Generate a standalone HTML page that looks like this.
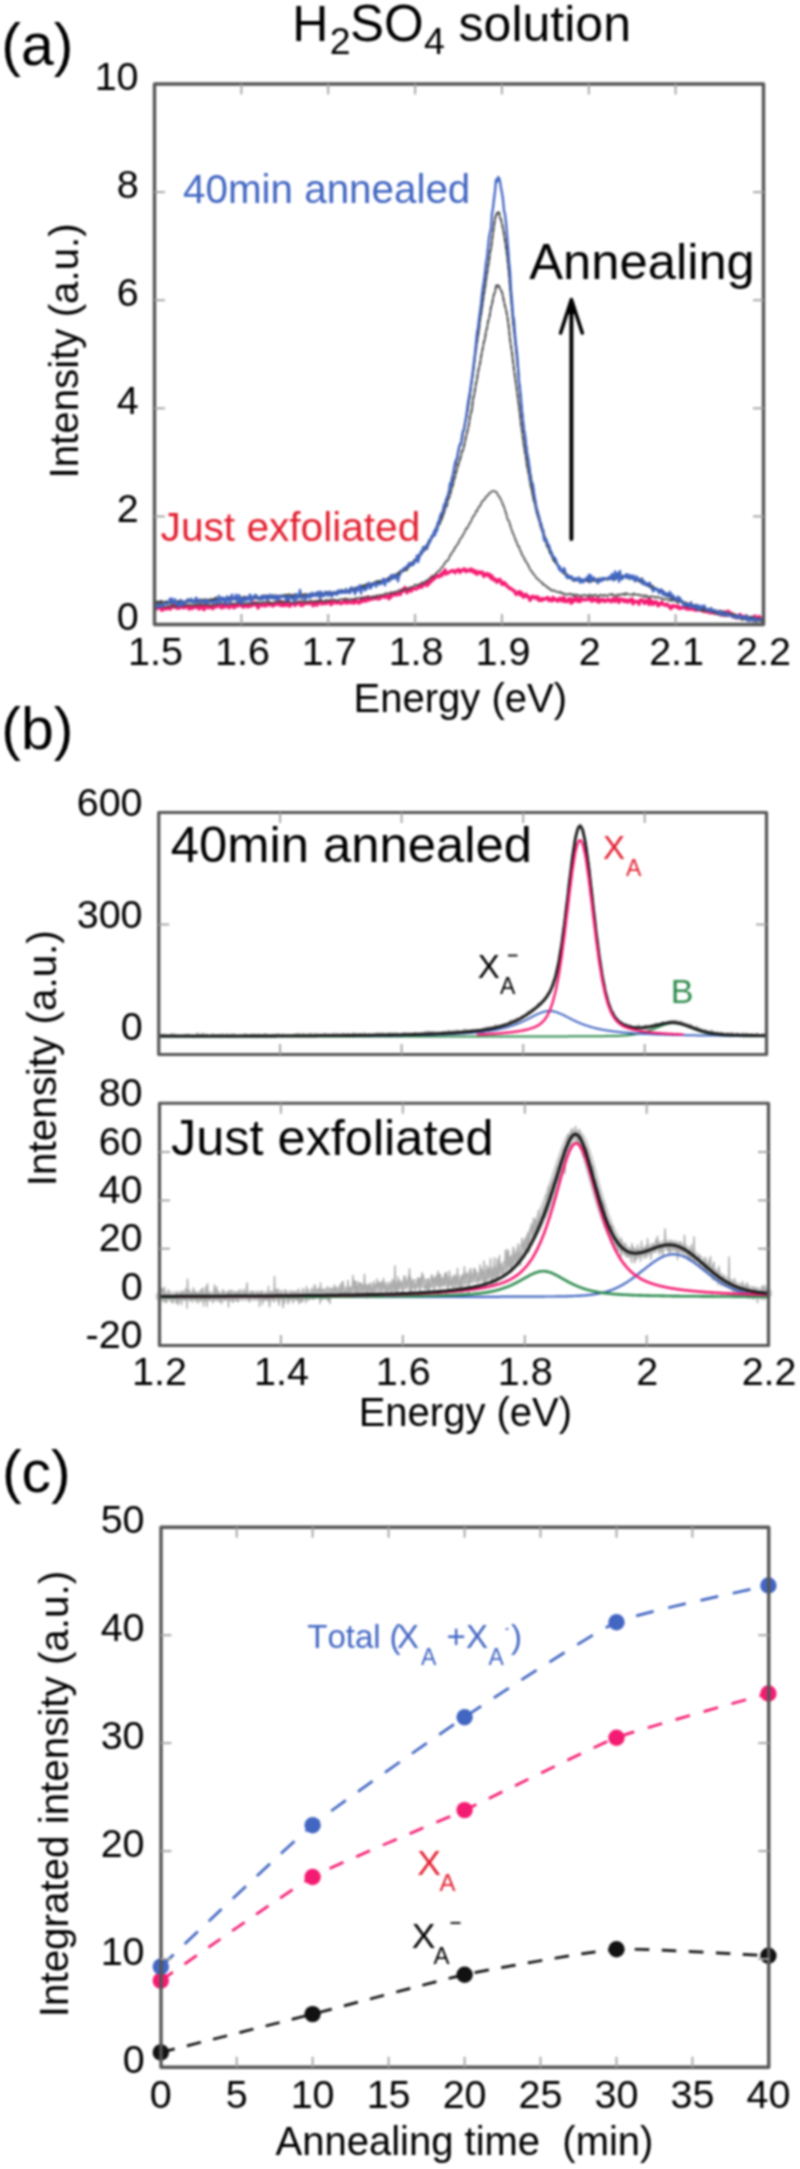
<!DOCTYPE html>
<html><head><meta charset="utf-8"><style>
html,body{margin:0;padding:0;background:#fff;overflow:hidden;}
svg{display:block;}
#w{filter:blur(0.8px);}
text{font-family:"Liberation Sans", sans-serif;font-kerning:none;}
</style></head><body>
<div id="w"><svg width="800" height="2169" viewBox="0 0 800 2169">
<rect width="800" height="2169" fill="#fff"/>
<text x="1.3" y="64.5" font-size="59" fill="#000" text-anchor="start" >(a)</text>
<text y="40.5" font-size="50"><tspan x="292.3">H</tspan><tspan x="329.7" y="54" font-size="37.5">2</tspan><tspan x="350.0" y="41.3" font-size="51">SO</tspan><tspan x="424.1" y="54" font-size="37.5">4</tspan><tspan x="458.6" y="41">solution</tspan></text>
<polyline points="155.0,608.8 156.0,609.1 157.0,608.4 158.0,607.5 159.0,608.0 160.0,607.3 161.0,608.6 162.0,610.3 163.0,607.8 164.0,607.6 165.0,609.0 166.0,608.8 167.0,608.5 168.0,607.1 169.0,608.2 170.0,609.1 171.0,606.4 172.0,607.5 173.0,605.6 174.0,606.4 175.0,605.6 176.0,607.7 177.0,606.3 178.0,608.3 179.0,608.1 180.0,607.6 181.0,604.5 182.0,607.0 183.0,607.6 184.0,607.8 185.0,605.6 186.0,607.0 187.0,606.3 188.0,606.5 189.0,608.9 190.0,606.4 191.0,607.4 192.0,608.5 193.0,606.6 194.0,607.1 195.0,607.4 196.0,607.3 197.0,605.6 198.0,607.2 199.0,608.9 200.0,605.1 201.0,608.1 202.0,607.2 203.0,606.1 204.0,609.5 205.0,607.9 206.0,605.3 207.0,606.9 208.0,607.5 209.0,606.5 210.0,607.6 211.0,606.6 212.0,607.5 213.0,608.5 214.0,605.7 215.0,606.8 216.0,605.9 217.0,606.6 218.0,604.9 219.0,605.6 220.0,606.1 221.0,607.5 222.0,607.8 223.0,604.5 224.0,605.2 225.0,607.0 226.0,603.5 227.0,605.5 228.0,605.9 229.0,607.7 230.0,606.9 231.0,605.5 232.0,605.4 233.0,605.6 234.0,607.8 235.0,605.3 236.0,605.4 237.0,606.2 238.0,605.6 239.0,605.4 240.0,604.2 241.0,605.6 242.0,605.0 243.0,607.1 244.0,606.4 245.0,605.4 246.0,606.3 247.0,605.0 248.0,606.7 249.0,605.3 250.0,606.1 251.0,603.6 252.0,605.7 253.0,603.0 254.0,602.5 255.0,604.7 256.0,603.9 257.0,605.3 258.0,608.0 259.0,603.9 260.0,604.2 261.0,605.2 262.0,605.6 263.0,604.7 264.0,604.6 265.0,605.8 266.0,605.5 267.0,603.4 268.0,604.7 269.0,604.8 270.0,603.3 271.0,605.0 272.0,603.5 273.0,605.9 274.0,604.9 275.0,604.7 276.0,603.8 277.0,604.4 278.0,601.9 279.0,603.0 280.0,604.9 281.0,601.7 282.0,605.5 283.0,602.1 284.0,605.3 285.0,603.2 286.0,605.3 287.0,604.4 288.0,602.3 289.0,605.8 290.0,606.1 291.0,604.1 292.0,603.8 293.0,603.9 294.0,602.8 295.0,605.5 296.0,603.3 297.0,603.9 298.0,602.9 299.0,603.1 300.0,602.3 301.0,605.5 302.0,603.7 303.0,605.1 304.0,603.8 305.0,602.9 306.0,603.3 307.0,603.0 308.0,603.7 309.0,603.2 310.0,603.2 311.0,601.8 312.0,602.5 313.0,605.7 314.0,602.6 315.0,602.1 316.0,603.8 317.0,605.2 318.0,601.4 319.0,603.0 320.0,602.4 321.0,600.9 322.0,604.1 323.0,603.1 324.0,603.2 325.0,602.1 326.0,603.6 327.0,602.2 328.0,602.7 329.0,601.4 330.0,601.2 331.0,604.5 332.0,602.0 333.0,603.0 334.0,602.5 335.0,602.0 336.0,601.8 337.0,603.2 338.0,602.0 339.0,602.1 340.0,602.3 341.0,603.7 342.0,603.0 343.0,602.5 344.0,601.2 345.0,600.1 346.0,603.0 347.0,603.0 348.0,601.5 349.0,602.3 350.0,602.5 351.0,602.5 352.0,602.5 353.0,600.6 354.0,603.1 355.0,599.4 356.0,602.1 357.0,601.5 358.0,601.9 359.0,603.1 360.0,602.5 361.0,599.0 362.0,598.2 363.0,601.3 364.0,598.8 365.0,600.0 366.0,601.0 367.0,597.7 368.0,596.9 369.0,599.9 370.0,599.5 371.0,599.0 372.0,599.2 373.0,597.9 374.0,597.0 375.0,598.6 376.0,597.4 377.0,596.4 378.0,599.0 379.0,598.1 380.0,598.5 381.0,596.5 382.0,596.8 383.0,596.1 384.0,596.1 385.0,597.3 386.0,595.8 387.0,597.0 388.0,596.8 389.0,598.7 390.0,594.1 391.0,596.8 392.0,595.2 393.0,595.1 394.0,592.9 395.0,594.0 396.0,595.2 397.0,593.9 398.0,593.8 399.0,593.0 400.0,594.6 401.0,592.8 402.0,589.7 403.0,591.3 404.0,589.4 405.0,587.4 406.0,590.6 407.0,592.7 408.0,590.7 409.0,588.8 410.0,588.8 411.0,591.2 412.0,589.6 413.0,589.1 414.0,588.7 415.0,588.4 416.0,589.1 417.0,588.4 418.0,587.5 419.0,585.5 420.0,587.1 421.0,585.2 422.0,587.1 423.0,583.5 424.0,584.6 425.0,584.3 426.0,582.1 427.0,585.5 428.0,584.7 429.0,581.6 430.0,582.6 431.0,581.4 432.0,576.8 433.0,579.8 434.0,578.7 435.0,578.1 436.0,575.9 437.0,576.3 438.0,575.8 439.0,577.0 440.0,575.2 441.0,574.1 442.0,575.5 443.0,572.3 444.0,572.1 445.0,569.9 446.0,574.1 447.0,573.2 448.0,572.9 449.0,572.4 450.0,571.5 451.0,571.5 452.0,570.7 453.0,570.7 454.0,570.9 455.0,572.7 456.0,571.3 457.0,570.4 458.0,569.7 459.0,569.6 460.0,572.4 461.0,571.0 462.0,570.4 463.0,569.9 464.0,568.9 465.0,570.3 466.0,571.6 467.0,570.0 468.0,570.3 469.0,570.5 470.0,571.0 471.0,569.0 472.0,570.9 473.0,570.3 474.0,572.7 475.0,570.8 476.0,572.7 477.0,574.2 478.0,572.0 479.0,571.8 480.0,573.0 481.0,573.0 482.0,572.0 483.0,574.2 484.0,576.5 485.0,573.9 486.0,574.3 487.0,573.6 488.0,575.8 489.0,574.2 490.0,574.8 491.0,578.4 492.0,576.0 493.0,579.1 494.0,580.1 495.0,579.0 496.0,579.9 497.0,582.2 498.0,580.0 499.0,580.0 500.0,579.5 501.0,581.9 502.0,584.4 503.0,584.4 504.0,582.6 505.0,583.4 506.0,584.6 507.0,586.4 508.0,586.5 509.0,587.8 510.0,588.6 511.0,588.5 512.0,589.4 513.0,590.4 514.0,590.6 515.0,592.0 516.0,594.4 517.0,593.3 518.0,593.3 519.0,591.6 520.0,594.8 521.0,592.3 522.0,593.5 523.0,596.8 524.0,597.0 525.0,596.1 526.0,594.3 527.0,596.2 528.0,596.1 529.0,598.0 530.0,600.3 531.0,597.8 532.0,596.7 533.0,596.3 534.0,597.9 535.0,597.9 536.0,596.8 537.0,598.6 538.0,597.1 539.0,600.2 540.0,600.2 541.0,600.4 542.0,598.4 543.0,599.8 544.0,599.0 545.0,598.8 546.0,598.9 547.0,597.7 548.0,597.6 549.0,600.5 550.0,599.3 551.0,599.9 552.0,600.9 553.0,597.4 554.0,598.6 555.0,599.9 556.0,600.2 557.0,599.2 558.0,601.1 559.0,600.0 560.0,598.2 561.0,598.6 562.0,600.9 563.0,600.4 564.0,597.4 565.0,601.6 566.0,600.7 567.0,601.6 568.0,599.4 569.0,599.5 570.0,598.5 571.0,603.2 572.0,599.7 573.0,602.0 574.0,599.1 575.0,600.2 576.0,597.8 577.0,599.5 578.0,601.3 579.0,598.4 580.0,601.4 581.0,600.5 582.0,598.7 583.0,599.4 584.0,599.5 585.0,600.0 586.0,599.4 587.0,599.0 588.0,599.7 589.0,598.8 590.0,598.5 591.0,600.1 592.0,601.3 593.0,598.2 594.0,600.2 595.0,599.4 596.0,599.0 597.0,601.3 598.0,599.6 599.0,602.2 600.0,599.3 601.0,600.8 602.0,600.0 603.0,599.4 604.0,601.2 605.0,600.2 606.0,601.2 607.0,600.4 608.0,599.1 609.0,600.4 610.0,600.6 611.0,601.8 612.0,599.4 613.0,600.6 614.0,598.4 615.0,601.5 616.0,599.3 617.0,598.4 618.0,600.7 619.0,602.3 620.0,598.9 621.0,599.5 622.0,600.0 623.0,599.5 624.0,601.5 625.0,600.0 626.0,600.2 627.0,601.9 628.0,600.2 629.0,601.8 630.0,600.0 631.0,599.7 632.0,599.0 633.0,603.8 634.0,601.1 635.0,601.8 636.0,601.5 637.0,601.8 638.0,601.7 639.0,604.2 640.0,600.4 641.0,599.8 642.0,600.6 643.0,600.3 644.0,603.1 645.0,603.3 646.0,601.0 647.0,600.6 648.0,602.1 649.0,604.4 650.0,599.1 651.0,603.6 652.0,601.6 653.0,604.5 654.0,601.9 655.0,603.1 656.0,601.7 657.0,602.5 658.0,605.7 659.0,605.2 660.0,603.7 661.0,603.3 662.0,602.1 663.0,604.3 664.0,604.9 665.0,605.0 666.0,605.2 667.0,604.0 668.0,605.6 669.0,605.8 670.0,607.7 671.0,608.6 672.0,606.2 673.0,605.6 674.0,606.6 675.0,606.1 676.0,606.1 677.0,607.2 678.0,606.0 679.0,608.4 680.0,607.6 681.0,608.2 682.0,607.8 683.0,607.2 684.0,607.1 685.0,608.2 686.0,607.9 687.0,609.1 688.0,608.9 689.0,607.3 690.0,609.3 691.0,607.6 692.0,608.7 693.0,609.2 694.0,607.0 695.0,610.0 696.0,610.2 697.0,610.0 698.0,609.7 699.0,609.9 700.0,609.3 701.0,610.4 702.0,610.1 703.0,611.1 704.0,609.6 705.0,611.6 706.0,611.6 707.0,611.4 708.0,611.1 709.0,612.5 710.0,609.8 711.0,612.7 712.0,612.5 713.0,612.7 714.0,613.0 715.0,611.8 716.0,612.4 717.0,613.8 718.0,613.6 719.0,613.5 720.0,611.4 721.0,614.2 722.0,615.1 723.0,615.1 724.0,614.2 725.0,612.0 726.0,615.4 727.0,614.1 728.0,611.2 729.0,615.1 730.0,612.8 731.0,613.2 732.0,614.2 733.0,616.8 734.0,614.8 735.0,615.8 736.0,617.8 737.0,617.8 738.0,615.7 739.0,615.7 740.0,614.5 741.0,615.4 742.0,617.0 743.0,617.1 744.0,616.8 745.0,618.1 746.0,616.0 747.0,617.0 748.0,618.2 749.0,618.1 750.0,618.9 751.0,618.2 752.0,617.4 753.0,618.4 754.0,616.8 755.0,616.1 756.0,619.1 757.0,618.4 758.0,619.1 759.0,616.6 760.0,618.5 761.0,618.3 762.0,618.1" fill="none" stroke="#f41c72" stroke-width="3.4" stroke-linejoin="round" stroke-linecap="round" />
<polyline points="155.0,605.1 156.0,606.3 157.0,607.0 158.0,606.6 159.0,606.0 160.0,606.3 161.0,606.7 162.0,604.6 163.0,606.1 164.0,606.5 165.0,606.5 166.0,607.1 167.0,606.7 168.0,606.2 169.0,606.1 170.0,606.4 171.0,605.5 172.0,605.8 173.0,606.3 174.0,606.9 175.0,605.6 176.0,605.6 177.0,605.8 178.0,606.4 179.0,605.5 180.0,606.4 181.0,604.9 182.0,605.3 183.0,605.3 184.0,605.8 185.0,606.0 186.0,604.4 187.0,604.7 188.0,605.4 189.0,604.8 190.0,604.2 191.0,605.7 192.0,605.4 193.0,605.3 194.0,604.7 195.0,605.6 196.0,604.8 197.0,605.5 198.0,604.3 199.0,604.3 200.0,604.9 201.0,604.3 202.0,605.1 203.0,604.8 204.0,604.1 205.0,604.6 206.0,604.3 207.0,605.1 208.0,604.1 209.0,604.2 210.0,605.1 211.0,605.7 212.0,605.5 213.0,604.3 214.0,604.4 215.0,605.1 216.0,604.1 217.0,603.6 218.0,604.2 219.0,604.3 220.0,603.5 221.0,603.0 222.0,603.1 223.0,604.3 224.0,603.4 225.0,603.8 226.0,604.0 227.0,604.2 228.0,603.6 229.0,604.0 230.0,603.2 231.0,603.4 232.0,603.0 233.0,604.3 234.0,603.5 235.0,603.1 236.0,603.3 237.0,603.3 238.0,603.8 239.0,602.4 240.0,602.7 241.0,603.1 242.0,604.8 243.0,603.8 244.0,603.1 245.0,603.6 246.0,604.4 247.0,603.0 248.0,602.8 249.0,603.8 250.0,603.3 251.0,603.4 252.0,602.6 253.0,604.1 254.0,603.9 255.0,603.2 256.0,603.2 257.0,601.6 258.0,603.1 259.0,602.6 260.0,602.9 261.0,603.1 262.0,602.4 263.0,601.6 264.0,602.8 265.0,602.1 266.0,602.3 267.0,602.1 268.0,602.3 269.0,601.1 270.0,603.1 271.0,602.5 272.0,603.0 273.0,603.5 274.0,602.3 275.0,601.2 276.0,601.7 277.0,601.5 278.0,601.9 279.0,602.2 280.0,601.0 281.0,602.3 282.0,601.2 283.0,602.3 284.0,602.0 285.0,601.8 286.0,602.0 287.0,601.7 288.0,601.6 289.0,600.9 290.0,601.9 291.0,603.0 292.0,603.0 293.0,602.6 294.0,602.2 295.0,601.4 296.0,602.6 297.0,601.7 298.0,601.6 299.0,601.5 300.0,601.7 301.0,601.3 302.0,601.5 303.0,600.9 304.0,601.3 305.0,602.8 306.0,601.4 307.0,601.3 308.0,601.7 309.0,601.8 310.0,600.6 311.0,601.2 312.0,601.8 313.0,601.4 314.0,601.2 315.0,602.1 316.0,600.7 317.0,601.1 318.0,600.7 319.0,601.9 320.0,599.8 321.0,600.5 322.0,600.5 323.0,601.2 324.0,601.1 325.0,601.6 326.0,599.7 327.0,601.1 328.0,600.4 329.0,600.1 330.0,600.8 331.0,599.9 332.0,599.2 333.0,600.1 334.0,599.4 335.0,599.8 336.0,600.4 337.0,600.3 338.0,601.0 339.0,599.9 340.0,599.0 341.0,599.4 342.0,599.3 343.0,599.0 344.0,599.9 345.0,599.2 346.0,598.3 347.0,599.9 348.0,599.3 349.0,599.5 350.0,599.3 351.0,599.5 352.0,599.1 353.0,599.7 354.0,599.1 355.0,599.0 356.0,598.9 357.0,597.7 358.0,598.4 359.0,598.2 360.0,598.4 361.0,597.4 362.0,599.0 363.0,598.0 364.0,597.1 365.0,596.7 366.0,597.5 367.0,597.5 368.0,597.0 369.0,597.3 370.0,596.8 371.0,597.4 372.0,596.5 373.0,596.7 374.0,597.2 375.0,598.0 376.0,595.8 377.0,595.9 378.0,595.5 379.0,596.4 380.0,595.0 381.0,595.2 382.0,595.3 383.0,594.5 384.0,594.3 385.0,594.4 386.0,593.2 387.0,593.4 388.0,593.8 389.0,593.9 390.0,593.4 391.0,592.2 392.0,592.7 393.0,593.2 394.0,592.8 395.0,592.1 396.0,591.3 397.0,592.0 398.0,590.9 399.0,590.3 400.0,590.2 401.0,591.3 402.0,590.2 403.0,590.5 404.0,589.2 405.0,589.7 406.0,588.4 407.0,588.4 408.0,589.6 409.0,588.3 410.0,587.2 411.0,587.1 412.0,587.0 413.0,587.2 414.0,585.8 415.0,584.7 416.0,585.2 417.0,585.0 418.0,584.7 419.0,585.0 420.0,583.9 421.0,583.8 422.0,582.2 423.0,582.9 424.0,583.1 425.0,581.8 426.0,581.0 427.0,580.4 428.0,580.8 429.0,578.5 430.0,578.4 431.0,578.0 432.0,577.4 433.0,576.0 434.0,575.6 435.0,574.4 436.0,573.7 437.0,572.7 438.0,571.1 439.0,570.8 440.0,570.3 441.0,568.0 442.0,567.3 443.0,566.5 444.0,564.1 445.0,563.4 446.0,561.2 447.0,561.0 448.0,560.1 449.0,558.4 450.0,555.5 451.0,554.5 452.0,552.6 453.0,551.0 454.0,550.4 455.0,547.1 456.0,546.9 457.0,544.6 458.0,543.9 459.0,541.5 460.0,539.4 461.0,538.3 462.0,536.9 463.0,534.8 464.0,533.4 465.0,531.1 466.0,528.5 467.0,528.6 468.0,526.7 469.0,524.6 470.0,522.8 471.0,521.5 472.0,518.8 473.0,516.9 474.0,515.4 475.0,514.5 476.0,511.2 477.0,511.1 478.0,508.4 479.0,506.5 480.0,506.3 481.0,503.8 482.0,501.5 483.0,500.6 484.0,499.9 485.0,498.8 486.0,496.7 487.0,496.2 488.0,495.3 489.0,493.5 490.0,493.1 491.0,492.1 492.0,491.1 493.0,490.8 494.0,491.1 495.0,491.4 496.0,491.8 497.0,493.0 498.0,495.2 499.0,496.2 500.0,498.0 501.0,499.9 502.0,501.7 503.0,505.3 504.0,506.3 505.0,510.3 506.0,512.8 507.0,517.2 508.0,520.3 509.0,521.1 510.0,524.4 511.0,528.0 512.0,530.7 513.0,533.3 514.0,535.5 515.0,538.4 516.0,541.0 517.0,543.1 518.0,546.1 519.0,546.4 520.0,550.4 521.0,551.5 522.0,554.8 523.0,556.1 524.0,557.7 525.0,560.4 526.0,561.5 527.0,563.3 528.0,564.6 529.0,567.2 530.0,569.0 531.0,570.8 532.0,571.6 533.0,573.7 534.0,574.5 535.0,575.7 536.0,577.3 537.0,578.8 538.0,579.1 539.0,580.2 540.0,581.2 541.0,582.2 542.0,582.5 543.0,584.5 544.0,584.4 545.0,585.7 546.0,585.7 547.0,587.1 548.0,587.8 549.0,588.0 550.0,590.0 551.0,589.5 552.0,590.9 553.0,590.8 554.0,590.2 555.0,590.8 556.0,591.7 557.0,591.9 558.0,592.2 559.0,592.4 560.0,591.8 561.0,593.1 562.0,592.2 563.0,594.1 564.0,593.7 565.0,593.9 566.0,594.4 567.0,594.9 568.0,594.0 569.0,593.9 570.0,594.4 571.0,593.8 572.0,594.5 573.0,596.1 574.0,594.5 575.0,595.5 576.0,594.4 577.0,595.4 578.0,595.0 579.0,595.2 580.0,595.6 581.0,596.4 582.0,595.4 583.0,595.4 584.0,594.8 585.0,595.7 586.0,595.2 587.0,595.9 588.0,595.4 589.0,596.5 590.0,594.3 591.0,595.3 592.0,596.0 593.0,595.3 594.0,595.0 595.0,595.3 596.0,594.7 597.0,595.6 598.0,597.0 599.0,596.2 600.0,594.8 601.0,595.0 602.0,595.2 603.0,596.1 604.0,595.0 605.0,595.0 606.0,595.9 607.0,595.9 608.0,595.1 609.0,594.6 610.0,594.3 611.0,594.8 612.0,593.8 613.0,595.5 614.0,594.7 615.0,595.3 616.0,596.1 617.0,595.6 618.0,594.2 619.0,595.3 620.0,595.5 621.0,594.3 622.0,594.1 623.0,594.6 624.0,593.6 625.0,595.5 626.0,593.1 627.0,593.9 628.0,594.4 629.0,594.4 630.0,594.6 631.0,594.7 632.0,594.4 633.0,595.3 634.0,593.3 635.0,594.7 636.0,594.3 637.0,594.9 638.0,595.1 639.0,594.5 640.0,594.8 641.0,595.8 642.0,595.6 643.0,595.1 644.0,596.9 645.0,597.2 646.0,595.1 647.0,596.3 648.0,597.7 649.0,596.8 650.0,596.6 651.0,596.5 652.0,596.4 653.0,596.8 654.0,596.7 655.0,597.7 656.0,597.1 657.0,597.3 658.0,597.0 659.0,597.8 660.0,597.5 661.0,598.1 662.0,599.0 663.0,598.8 664.0,599.1 665.0,599.2 666.0,599.2 667.0,599.3 668.0,599.4 669.0,600.3 670.0,599.4 671.0,601.0 672.0,600.5 673.0,600.2 674.0,600.6 675.0,600.7 676.0,601.4 677.0,601.1 678.0,602.4 679.0,601.5 680.0,600.8 681.0,602.0 682.0,601.4 683.0,602.8 684.0,603.7 685.0,603.7 686.0,602.7 687.0,603.3 688.0,605.0 689.0,604.4 690.0,604.4 691.0,605.3 692.0,606.4 693.0,605.9 694.0,605.5 695.0,605.9 696.0,606.3 697.0,605.8 698.0,605.8 699.0,606.7 700.0,606.4 701.0,607.2 702.0,607.5 703.0,609.1 704.0,607.4 705.0,608.1 706.0,608.4 707.0,609.0 708.0,609.6 709.0,608.9 710.0,608.9 711.0,608.7 712.0,609.3 713.0,610.4 714.0,610.4 715.0,610.0 716.0,610.6 717.0,611.0 718.0,611.5 719.0,611.1 720.0,611.5 721.0,610.8 722.0,611.4 723.0,613.3 724.0,611.3 725.0,612.6 726.0,613.1 727.0,613.0 728.0,613.0 729.0,613.6 730.0,613.9 731.0,614.0 732.0,613.1 733.0,614.4 734.0,614.2 735.0,614.5 736.0,615.2 737.0,615.6 738.0,616.0 739.0,615.3 740.0,616.3 741.0,616.7 742.0,616.8 743.0,617.1 744.0,616.4 745.0,616.5 746.0,617.3 747.0,616.1 748.0,617.2 749.0,616.9 750.0,617.1 751.0,616.5 752.0,617.1 753.0,617.8 754.0,618.5 755.0,618.7 756.0,618.2 757.0,618.2 758.0,618.0 759.0,618.8 760.0,618.6 761.0,619.2 762.0,620.0" fill="none" stroke="#484848" stroke-width="1.9" stroke-linejoin="round" stroke-linecap="round" stroke-dasharray="6 1.5" stroke-opacity="0.9"/>
<polyline points="155.0,603.0 156.0,601.6 157.0,602.1 158.0,601.5 159.0,601.7 160.0,603.9 161.0,602.9 162.0,601.3 163.0,603.2 164.0,603.6 165.0,602.1 166.0,601.8 167.0,602.0 168.0,602.6 169.0,602.8 170.0,603.3 171.0,603.2 172.0,603.1 173.0,603.2 174.0,602.6 175.0,600.5 176.0,601.7 177.0,602.1 178.0,601.4 179.0,602.5 180.0,601.3 181.0,600.7 182.0,602.8 183.0,602.1 184.0,601.6 185.0,602.2 186.0,602.3 187.0,601.5 188.0,599.0 189.0,600.5 190.0,600.7 191.0,600.1 192.0,601.1 193.0,602.0 194.0,600.4 195.0,599.8 196.0,602.6 197.0,600.3 198.0,599.5 199.0,600.8 200.0,600.9 201.0,599.8 202.0,601.1 203.0,599.9 204.0,599.4 205.0,600.4 206.0,600.8 207.0,599.5 208.0,600.3 209.0,599.9 210.0,602.4 211.0,599.2 212.0,601.0 213.0,599.7 214.0,599.5 215.0,600.2 216.0,600.3 217.0,600.6 218.0,599.7 219.0,598.8 220.0,598.8 221.0,599.7 222.0,599.7 223.0,600.3 224.0,599.4 225.0,599.9 226.0,600.2 227.0,599.0 228.0,597.4 229.0,597.6 230.0,597.3 231.0,600.0 232.0,597.7 233.0,599.6 234.0,598.9 235.0,599.9 236.0,599.2 237.0,598.1 238.0,598.0 239.0,598.2 240.0,598.2 241.0,597.5 242.0,597.9 243.0,599.3 244.0,596.3 245.0,598.0 246.0,596.9 247.0,597.8 248.0,598.4 249.0,597.5 250.0,598.2 251.0,596.0 252.0,598.4 253.0,596.8 254.0,597.9 255.0,597.4 256.0,594.9 257.0,596.5 258.0,597.4 259.0,598.5 260.0,597.3 261.0,597.3 262.0,595.7 263.0,598.3 264.0,598.6 265.0,596.9 266.0,596.7 267.0,595.4 268.0,597.6 269.0,599.2 270.0,597.4 271.0,597.8 272.0,597.1 273.0,595.7 274.0,597.8 275.0,595.4 276.0,596.3 277.0,596.7 278.0,597.2 279.0,596.8 280.0,596.7 281.0,595.7 282.0,595.2 283.0,596.3 284.0,595.6 285.0,595.0 286.0,595.0 287.0,595.7 288.0,594.4 289.0,594.8 290.0,594.5 291.0,596.1 292.0,596.3 293.0,597.7 294.0,594.5 295.0,595.2 296.0,596.5 297.0,595.5 298.0,595.3 299.0,597.1 300.0,595.2 301.0,594.4 302.0,594.2 303.0,595.6 304.0,595.6 305.0,594.0 306.0,594.3 307.0,595.6 308.0,595.6 309.0,594.4 310.0,595.5 311.0,595.4 312.0,593.2 313.0,594.4 314.0,595.0 315.0,594.0 316.0,592.5 317.0,594.1 318.0,595.0 319.0,595.7 320.0,592.2 321.0,596.4 322.0,593.0 323.0,594.8 324.0,594.9 325.0,594.6 326.0,593.7 327.0,592.5 328.0,594.0 329.0,592.7 330.0,590.9 331.0,595.7 332.0,593.6 333.0,594.5 334.0,592.0 335.0,594.0 336.0,594.0 337.0,593.8 338.0,592.3 339.0,591.1 340.0,591.9 341.0,589.9 342.0,590.2 343.0,591.7 344.0,590.5 345.0,591.1 346.0,591.0 347.0,592.6 348.0,591.8 349.0,590.4 350.0,591.3 351.0,589.3 352.0,589.4 353.0,590.3 354.0,588.1 355.0,588.7 356.0,587.5 357.0,588.6 358.0,589.6 359.0,587.2 360.0,587.8 361.0,586.5 362.0,586.0 363.0,585.6 364.0,587.8 365.0,588.3 366.0,586.3 367.0,584.9 368.0,585.9 369.0,584.7 370.0,585.4 371.0,584.6 372.0,584.3 373.0,584.3 374.0,582.9 375.0,582.8 376.0,581.3 377.0,582.2 378.0,581.0 379.0,581.9 380.0,580.9 381.0,581.5 382.0,581.5 383.0,579.5 384.0,579.8 385.0,579.3 386.0,580.5 387.0,581.0 388.0,579.9 389.0,578.5 390.0,579.7 391.0,576.6 392.0,578.9 393.0,576.5 394.0,574.1 395.0,578.5 396.0,577.0 397.0,574.1 398.0,574.5 399.0,573.6 400.0,573.2 401.0,571.1 402.0,571.1 403.0,571.4 404.0,570.5 405.0,570.6 406.0,568.8 407.0,570.1 408.0,566.5 409.0,566.6 410.0,563.8 411.0,563.5 412.0,565.0 413.0,562.0 414.0,562.4 415.0,560.8 416.0,558.9 417.0,558.5 418.0,557.3 419.0,556.2 420.0,556.1 421.0,554.9 422.0,552.5 423.0,551.0 424.0,550.8 425.0,549.2 426.0,548.9 427.0,549.0 428.0,545.9 429.0,543.6 430.0,541.9 431.0,539.7 432.0,538.0 433.0,536.2 434.0,534.9 435.0,533.0 436.0,532.1 437.0,528.9 438.0,526.9 439.0,523.6 440.0,523.8 441.0,520.3 442.0,518.8 443.0,515.3 444.0,513.2 445.0,508.9 446.0,507.0 447.0,505.8 448.0,499.2 449.0,498.2 450.0,495.5 451.0,491.0 452.0,488.0 453.0,485.0 454.0,479.8 455.0,477.3 456.0,472.6 457.0,469.2 458.0,465.7 459.0,462.6 460.0,459.4 461.0,456.2 462.0,450.9 463.0,450.5 464.0,446.0 465.0,441.8 466.0,436.8 467.0,432.8 468.0,428.9 469.0,423.9 470.0,416.6 471.0,413.1 472.0,409.3 473.0,399.0 474.0,395.8 475.0,389.6 476.0,383.7 477.0,379.7 478.0,371.9 479.0,367.8 480.0,363.7 481.0,357.0 482.0,351.7 483.0,347.1 484.0,341.6 485.0,338.5 486.0,331.3 487.0,328.2 488.0,321.5 489.0,318.8 490.0,313.7 491.0,307.0 492.0,304.5 493.0,298.4 494.0,294.3 495.0,292.0 496.0,286.3 497.0,284.4 498.0,286.4 499.0,285.9 500.0,288.9 501.0,290.2 502.0,292.1 503.0,296.5 504.0,301.8 505.0,305.9 506.0,309.7 507.0,314.6 508.0,320.9 509.0,328.5 510.0,339.6 511.0,346.3 512.0,352.9 513.0,361.0 514.0,369.6 515.0,377.0 516.0,383.9 517.0,391.2 518.0,399.9 519.0,406.5 520.0,414.9 521.0,424.7 522.0,430.9 523.0,438.8 524.0,446.4 525.0,452.5 526.0,458.2 527.0,466.2 528.0,470.7 529.0,475.4 530.0,482.0 531.0,487.2 532.0,491.2 533.0,497.0 534.0,501.5 535.0,504.2 536.0,510.0 537.0,513.8 538.0,517.3 539.0,519.7 540.0,524.2 541.0,527.7 542.0,530.9 543.0,532.9 544.0,537.5 545.0,538.7 546.0,542.4 547.0,546.4 548.0,547.1 549.0,549.6 550.0,553.3 551.0,554.0 552.0,556.1 553.0,558.5 554.0,561.2 555.0,560.0 556.0,563.0 557.0,564.4 558.0,565.9 559.0,567.5 560.0,568.8 561.0,570.9 562.0,570.7 563.0,572.6 564.0,573.8 565.0,573.6 566.0,575.3 567.0,577.5 568.0,577.0 569.0,576.8 570.0,578.0 571.0,577.8 572.0,579.3 573.0,580.2 574.0,578.9 575.0,579.6 576.0,580.9 577.0,579.5 578.0,580.2 579.0,579.1 580.0,579.3 581.0,579.7 582.0,582.1 583.0,579.9 584.0,579.8 585.0,579.8 586.0,580.2 587.0,581.0 588.0,580.6 589.0,582.3 590.0,580.6 591.0,581.8 592.0,580.7 593.0,581.0 594.0,579.2 595.0,580.4 596.0,580.5 597.0,580.3 598.0,578.6 599.0,581.3 600.0,580.1 601.0,580.0 602.0,580.0 603.0,579.9 604.0,580.4 605.0,578.7 606.0,578.8 607.0,579.8 608.0,579.4 609.0,578.8 610.0,578.4 611.0,578.0 612.0,578.5 613.0,579.4 614.0,577.2 615.0,579.4 616.0,578.6 617.0,577.3 618.0,578.3 619.0,576.1 620.0,575.8 621.0,576.1 622.0,576.8 623.0,576.9 624.0,576.7 625.0,577.3 626.0,575.4 627.0,577.9 628.0,576.4 629.0,577.3 630.0,577.8 631.0,577.4 632.0,577.6 633.0,578.2 634.0,579.5 635.0,580.4 636.0,580.7 637.0,579.7 638.0,580.3 639.0,580.5 640.0,582.1 641.0,580.2 642.0,583.6 643.0,582.4 644.0,582.6 645.0,584.0 646.0,585.1 647.0,585.0 648.0,586.1 649.0,585.8 650.0,587.3 651.0,587.8 652.0,587.1 653.0,589.0 654.0,588.4 655.0,588.9 656.0,588.5 657.0,589.6 658.0,591.1 659.0,589.7 660.0,592.0 661.0,592.2 662.0,592.7 663.0,590.9 664.0,593.3 665.0,594.5 666.0,593.8 667.0,595.1 668.0,593.4 669.0,596.7 670.0,596.0 671.0,597.9 672.0,596.0 673.0,598.8 674.0,598.5 675.0,600.0 676.0,598.9 677.0,599.7 678.0,602.8 679.0,600.5 680.0,601.0 681.0,601.9 682.0,601.6 683.0,604.0 684.0,604.9 685.0,603.1 686.0,602.5 687.0,605.5 688.0,605.8 689.0,605.9 690.0,606.5 691.0,605.0 692.0,606.0 693.0,605.2 694.0,605.5 695.0,608.0 696.0,606.8 697.0,609.7 698.0,608.0 699.0,607.7 700.0,609.3 701.0,610.5 702.0,609.6 703.0,608.3 704.0,610.0 705.0,611.2 706.0,609.8 707.0,609.8 708.0,611.7 709.0,611.1 710.0,610.3 711.0,611.2 712.0,611.1 713.0,612.3 714.0,612.4 715.0,613.6 716.0,613.4 717.0,611.6 718.0,613.7 719.0,614.4 720.0,614.2 721.0,615.0 722.0,613.8 723.0,613.7 724.0,615.6 725.0,614.0 726.0,613.3 727.0,616.4 728.0,615.0 729.0,615.6 730.0,614.9 731.0,615.2 732.0,615.5 733.0,616.4 734.0,617.3 735.0,615.1 736.0,618.0 737.0,616.5 738.0,616.7 739.0,618.5 740.0,617.9 741.0,616.8 742.0,620.0 743.0,617.7 744.0,618.8 745.0,618.9 746.0,620.1 747.0,618.6 748.0,620.0 749.0,618.6 750.0,620.4 751.0,618.8 752.0,619.2 753.0,621.4 754.0,620.1 755.0,620.0 756.0,622.0 757.0,620.4 758.0,619.4 759.0,620.9 760.0,619.3 761.0,621.4 762.0,621.6" fill="none" stroke="#4a4a4a" stroke-width="2.0" stroke-linejoin="round" stroke-linecap="round" stroke-dasharray="5 2"/>
<polyline points="155.0,602.5 156.0,602.4 157.0,603.1 158.0,602.9 159.0,601.9 160.0,603.2 161.0,600.8 162.0,602.2 163.0,602.2 164.0,602.3 165.0,602.7 166.0,601.3 167.0,602.9 168.0,602.1 169.0,601.7 170.0,601.0 171.0,601.1 172.0,602.4 173.0,601.2 174.0,602.0 175.0,602.9 176.0,602.8 177.0,603.2 178.0,601.5 179.0,600.7 180.0,602.6 181.0,601.9 182.0,602.5 183.0,601.5 184.0,602.5 185.0,602.1 186.0,601.9 187.0,601.7 188.0,601.5 189.0,601.3 190.0,601.3 191.0,601.9 192.0,600.5 193.0,602.5 194.0,600.7 195.0,601.7 196.0,600.6 197.0,600.5 198.0,602.4 199.0,600.3 200.0,599.4 201.0,599.8 202.0,600.1 203.0,602.3 204.0,600.5 205.0,601.0 206.0,599.2 207.0,600.4 208.0,600.6 209.0,601.6 210.0,599.3 211.0,600.4 212.0,600.0 213.0,598.8 214.0,599.6 215.0,599.3 216.0,597.4 217.0,600.0 218.0,599.9 219.0,598.9 220.0,598.1 221.0,600.5 222.0,599.4 223.0,600.0 224.0,600.3 225.0,598.5 226.0,599.6 227.0,598.6 228.0,598.7 229.0,598.6 230.0,598.6 231.0,599.6 232.0,598.6 233.0,598.3 234.0,598.1 235.0,598.6 236.0,597.5 237.0,597.7 238.0,598.1 239.0,597.6 240.0,597.9 241.0,597.4 242.0,599.7 243.0,599.1 244.0,598.2 245.0,597.7 246.0,599.7 247.0,597.9 248.0,597.5 249.0,597.8 250.0,597.8 251.0,598.7 252.0,597.4 253.0,599.3 254.0,596.5 255.0,597.9 256.0,596.3 257.0,598.8 258.0,596.9 259.0,597.1 260.0,597.9 261.0,598.2 262.0,596.0 263.0,596.7 264.0,595.7 265.0,597.0 266.0,596.8 267.0,596.5 268.0,596.2 269.0,596.4 270.0,596.0 271.0,597.2 272.0,598.0 273.0,594.9 274.0,596.5 275.0,596.2 276.0,597.0 277.0,595.6 278.0,596.3 279.0,595.5 280.0,597.0 281.0,596.4 282.0,596.2 283.0,596.6 284.0,596.0 285.0,594.8 286.0,596.7 287.0,596.4 288.0,595.9 289.0,596.9 290.0,597.1 291.0,595.0 292.0,595.2 293.0,597.2 294.0,597.1 295.0,595.1 296.0,594.6 297.0,595.1 298.0,595.2 299.0,594.1 300.0,595.5 301.0,594.3 302.0,594.3 303.0,596.2 304.0,594.7 305.0,595.1 306.0,595.7 307.0,595.8 308.0,594.7 309.0,595.0 310.0,594.1 311.0,596.4 312.0,595.3 313.0,593.7 314.0,594.6 315.0,595.2 316.0,594.9 317.0,596.0 318.0,595.5 319.0,593.7 320.0,594.1 321.0,592.9 322.0,594.2 323.0,594.0 324.0,596.2 325.0,593.8 326.0,591.7 327.0,592.9 328.0,593.5 329.0,592.2 330.0,592.4 331.0,592.7 332.0,593.3 333.0,592.7 334.0,591.9 335.0,593.3 336.0,592.0 337.0,591.9 338.0,591.0 339.0,591.4 340.0,592.6 341.0,590.4 342.0,591.6 343.0,592.2 344.0,591.0 345.0,591.4 346.0,590.0 347.0,592.0 348.0,591.6 349.0,590.6 350.0,588.6 351.0,589.0 352.0,590.6 353.0,591.0 354.0,589.4 355.0,590.0 356.0,588.1 357.0,588.2 358.0,588.1 359.0,588.2 360.0,586.1 361.0,588.1 362.0,588.1 363.0,585.6 364.0,585.1 365.0,586.4 366.0,585.1 367.0,583.3 368.0,585.9 369.0,585.0 370.0,584.1 371.0,586.1 372.0,584.0 373.0,582.9 374.0,583.4 375.0,582.1 376.0,582.0 377.0,582.8 378.0,581.6 379.0,581.4 380.0,583.0 381.0,582.0 382.0,581.6 383.0,581.1 384.0,580.7 385.0,581.3 386.0,579.6 387.0,580.9 388.0,578.0 389.0,578.3 390.0,576.8 391.0,577.4 392.0,577.7 393.0,578.1 394.0,575.7 395.0,575.7 396.0,574.9 397.0,573.9 398.0,572.9 399.0,573.4 400.0,571.1 401.0,572.1 402.0,571.2 403.0,569.9 404.0,568.8 405.0,567.7 406.0,569.8 407.0,566.1 408.0,567.9 409.0,566.2 410.0,564.4 411.0,562.8 412.0,563.9 413.0,563.5 414.0,560.1 415.0,559.7 416.0,559.8 417.0,558.0 418.0,558.4 419.0,554.9 420.0,554.7 421.0,551.8 422.0,553.6 423.0,549.7 424.0,547.0 425.0,547.5 426.0,546.1 427.0,546.5 428.0,542.9 429.0,541.6 430.0,540.5 431.0,539.6 432.0,536.4 433.0,535.5 434.0,533.0 435.0,530.3 436.0,528.4 437.0,526.0 438.0,522.8 439.0,522.1 440.0,517.1 441.0,516.7 442.0,513.6 443.0,509.7 444.0,506.1 445.0,503.5 446.0,500.9 447.0,497.9 448.0,494.0 449.0,491.0 450.0,485.9 451.0,482.8 452.0,477.3 453.0,475.5 454.0,470.9 455.0,466.3 456.0,463.6 457.0,459.0 458.0,451.6 459.0,449.9 460.0,444.4 461.0,442.5 462.0,439.5 463.0,432.4 464.0,428.4 465.0,423.4 466.0,419.0 467.0,414.0 468.0,409.0 469.0,400.8 470.0,396.3 471.0,386.8 472.0,380.4 473.0,373.6 474.0,365.6 475.0,356.7 476.0,349.7 477.0,342.7 478.0,335.9 479.0,329.8 480.0,320.4 481.0,314.9 482.0,308.0 483.0,301.0 484.0,293.9 485.0,288.0 486.0,280.2 487.0,273.8 488.0,266.9 489.0,261.6 490.0,252.1 491.0,248.7 492.0,240.2 493.0,233.0 494.0,225.5 495.0,218.8 496.0,215.5 497.0,212.5 498.0,213.0 499.0,212.3 500.0,217.3 501.0,219.7 502.0,223.7 503.0,228.5 504.0,234.2 505.0,240.3 506.0,247.4 507.0,254.8 508.0,263.9 509.0,274.2 510.0,287.4 511.0,298.7 512.0,310.2 513.0,322.0 514.0,331.0 515.0,340.3 516.0,349.2 517.0,359.6 518.0,369.9 519.0,382.7 520.0,391.7 521.0,402.4 522.0,411.0 523.0,420.4 524.0,430.0 525.0,436.2 526.0,444.2 527.0,450.9 528.0,459.4 529.0,464.4 530.0,470.9 531.0,476.9 532.0,482.9 533.0,490.3 534.0,497.6 535.0,499.3 536.0,505.7 537.0,509.4 538.0,512.3 539.0,516.9 540.0,520.6 541.0,523.7 542.0,529.4 543.0,529.3 544.0,534.5 545.0,537.6 546.0,539.8 547.0,543.2 548.0,546.5 549.0,548.4 550.0,550.9 551.0,553.3 552.0,552.9 553.0,558.1 554.0,560.8 555.0,561.5 556.0,563.4 557.0,562.9 558.0,565.6 559.0,566.4 560.0,567.9 561.0,570.4 562.0,569.8 563.0,571.3 564.0,570.7 565.0,573.2 566.0,574.3 567.0,574.4 568.0,575.2 569.0,578.3 570.0,576.1 571.0,576.8 572.0,577.5 573.0,579.7 574.0,580.8 575.0,579.3 576.0,578.4 577.0,578.7 578.0,580.2 579.0,578.4 580.0,580.6 581.0,580.6 582.0,579.5 583.0,580.0 584.0,580.2 585.0,580.9 586.0,578.6 587.0,580.7 588.0,579.3 589.0,579.0 590.0,579.8 591.0,579.5 592.0,578.8 593.0,578.3 594.0,578.9 595.0,581.0 596.0,581.5 597.0,580.3 598.0,580.8 599.0,579.3 600.0,579.6 601.0,579.8 602.0,578.5 603.0,578.5 604.0,579.3 605.0,578.8 606.0,577.9 607.0,579.0 608.0,578.3 609.0,579.2 610.0,578.1 611.0,577.6 612.0,577.8 613.0,577.4 614.0,576.7 615.0,576.8 616.0,577.7 617.0,577.4 618.0,577.8 619.0,575.0 620.0,576.1 621.0,576.0 622.0,576.5 623.0,575.9 624.0,575.9 625.0,577.1 626.0,576.6 627.0,575.6 628.0,578.0 629.0,578.0 630.0,576.8 631.0,578.4 632.0,577.3 633.0,579.3 634.0,578.5 635.0,578.3 636.0,579.1 637.0,579.1 638.0,580.4 639.0,580.8 640.0,581.0 641.0,580.8 642.0,578.4 643.0,582.2 644.0,580.9 645.0,583.2 646.0,584.5 647.0,584.2 648.0,584.1 649.0,584.8 650.0,585.4 651.0,585.5 652.0,586.0 653.0,586.3 654.0,588.7 655.0,588.2 656.0,589.6 657.0,589.1 658.0,589.9 659.0,590.2 660.0,591.3 661.0,592.1 662.0,592.1 663.0,591.8 664.0,592.2 665.0,594.9 666.0,593.7 667.0,594.2 668.0,596.4 669.0,596.6 670.0,596.6 671.0,596.3 672.0,599.3 673.0,598.1 674.0,598.7 675.0,598.6 676.0,598.0 677.0,598.6 678.0,600.6 679.0,601.1 680.0,601.0 681.0,600.6 682.0,600.7 683.0,602.1 684.0,601.5 685.0,604.0 686.0,604.6 687.0,606.5 688.0,605.1 689.0,604.1 690.0,604.2 691.0,602.2 692.0,605.1 693.0,605.8 694.0,607.1 695.0,607.1 696.0,607.4 697.0,607.4 698.0,608.1 699.0,609.1 700.0,607.1 701.0,607.9 702.0,607.4 703.0,610.4 704.0,610.3 705.0,610.1 706.0,608.6 707.0,610.1 708.0,610.0 709.0,610.6 710.0,610.6 711.0,611.5 712.0,610.9 713.0,612.3 714.0,612.0 715.0,611.8 716.0,612.2 717.0,612.1 718.0,613.5 719.0,612.8 720.0,613.6 721.0,613.2 722.0,612.4 723.0,614.8 724.0,613.3 725.0,615.1 726.0,615.1 727.0,613.5 728.0,614.3 729.0,615.0 730.0,614.9 731.0,614.8 732.0,616.7 733.0,616.0 734.0,616.8 735.0,616.3 736.0,617.1 737.0,616.3 738.0,617.2 739.0,617.9 740.0,617.5 741.0,617.2 742.0,616.8 743.0,618.1 744.0,618.4 745.0,618.0 746.0,617.7 747.0,619.0 748.0,620.8 749.0,618.5 750.0,619.1 751.0,619.3 752.0,616.8 753.0,619.3 754.0,618.7 755.0,620.6 756.0,619.3 757.0,618.9 758.0,619.5 759.0,619.9 760.0,619.3 761.0,619.9 762.0,618.7" fill="none" stroke="#424242" stroke-width="2.0" stroke-linejoin="round" stroke-linecap="round" stroke-dasharray="5 2"/>
<polyline points="155.0,603.3 156.0,605.4 157.0,607.8 158.0,605.1 159.0,604.2 160.0,606.0 161.0,605.6 162.0,606.9 163.0,605.6 164.0,603.1 165.0,603.8 166.0,603.6 167.0,603.8 168.0,603.5 169.0,601.4 170.0,598.6 171.0,601.5 172.0,598.6 173.0,603.0 174.0,602.8 175.0,599.2 176.0,604.1 177.0,604.4 178.0,602.7 179.0,606.0 180.0,606.4 181.0,599.8 182.0,604.5 183.0,603.2 184.0,603.1 185.0,604.1 186.0,600.6 187.0,600.8 188.0,600.2 189.0,600.3 190.0,601.7 191.0,598.8 192.0,599.6 193.0,602.9 194.0,601.5 195.0,602.4 196.0,597.6 197.0,599.8 198.0,600.2 199.0,601.4 200.0,600.1 201.0,603.2 202.0,601.1 203.0,601.2 204.0,601.1 205.0,602.5 206.0,600.0 207.0,603.2 208.0,601.8 209.0,601.1 210.0,600.8 211.0,601.7 212.0,602.7 213.0,602.5 214.0,601.2 215.0,602.2 216.0,600.6 217.0,602.9 218.0,600.1 219.0,595.8 220.0,602.9 221.0,600.2 222.0,597.5 223.0,599.5 224.0,597.9 225.0,604.2 226.0,600.7 227.0,596.3 228.0,600.7 229.0,598.6 230.0,603.5 231.0,597.2 232.0,594.6 233.0,599.4 234.0,598.4 235.0,598.2 236.0,594.6 237.0,599.9 238.0,602.5 239.0,594.9 240.0,601.3 241.0,597.6 242.0,603.6 243.0,599.6 244.0,598.2 245.0,600.9 246.0,599.6 247.0,597.2 248.0,599.9 249.0,597.3 250.0,594.5 251.0,602.5 252.0,597.5 253.0,596.9 254.0,598.8 255.0,594.8 256.0,595.2 257.0,596.9 258.0,596.9 259.0,598.1 260.0,600.2 261.0,596.8 262.0,598.8 263.0,599.0 264.0,595.4 265.0,598.2 266.0,595.7 267.0,599.9 268.0,598.5 269.0,597.6 270.0,594.7 271.0,597.7 272.0,595.8 273.0,598.9 274.0,597.1 275.0,595.6 276.0,599.3 277.0,598.8 278.0,596.0 279.0,599.7 280.0,596.5 281.0,596.5 282.0,597.4 283.0,595.5 284.0,596.1 285.0,596.7 286.0,600.2 287.0,600.1 288.0,596.3 289.0,600.2 290.0,596.7 291.0,597.5 292.0,598.6 293.0,597.3 294.0,601.7 295.0,597.1 296.0,594.0 297.0,599.2 298.0,595.5 299.0,595.7 300.0,590.0 301.0,598.3 302.0,597.9 303.0,597.8 304.0,598.1 305.0,599.6 306.0,595.9 307.0,597.9 308.0,594.3 309.0,595.0 310.0,597.9 311.0,596.4 312.0,592.7 313.0,596.2 314.0,595.0 315.0,593.6 316.0,596.2 317.0,594.3 318.0,591.8 319.0,592.7 320.0,598.6 321.0,591.7 322.0,595.2 323.0,596.0 324.0,595.9 325.0,591.9 326.0,593.7 327.0,594.6 328.0,595.9 329.0,592.7 330.0,591.5 331.0,596.0 332.0,596.1 333.0,594.4 334.0,592.3 335.0,594.3 336.0,593.5 337.0,594.9 338.0,590.4 339.0,593.2 340.0,592.5 341.0,590.3 342.0,593.0 343.0,592.4 344.0,591.3 345.0,592.8 346.0,588.8 347.0,591.5 348.0,592.3 349.0,591.8 350.0,593.2 351.0,588.2 352.0,587.3 353.0,590.7 354.0,590.9 355.0,594.2 356.0,590.7 357.0,587.3 358.0,590.6 359.0,586.8 360.0,585.2 361.0,593.5 362.0,588.4 363.0,588.9 364.0,588.3 365.0,590.6 366.0,587.1 367.0,588.8 368.0,583.8 369.0,582.7 370.0,588.3 371.0,588.1 372.0,585.8 373.0,584.9 374.0,584.4 375.0,582.4 376.0,586.7 377.0,584.6 378.0,584.0 379.0,583.4 380.0,584.5 381.0,583.1 382.0,583.3 383.0,578.9 384.0,582.1 385.0,585.3 386.0,579.3 387.0,579.8 388.0,581.5 389.0,581.3 390.0,580.2 391.0,575.1 392.0,579.1 393.0,575.1 394.0,575.3 395.0,577.7 396.0,575.4 397.0,577.1 398.0,581.4 399.0,575.8 400.0,575.0 401.0,570.9 402.0,570.7 403.0,569.0 404.0,569.4 405.0,567.4 406.0,567.5 407.0,567.7 408.0,565.2 409.0,563.4 410.0,562.7 411.0,565.6 412.0,563.9 413.0,564.9 414.0,564.0 415.0,560.0 416.0,561.0 417.0,555.5 418.0,562.2 419.0,558.7 420.0,554.5 421.0,551.3 422.0,553.2 423.0,547.2 424.0,548.2 425.0,550.0 426.0,547.2 427.0,544.5 428.0,546.0 429.0,540.2 430.0,541.3 431.0,537.9 432.0,535.4 433.0,536.3 434.0,531.2 435.0,535.3 436.0,527.8 437.0,530.9 438.0,522.0 439.0,523.0 440.0,516.5 441.0,513.5 442.0,513.7 443.0,511.9 444.0,504.7 445.0,506.8 446.0,499.4 447.0,498.0 448.0,495.0 449.0,491.9 450.0,483.1 451.0,486.4 452.0,480.3 453.0,474.2 454.0,468.8 455.0,463.2 456.0,459.7 457.0,459.5 458.0,453.3 459.0,447.3 460.0,444.3 461.0,444.4 462.0,436.0 463.0,431.0 464.0,430.4 465.0,423.7 466.0,417.7 467.0,410.8 468.0,403.0 469.0,397.3 470.0,391.6 471.0,384.6 472.0,377.8 473.0,370.1 474.0,361.2 475.0,353.2 476.0,342.8 477.0,332.5 478.0,327.9 479.0,319.0 480.0,311.6 481.0,304.3 482.0,294.2 483.0,286.5 484.0,280.5 485.0,272.7 486.0,262.9 487.0,257.2 488.0,247.6 489.0,237.9 490.0,232.4 491.0,228.2 492.0,213.6 493.0,207.9 494.0,199.1 495.0,191.2 496.0,179.9 497.0,181.9 498.0,177.1 499.0,177.9 500.0,181.3 501.0,187.9 502.0,192.9 503.0,199.5 504.0,210.5 505.0,214.6 506.0,222.6 507.0,235.2 508.0,246.6 509.0,261.4 510.0,271.5 511.0,289.9 512.0,300.9 513.0,315.3 514.0,320.3 515.0,334.6 516.0,344.7 517.0,353.1 518.0,366.2 519.0,381.4 520.0,389.0 521.0,398.9 522.0,412.0 523.0,421.4 524.0,430.1 525.0,434.6 526.0,444.0 527.0,453.7 528.0,457.2 529.0,463.9 530.0,473.9 531.0,481.8 532.0,482.2 533.0,484.9 534.0,492.7 535.0,498.7 536.0,505.2 537.0,511.1 538.0,513.6 539.0,516.3 540.0,521.8 541.0,522.9 542.0,528.2 543.0,530.2 544.0,540.4 545.0,539.5 546.0,539.0 547.0,541.4 548.0,545.2 549.0,545.1 550.0,549.3 551.0,551.4 552.0,556.8 553.0,556.1 554.0,557.2 555.0,557.9 556.0,560.0 557.0,563.9 558.0,565.1 559.0,569.3 560.0,566.9 561.0,571.5 562.0,570.8 563.0,571.2 564.0,568.0 565.0,570.4 566.0,575.6 567.0,577.8 568.0,576.1 569.0,578.0 570.0,576.2 571.0,576.8 572.0,576.7 573.0,580.5 574.0,579.4 575.0,578.3 576.0,578.2 577.0,580.1 578.0,579.7 579.0,577.3 580.0,582.7 581.0,579.7 582.0,579.2 583.0,582.3 584.0,581.4 585.0,579.1 586.0,580.5 587.0,577.1 588.0,578.1 589.0,574.7 590.0,582.0 591.0,575.5 592.0,580.9 593.0,577.8 594.0,577.5 595.0,579.1 596.0,580.1 597.0,580.8 598.0,583.3 599.0,580.3 600.0,581.3 601.0,578.1 602.0,580.8 603.0,579.5 604.0,578.0 605.0,578.6 606.0,578.5 607.0,578.9 608.0,579.2 609.0,577.0 610.0,576.4 611.0,579.3 612.0,574.0 613.0,576.0 614.0,580.4 615.0,571.3 616.0,575.3 617.0,578.1 618.0,573.0 619.0,581.8 620.0,570.8 621.0,579.2 622.0,579.4 623.0,578.0 624.0,575.6 625.0,576.9 626.0,574.4 627.0,578.1 628.0,574.3 629.0,576.3 630.0,579.2 631.0,575.1 632.0,577.0 633.0,578.5 634.0,575.7 635.0,581.3 636.0,580.0 637.0,576.5 638.0,579.9 639.0,578.8 640.0,579.4 641.0,581.3 642.0,580.0 643.0,584.0 644.0,580.9 645.0,584.9 646.0,583.2 647.0,585.6 648.0,583.1 649.0,583.7 650.0,582.9 651.0,587.0 652.0,588.3 653.0,591.4 654.0,590.2 655.0,588.5 656.0,588.1 657.0,589.9 658.0,589.6 659.0,593.2 660.0,592.6 661.0,589.4 662.0,590.2 663.0,595.0 664.0,593.3 665.0,592.7 666.0,596.2 667.0,593.5 668.0,594.2 669.0,594.4 670.0,591.8 671.0,598.3 672.0,594.4 673.0,596.3 674.0,596.5 675.0,600.1 676.0,598.9 677.0,599.6 678.0,596.5 679.0,600.3 680.0,597.9 681.0,602.0 682.0,602.6 683.0,602.2 684.0,606.7 685.0,604.0 686.0,604.5 687.0,604.0 688.0,603.7 689.0,606.2 690.0,606.8 691.0,602.7 692.0,607.3 693.0,606.7 694.0,607.7 695.0,607.2 696.0,604.6 697.0,605.0 698.0,610.3 699.0,608.0 700.0,605.6 701.0,608.7 702.0,607.9 703.0,605.9 704.0,605.5 705.0,606.9 706.0,609.9 707.0,609.7 708.0,609.7 709.0,610.7 710.0,611.4 711.0,608.0 712.0,610.7 713.0,610.3 714.0,610.0 715.0,611.2 716.0,611.9 717.0,612.0 718.0,610.9 719.0,612.3 720.0,615.3 721.0,612.2 722.0,611.7 723.0,614.1 724.0,614.7 725.0,614.8 726.0,613.3 727.0,615.9 728.0,614.1 729.0,614.0 730.0,614.8 731.0,615.5 732.0,616.6 733.0,616.8 734.0,616.2 735.0,617.5 736.0,616.7 737.0,617.8 738.0,615.4 739.0,615.4 740.0,618.2 741.0,615.9 742.0,617.3 743.0,617.6 744.0,617.3 745.0,617.5 746.0,619.7 747.0,615.5 748.0,619.4 749.0,621.0 750.0,618.7 751.0,618.7 752.0,619.7 753.0,621.0 754.0,617.8 755.0,619.3 756.0,619.1 757.0,620.0 758.0,619.6 759.0,620.3 760.0,619.2 761.0,619.8 762.0,619.0" fill="none" stroke="#4266c2" stroke-width="2.3" stroke-linejoin="round" stroke-linecap="round" />
<rect x="154.5" y="84.0" width="609.0" height="540.5" fill="none" stroke="#555555" stroke-width="3.4" stroke-linejoin="round"/>
<line x1="241.4" y1="84.0" x2="241.4" y2="94.5" stroke="#a8a8a8" stroke-width="2.0"/>
<line x1="241.4" y1="624.5" x2="241.4" y2="614.0" stroke="#a8a8a8" stroke-width="2.0"/>
<line x1="328.2" y1="84.0" x2="328.2" y2="94.5" stroke="#a8a8a8" stroke-width="2.0"/>
<line x1="328.2" y1="624.5" x2="328.2" y2="614.0" stroke="#a8a8a8" stroke-width="2.0"/>
<line x1="415.1" y1="84.0" x2="415.1" y2="94.5" stroke="#a8a8a8" stroke-width="2.0"/>
<line x1="415.1" y1="624.5" x2="415.1" y2="614.0" stroke="#a8a8a8" stroke-width="2.0"/>
<line x1="501.9" y1="84.0" x2="501.9" y2="94.5" stroke="#a8a8a8" stroke-width="2.0"/>
<line x1="501.9" y1="624.5" x2="501.9" y2="614.0" stroke="#a8a8a8" stroke-width="2.0"/>
<line x1="588.8" y1="84.0" x2="588.8" y2="94.5" stroke="#a8a8a8" stroke-width="2.0"/>
<line x1="588.8" y1="624.5" x2="588.8" y2="614.0" stroke="#a8a8a8" stroke-width="2.0"/>
<line x1="675.6" y1="84.0" x2="675.6" y2="94.5" stroke="#a8a8a8" stroke-width="2.0"/>
<line x1="675.6" y1="624.5" x2="675.6" y2="614.0" stroke="#a8a8a8" stroke-width="2.0"/>
<line x1="154.5" y1="516.4" x2="165.0" y2="516.4" stroke="#a8a8a8" stroke-width="2.0"/>
<line x1="763.5" y1="516.4" x2="753.0" y2="516.4" stroke="#a8a8a8" stroke-width="2.0"/>
<line x1="154.5" y1="408.3" x2="165.0" y2="408.3" stroke="#a8a8a8" stroke-width="2.0"/>
<line x1="763.5" y1="408.3" x2="753.0" y2="408.3" stroke="#a8a8a8" stroke-width="2.0"/>
<line x1="154.5" y1="300.2" x2="165.0" y2="300.2" stroke="#a8a8a8" stroke-width="2.0"/>
<line x1="763.5" y1="300.2" x2="753.0" y2="300.2" stroke="#a8a8a8" stroke-width="2.0"/>
<line x1="154.5" y1="192.1" x2="165.0" y2="192.1" stroke="#a8a8a8" stroke-width="2.0"/>
<line x1="763.5" y1="192.1" x2="753.0" y2="192.1" stroke="#a8a8a8" stroke-width="2.0"/>
<text x="155.5" y="665" font-size="39.5" fill="#000" text-anchor="middle" >1.5</text>
<text x="242.4" y="665" font-size="39.5" fill="#000" text-anchor="middle" >1.6</text>
<text x="329.2" y="665" font-size="39.5" fill="#000" text-anchor="middle" >1.7</text>
<text x="416.1" y="665" font-size="39.5" fill="#000" text-anchor="middle" >1.8</text>
<text x="502.9" y="665" font-size="39.5" fill="#000" text-anchor="middle" >1.9</text>
<text x="589.8" y="665" font-size="39.5" fill="#000" text-anchor="middle" >2</text>
<text x="676.6" y="665" font-size="39.5" fill="#000" text-anchor="middle" >2.1</text>
<text x="763.5" y="665" font-size="39.5" fill="#000" text-anchor="middle" >2.2</text>
<text x="138.6" y="630.4" font-size="39.5" fill="#000" text-anchor="end" >0</text>
<text x="138.6" y="522.3" font-size="39.5" fill="#000" text-anchor="end" >2</text>
<text x="138.6" y="414.2" font-size="39.5" fill="#000" text-anchor="end" >4</text>
<text x="138.6" y="306.1" font-size="39.5" fill="#000" text-anchor="end" >6</text>
<text x="138.6" y="198.0" font-size="39.5" fill="#000" text-anchor="end" >8</text>
<text x="138.6" y="89.9" font-size="39.5" fill="#000" text-anchor="end" >10</text>
<text x="353.6" y="712" font-size="40" fill="#000" text-anchor="start" >Energy (eV)</text>
<text transform="translate(77.8,478.5) rotate(-90)" font-size="40" textLength="255.2" lengthAdjust="spacingAndGlyphs">Intensity (a.u.)</text>
<text x="183.1" y="202.5" font-size="40" fill="#4266c2" text-anchor="start" textLength="287.2" lengthAdjust="spacingAndGlyphs">40min annealed</text>
<text x="160.6" y="540.6" font-size="40" fill="#e31f30" text-anchor="start" textLength="259.7" lengthAdjust="spacingAndGlyphs">Just exfoliated</text>
<text x="529.3" y="279.4" font-size="50" fill="#000" text-anchor="start" textLength="225.5" lengthAdjust="spacingAndGlyphs">Annealing</text>
<line x1="571.4" y1="539" x2="571.4" y2="302" stroke="#000" stroke-width="4" stroke-linecap="round"/>
<polyline points="560.6,333 571.4,299.5 582.3,333" fill="none" stroke="#000" stroke-width="3.6" stroke-linecap="round" stroke-linejoin="round"/>
<polygon points="571.4,300 567.6,314 575.2,314" fill="#000"/>
<text x="1.3" y="749" font-size="59" fill="#000" text-anchor="start" >(b)</text>
<polyline points="159.8,1034.8 160.5,1035.1 161.2,1035.1 162.0,1034.5 162.8,1036.2 163.5,1035.1 164.2,1034.4 165.0,1035.9 165.8,1034.8 166.5,1035.5 167.2,1035.2 168.0,1035.4 168.8,1035.3 169.5,1034.9 170.2,1035.2 171.0,1036.4 171.8,1033.9 172.5,1035.2 173.2,1035.5 174.0,1034.6 174.8,1034.4 175.5,1036.5 176.2,1035.0 177.0,1036.4 177.8,1035.5 178.5,1035.2 179.2,1035.5 180.0,1035.6 180.8,1035.9 181.5,1035.4 182.2,1035.3 183.0,1035.3 183.8,1036.0 184.5,1035.7 185.2,1034.6 186.0,1034.8 186.8,1035.4 187.5,1034.8 188.2,1034.9 189.0,1034.6 189.8,1035.0 190.5,1035.4 191.2,1035.8 192.0,1035.2 192.8,1036.4 193.5,1035.1 194.2,1037.1 195.0,1035.8 195.8,1035.5 196.5,1034.9 197.2,1033.5 198.0,1035.1 198.8,1035.3 199.5,1036.3 200.2,1034.3 201.0,1036.3 201.8,1035.0 202.5,1035.6 203.2,1033.6 204.0,1035.2 204.8,1034.9 205.5,1035.6 206.2,1035.2 207.0,1034.5 207.8,1035.7 208.5,1035.6 209.2,1035.5 210.0,1035.7 210.8,1035.8 211.5,1035.1 212.2,1034.3 213.0,1034.3 213.8,1035.9 214.5,1035.5 215.2,1035.2 216.0,1034.9 216.8,1035.1 217.5,1035.1 218.2,1034.9 219.0,1034.7 219.8,1036.4 220.5,1035.2 221.2,1034.7 222.0,1034.3 222.8,1034.7 223.5,1035.5 224.2,1035.6 225.0,1035.0 225.8,1035.1 226.5,1034.9 227.2,1034.4 228.0,1035.9 228.8,1035.3 229.5,1036.6 230.2,1034.6 231.0,1035.0 231.8,1035.6 232.5,1034.9 233.2,1034.2 234.0,1034.5 234.8,1035.1 235.5,1035.3 236.2,1035.0 237.0,1035.7 237.8,1035.7 238.5,1035.3 239.2,1035.1 240.0,1034.9 240.8,1035.4 241.5,1035.6 242.2,1035.1 243.0,1035.3 243.8,1034.9 244.5,1034.2 245.2,1034.4 246.0,1035.5 246.8,1035.3 247.5,1036.0 248.2,1035.1 249.0,1035.6 249.8,1035.8 250.5,1035.6 251.2,1034.7 252.0,1034.9 252.8,1035.1 253.5,1034.4 254.2,1035.3 255.0,1035.6 255.8,1034.7 256.5,1036.2 257.2,1034.8 258.0,1034.9 258.8,1034.9 259.5,1034.6 260.2,1035.3 261.0,1035.0 261.8,1036.0 262.5,1035.4 263.2,1035.3 264.0,1034.9 264.8,1034.1 265.5,1034.9 266.2,1034.5 267.0,1035.6 267.8,1035.0 268.5,1036.0 269.2,1035.4 270.0,1035.5 270.8,1035.1 271.5,1035.1 272.2,1035.4 273.0,1035.5 273.8,1034.5 274.5,1035.2 275.2,1036.5 276.0,1034.9 276.8,1034.8 277.5,1034.5 278.2,1034.1 279.0,1035.6 279.8,1035.0 280.5,1035.1 281.2,1036.0 282.0,1036.4 282.8,1034.4 283.5,1035.6 284.2,1035.3 285.0,1035.2 285.8,1035.2 286.5,1034.9 287.2,1035.9 288.0,1035.3 288.8,1035.1 289.5,1035.6 290.2,1035.4 291.0,1035.2 291.8,1035.1 292.5,1035.9 293.2,1035.2 294.0,1034.8 294.8,1034.4 295.5,1034.7 296.2,1034.2 297.0,1034.9 297.8,1035.0 298.5,1033.6 299.2,1034.9 300.0,1035.2 300.8,1034.9 301.5,1034.3 302.2,1035.6 303.0,1034.4 303.8,1034.1 304.5,1034.2 305.2,1034.8 306.0,1035.4 306.8,1035.5 307.5,1034.9 308.2,1034.1 309.0,1034.4 309.8,1034.3 310.5,1034.7 311.2,1033.7 312.0,1034.8 312.8,1035.2 313.5,1034.7 314.2,1035.0 315.0,1034.2 315.8,1033.9 316.5,1034.4 317.2,1035.4 318.0,1035.4 318.8,1034.5 319.5,1035.5 320.2,1034.5 321.0,1035.6 321.8,1035.0 322.5,1034.4 323.2,1035.2 324.0,1034.2 324.8,1034.1 325.5,1033.8 326.2,1034.8 327.0,1034.7 327.8,1034.6 328.5,1034.4 329.2,1035.5 330.0,1034.4 330.8,1034.2 331.5,1035.4 332.2,1035.5 333.0,1034.8 333.8,1033.6 334.5,1034.3 335.2,1035.0 336.0,1034.6 336.8,1035.5 337.5,1033.8 338.2,1035.0 339.0,1034.2 339.8,1035.4 340.5,1034.5 341.2,1035.2 342.0,1034.2 342.8,1033.7 343.5,1033.9 344.2,1034.2 345.0,1033.9 345.8,1035.3 346.5,1035.3 347.2,1034.7 348.0,1033.9 348.8,1034.4 349.5,1034.1 350.2,1035.4 351.0,1034.7 351.8,1034.8 352.5,1034.2 353.2,1033.3 354.0,1034.0 354.8,1033.8 355.5,1034.7 356.2,1034.5 357.0,1034.0 357.8,1034.2 358.5,1035.4 359.2,1033.8 360.0,1033.9 360.8,1034.3 361.5,1034.0 362.2,1034.1 363.0,1034.7 363.8,1035.4 364.5,1033.3 365.2,1034.3 366.0,1034.4 366.8,1034.3 367.5,1034.2 368.2,1034.1 369.0,1034.9 369.8,1034.0 370.5,1034.2 371.2,1034.3 372.0,1034.3 372.8,1034.2 373.5,1034.8 374.2,1034.2 375.0,1034.3 375.8,1034.2 376.5,1033.6 377.2,1033.7 378.0,1033.6 378.8,1034.3 379.5,1033.7 380.2,1033.5 381.0,1034.3 381.8,1034.5 382.5,1033.1 383.2,1035.1 384.0,1034.1 384.8,1034.0 385.5,1034.7 386.2,1034.1 387.0,1033.7 387.8,1035.4 388.5,1033.4 389.2,1034.0 390.0,1034.5 390.8,1033.4 391.5,1033.9 392.2,1034.2 393.0,1035.4 393.8,1033.4 394.5,1033.9 395.2,1034.3 396.0,1033.9 396.8,1033.2 397.5,1034.1 398.2,1033.9 399.0,1034.1 399.8,1034.5 400.5,1034.4 401.2,1034.0 402.0,1034.0 402.8,1033.1 403.5,1033.7 404.2,1033.9 405.0,1033.5 405.8,1033.8 406.5,1033.2 407.2,1034.6 408.0,1034.9 408.8,1033.4 409.5,1033.9 410.2,1033.5 411.0,1034.3 411.8,1033.8 412.5,1033.6 413.2,1033.4 414.0,1033.6 414.8,1032.9 415.5,1033.9 416.2,1033.0 417.0,1033.7 417.8,1033.5 418.5,1034.0 419.2,1033.3 420.0,1033.9 420.8,1032.8 421.5,1033.7 422.2,1033.1 423.0,1033.4 423.8,1033.3 424.5,1033.8 425.2,1032.0 426.0,1033.3 426.8,1032.2 427.5,1033.8 428.2,1031.9 429.0,1032.4 429.8,1032.0 430.5,1034.0 431.2,1032.2 432.0,1033.0 432.8,1032.6 433.5,1031.8 434.2,1032.6 435.0,1033.2 435.8,1032.7 436.5,1033.3 437.2,1032.5 438.0,1032.7 438.8,1032.4 439.5,1032.8 440.2,1033.7 441.0,1032.8 441.8,1032.6 442.5,1032.1 443.2,1032.0 444.0,1033.3 444.8,1031.7 445.5,1031.8 446.2,1032.2 447.0,1032.0 447.8,1033.4 448.5,1030.8 449.2,1032.4 450.0,1032.5 450.8,1031.4 451.5,1031.6 452.2,1032.2 453.0,1032.9 453.8,1031.3 454.5,1030.9 455.2,1032.4 456.0,1032.6 456.8,1031.5 457.5,1030.3 458.2,1032.4 459.0,1031.4 459.8,1032.1 460.5,1031.4 461.2,1031.1 462.0,1031.0 462.8,1032.1 463.5,1032.0 464.2,1029.8 465.0,1030.5 465.8,1032.0 466.5,1030.7 467.2,1030.0 468.0,1030.8 468.8,1030.6 469.5,1030.6 470.2,1030.3 471.0,1030.3 471.8,1030.1 472.5,1030.5 473.2,1029.8 474.0,1030.0 474.8,1030.0 475.5,1030.8 476.2,1030.1 477.0,1029.7 477.8,1030.0 478.5,1029.9 479.2,1030.2 480.0,1029.7 480.8,1030.4 481.5,1030.0 482.2,1029.1 483.0,1028.8 483.8,1029.4 484.5,1029.1 485.2,1028.6 486.0,1027.7 486.8,1027.3 487.5,1028.5 488.2,1028.6 489.0,1028.5 489.8,1027.1 490.5,1028.4 491.2,1027.3 492.0,1027.7 492.8,1027.6 493.5,1026.7 494.2,1026.6 495.0,1025.6 495.8,1026.1 496.5,1025.4 497.2,1026.6 498.0,1026.2 498.8,1026.5 499.5,1026.0 500.2,1025.2 501.0,1025.6 501.8,1024.9 502.5,1025.3 503.2,1024.9 504.0,1023.9 504.8,1024.2 505.5,1024.0 506.2,1023.6 507.0,1024.0 507.8,1024.3 508.5,1022.8 509.2,1022.5 510.0,1021.1 510.8,1022.1 511.5,1021.6 512.2,1020.2 513.0,1021.4 513.8,1021.2 514.5,1020.1 515.2,1020.0 516.0,1019.3 516.8,1020.0 517.5,1018.2 518.2,1018.6 519.0,1019.5 519.8,1018.0 520.5,1017.8 521.2,1017.1 522.0,1016.0 522.8,1016.3 523.5,1016.1 524.2,1014.8 525.0,1015.1 525.8,1015.2 526.5,1014.6 527.2,1012.5 528.0,1012.3 528.8,1011.4 529.5,1012.5 530.2,1011.7 531.0,1011.2 531.8,1009.7 532.5,1009.0 533.2,1009.1 534.0,1008.5 534.8,1007.4 535.5,1007.4 536.2,1007.1 537.0,1006.2 537.8,1004.8 538.5,1003.5 539.2,1003.9 540.0,1003.5 540.8,1002.5 541.5,1001.7 542.2,1000.8 543.0,1000.8 543.8,999.5 544.5,998.8 545.2,997.2 546.0,996.5 546.8,995.9 547.5,994.1 548.2,992.8 549.0,992.1 549.8,991.6 550.5,989.5 551.2,988.6 552.0,985.9 552.8,983.9 553.5,981.1 554.2,979.3 555.0,978.0 555.8,974.5 556.5,971.8 557.2,968.5 558.0,964.6 558.8,960.7 559.5,956.8 560.2,952.7 561.0,948.0 561.8,943.1 562.5,937.7 563.2,931.7 564.0,926.3 564.8,920.0 565.5,915.1 566.2,907.1 567.0,901.9 567.8,897.0 568.5,888.9 569.2,882.1 570.0,876.4 570.8,870.9 571.5,864.0 572.2,858.7 573.0,852.8 573.8,847.4 574.5,844.7 575.2,838.6 576.0,834.5 576.8,831.3 577.5,829.2 578.2,827.3 579.0,826.2 579.8,825.3 580.5,824.5 581.2,826.5 582.0,827.5 582.8,829.7 583.5,831.8 584.2,835.8 585.0,839.7 585.8,844.6 586.5,848.7 587.2,855.0 588.0,860.8 588.8,866.1 589.5,872.7 590.2,879.0 591.0,886.7 591.8,891.3 592.5,899.3 593.2,905.2 594.0,912.6 594.8,920.0 595.5,925.5 596.2,932.3 597.0,937.8 597.8,945.4 598.5,950.5 599.2,956.1 600.0,959.9 600.8,965.0 601.5,971.0 602.2,974.7 603.0,978.8 603.8,983.1 604.5,985.8 605.2,990.5 606.0,993.2 606.8,996.4 607.5,998.5 608.2,1001.7 609.0,1003.3 609.8,1006.4 610.5,1008.5 611.2,1010.1 612.0,1011.5 612.8,1013.1 613.5,1012.4 614.2,1015.8 615.0,1016.2 615.8,1017.4 616.5,1018.1 617.2,1018.3 618.0,1019.6 618.8,1021.0 619.5,1022.1 620.2,1021.4 621.0,1021.8 621.8,1023.7 622.5,1022.7 623.2,1024.9 624.0,1024.0 624.8,1023.8 625.5,1025.2 626.2,1025.9 627.0,1024.3 627.8,1026.3 628.5,1025.4 629.2,1026.7 630.0,1025.7 630.8,1025.2 631.5,1026.6 632.2,1027.0 633.0,1027.8 633.8,1027.6 634.5,1027.1 635.2,1026.6 636.0,1026.5 636.8,1026.7 637.5,1026.4 638.2,1026.8 639.0,1025.4 639.8,1027.0 640.5,1026.9 641.2,1028.4 642.0,1027.3 642.8,1026.5 643.5,1027.1 644.2,1025.9 645.0,1026.2 645.8,1025.4 646.5,1027.3 647.2,1026.6 648.0,1025.5 648.8,1026.0 649.5,1026.5 650.2,1026.0 651.0,1025.8 651.8,1024.9 652.5,1024.9 653.2,1025.2 654.0,1025.5 654.8,1024.3 655.5,1023.9 656.2,1025.1 657.0,1023.6 657.8,1024.7 658.5,1024.0 659.2,1024.2 660.0,1024.5 660.8,1023.7 661.5,1023.5 662.2,1022.4 663.0,1022.3 663.8,1023.0 664.5,1023.3 665.2,1023.1 666.0,1023.5 666.8,1022.2 667.5,1022.0 668.2,1022.4 669.0,1021.8 669.8,1021.7 670.5,1021.0 671.2,1022.2 672.0,1021.0 672.8,1021.9 673.5,1020.8 674.2,1022.3 675.0,1021.1 675.8,1022.3 676.5,1021.0 677.2,1021.8 678.0,1022.9 678.8,1021.8 679.5,1022.5 680.2,1022.4 681.0,1021.5 681.8,1023.3 682.5,1023.5 683.2,1022.9 684.0,1024.1 684.8,1023.5 685.5,1023.7 686.2,1024.5 687.0,1024.4 687.8,1026.4 688.5,1024.4 689.2,1026.1 690.0,1026.5 690.8,1025.0 691.5,1025.4 692.2,1027.1 693.0,1026.7 693.8,1027.5 694.5,1028.3 695.2,1027.6 696.0,1027.5 696.8,1026.7 697.5,1028.8 698.2,1028.3 699.0,1029.3 699.8,1029.5 700.5,1028.8 701.2,1030.9 702.0,1030.7 702.8,1030.8 703.5,1029.8 704.2,1030.4 705.0,1030.5 705.8,1030.8 706.5,1030.6 707.2,1031.7 708.0,1031.7 708.8,1031.9 709.5,1031.6 710.2,1032.8 711.0,1032.3 711.8,1030.6 712.5,1032.0 713.2,1032.5 714.0,1033.2 714.8,1032.6 715.5,1032.7 716.2,1032.5 717.0,1033.4 717.8,1032.8 718.5,1032.8 719.2,1032.8 720.0,1033.7 720.8,1033.1 721.5,1032.5 722.2,1033.9 723.0,1033.2 723.8,1033.8 724.5,1033.9 725.2,1034.5 726.0,1034.4 726.8,1033.5 727.5,1033.8 728.2,1033.1 729.0,1034.9 729.8,1034.2 730.5,1034.8 731.2,1033.8 732.0,1032.8 732.8,1035.0 733.5,1034.2 734.2,1034.2 735.0,1034.2 735.8,1034.6 736.5,1034.5 737.2,1033.3 738.0,1034.9 738.8,1033.9 739.5,1034.0 740.2,1035.3 741.0,1034.9 741.8,1034.1 742.5,1033.2 743.2,1034.4 744.0,1034.7 744.8,1034.3 745.5,1033.6 746.2,1033.9 747.0,1033.7 747.8,1034.6 748.5,1034.9 749.2,1035.1 750.0,1034.0 750.8,1034.6 751.5,1034.8 752.2,1034.2 753.0,1034.4 753.8,1035.8 754.5,1034.7 755.2,1035.1 756.0,1034.3 756.8,1034.6 757.5,1033.5 758.2,1034.6 759.0,1035.3 759.8,1035.9 760.5,1035.3 761.2,1035.0 762.0,1034.7 762.8,1034.3 763.5,1034.5 764.2,1035.0 765.0,1034.2" fill="none" stroke="#9a9a9a" stroke-width="2.0" stroke-linejoin="round" stroke-linecap="round" />
<polyline points="159.8,1036.5 160.5,1036.5 161.2,1036.5 162.0,1036.5 162.8,1036.5 163.5,1036.5 164.2,1036.5 165.0,1036.5 165.8,1036.5 166.5,1036.5 167.2,1036.5 168.0,1036.5 168.8,1036.5 169.5,1036.5 170.2,1036.5 171.0,1036.5 171.8,1036.5 172.5,1036.5 173.2,1036.5 174.0,1036.5 174.8,1036.5 175.5,1036.5 176.2,1036.5 177.0,1036.5 177.8,1036.5 178.5,1036.5 179.2,1036.5 180.0,1036.5 180.8,1036.5 181.5,1036.5 182.2,1036.5 183.0,1036.5 183.8,1036.5 184.5,1036.5 185.2,1036.5 186.0,1036.5 186.8,1036.5 187.5,1036.5 188.2,1036.5 189.0,1036.5 189.8,1036.5 190.5,1036.5 191.2,1036.5 192.0,1036.5 192.8,1036.5 193.5,1036.5 194.2,1036.5 195.0,1036.5 195.8,1036.5 196.5,1036.5 197.2,1036.5 198.0,1036.5 198.8,1036.5 199.5,1036.5 200.2,1036.5 201.0,1036.5 201.8,1036.5 202.5,1036.5 203.2,1036.5 204.0,1036.5 204.8,1036.5 205.5,1036.5 206.2,1036.5 207.0,1036.5 207.8,1036.5 208.5,1036.5 209.2,1036.5 210.0,1036.5 210.8,1036.5 211.5,1036.5 212.2,1036.5 213.0,1036.5 213.8,1036.5 214.5,1036.5 215.2,1036.5 216.0,1036.5 216.8,1036.5 217.5,1036.5 218.2,1036.5 219.0,1036.5 219.8,1036.5 220.5,1036.5 221.2,1036.5 222.0,1036.5 222.8,1036.5 223.5,1036.5 224.2,1036.5 225.0,1036.5 225.8,1036.5 226.5,1036.5 227.2,1036.5 228.0,1036.5 228.8,1036.5 229.5,1036.5 230.2,1036.5 231.0,1036.5 231.8,1036.5 232.5,1036.5 233.2,1036.5 234.0,1036.5 234.8,1036.5 235.5,1036.5 236.2,1036.5 237.0,1036.5 237.8,1036.5 238.5,1036.5 239.2,1036.5 240.0,1036.5 240.8,1036.5 241.5,1036.5 242.2,1036.5 243.0,1036.5 243.8,1036.5 244.5,1036.5 245.2,1036.5 246.0,1036.5 246.8,1036.5 247.5,1036.5 248.2,1036.5 249.0,1036.5 249.8,1036.5 250.5,1036.5 251.2,1036.5 252.0,1036.5 252.8,1036.5 253.5,1036.5 254.2,1036.5 255.0,1036.5 255.8,1036.5 256.5,1036.5 257.2,1036.5 258.0,1036.5 258.8,1036.5 259.5,1036.5 260.2,1036.5 261.0,1036.5 261.8,1036.5 262.5,1036.5 263.2,1036.5 264.0,1036.5 264.8,1036.5 265.5,1036.5 266.2,1036.5 267.0,1036.5 267.8,1036.5 268.5,1036.5 269.2,1036.5 270.0,1036.5 270.8,1036.5 271.5,1036.5 272.2,1036.5 273.0,1036.5 273.8,1036.5 274.5,1036.5 275.2,1036.5 276.0,1036.5 276.8,1036.5 277.5,1036.5 278.2,1036.5 279.0,1036.5 279.8,1036.5 280.5,1036.5 281.2,1036.5 282.0,1036.5 282.8,1036.5 283.5,1036.5 284.2,1036.5 285.0,1036.5 285.8,1036.5 286.5,1036.5 287.2,1036.5 288.0,1036.5 288.8,1036.5 289.5,1036.5 290.2,1036.5 291.0,1036.5 291.8,1036.5 292.5,1036.5 293.2,1036.5 294.0,1036.5 294.8,1036.5 295.5,1036.5 296.2,1036.5 297.0,1036.5 297.8,1036.5 298.5,1036.5 299.2,1036.5 300.0,1036.5 300.8,1036.5 301.5,1036.5 302.2,1036.5 303.0,1036.5 303.8,1036.5 304.5,1036.5 305.2,1036.5 306.0,1036.5 306.8,1036.5 307.5,1036.5 308.2,1036.5 309.0,1036.5 309.8,1036.5 310.5,1036.5 311.2,1036.5 312.0,1036.5 312.8,1036.5 313.5,1036.5 314.2,1036.5 315.0,1036.5 315.8,1036.5 316.5,1036.5 317.2,1036.5 318.0,1036.5 318.8,1036.5 319.5,1036.5 320.2,1036.5 321.0,1036.5 321.8,1036.5 322.5,1036.5 323.2,1036.5 324.0,1036.5 324.8,1036.5 325.5,1036.5 326.2,1036.5 327.0,1036.5 327.8,1036.5 328.5,1036.5 329.2,1036.5 330.0,1036.5 330.8,1036.5 331.5,1036.5 332.2,1036.5 333.0,1036.5 333.8,1036.5 334.5,1036.5 335.2,1036.5 336.0,1036.5 336.8,1036.5 337.5,1036.5 338.2,1036.5 339.0,1036.5 339.8,1036.5 340.5,1036.5 341.2,1036.5 342.0,1036.5 342.8,1036.5 343.5,1036.5 344.2,1036.5 345.0,1036.5 345.8,1036.5 346.5,1036.5 347.2,1036.5 348.0,1036.5 348.8,1036.5 349.5,1036.5 350.2,1036.5 351.0,1036.5 351.8,1036.5 352.5,1036.5 353.2,1036.5 354.0,1036.5 354.8,1036.5 355.5,1036.5 356.2,1036.5 357.0,1036.5 357.8,1036.5 358.5,1036.5 359.2,1036.5 360.0,1036.5 360.8,1036.5 361.5,1036.5 362.2,1036.5 363.0,1036.5 363.8,1036.5 364.5,1036.5 365.2,1036.5 366.0,1036.5 366.8,1036.5 367.5,1036.5 368.2,1036.5 369.0,1036.5 369.8,1036.5 370.5,1036.5 371.2,1036.5 372.0,1036.5 372.8,1036.5 373.5,1036.5 374.2,1036.5 375.0,1036.5 375.8,1036.5 376.5,1036.5 377.2,1036.5 378.0,1036.5 378.8,1036.5 379.5,1036.5 380.2,1036.5 381.0,1036.5 381.8,1036.5 382.5,1036.5 383.2,1036.5 384.0,1036.5 384.8,1036.5 385.5,1036.5 386.2,1036.5 387.0,1036.5 387.8,1036.5 388.5,1036.5 389.2,1036.5 390.0,1036.5 390.8,1036.5 391.5,1036.5 392.2,1036.5 393.0,1036.5 393.8,1036.5 394.5,1036.5 395.2,1036.5 396.0,1036.5 396.8,1036.5 397.5,1036.5 398.2,1036.5 399.0,1036.5 399.8,1036.5 400.5,1036.5 401.2,1036.5 402.0,1036.5 402.8,1036.5 403.5,1036.5 404.2,1036.5 405.0,1036.5 405.8,1036.5 406.5,1036.5 407.2,1036.5 408.0,1036.5 408.8,1036.5 409.5,1036.5 410.2,1036.5 411.0,1036.5 411.8,1036.5 412.5,1036.5 413.2,1036.5 414.0,1036.5 414.8,1036.5 415.5,1036.5 416.2,1036.5 417.0,1036.5 417.8,1036.5 418.5,1036.5 419.2,1036.5 420.0,1036.5 420.8,1036.5 421.5,1036.5 422.2,1036.5 423.0,1036.5 423.8,1036.5 424.5,1036.5 425.2,1036.5 426.0,1036.5 426.8,1036.5 427.5,1036.5 428.2,1036.5 429.0,1036.5 429.8,1036.5 430.5,1036.5 431.2,1036.5 432.0,1036.5 432.8,1036.5 433.5,1036.5 434.2,1036.5 435.0,1036.5 435.8,1036.5 436.5,1036.5 437.2,1036.5 438.0,1036.5 438.8,1036.5 439.5,1036.5 440.2,1036.5 441.0,1036.5 441.8,1036.5 442.5,1036.5 443.2,1036.5 444.0,1036.5 444.8,1036.5 445.5,1036.5 446.2,1036.5 447.0,1036.5 447.8,1036.5 448.5,1036.5 449.2,1036.5 450.0,1036.5 450.8,1036.5 451.5,1036.5 452.2,1036.5 453.0,1036.5 453.8,1036.5 454.5,1036.5 455.2,1036.5 456.0,1036.5 456.8,1036.5 457.5,1036.5 458.2,1036.5 459.0,1036.5 459.8,1036.5 460.5,1036.5 461.2,1036.5 462.0,1036.5 462.8,1036.5 463.5,1036.5 464.2,1036.5 465.0,1036.5 465.8,1036.5 466.5,1036.5 467.2,1036.5 468.0,1036.5 468.8,1036.5 469.5,1036.5 470.2,1036.5 471.0,1036.5 471.8,1036.5 472.5,1036.5 473.2,1036.5 474.0,1036.5 474.8,1036.5 475.5,1036.5 476.2,1036.5 477.0,1036.5 477.8,1036.5 478.5,1036.5 479.2,1036.5 480.0,1036.5 480.8,1036.5 481.5,1036.5 482.2,1036.5 483.0,1036.5 483.8,1036.5 484.5,1036.5 485.2,1036.5 486.0,1036.5 486.8,1036.5 487.5,1036.5 488.2,1036.5 489.0,1036.4 489.8,1036.4 490.5,1036.4 491.2,1036.4 492.0,1036.4 492.8,1036.4 493.5,1036.4 494.2,1036.4 495.0,1036.4 495.8,1036.4 496.5,1036.4 497.2,1036.4 498.0,1036.4 498.8,1036.4 499.5,1036.4 500.2,1036.4 501.0,1036.4 501.8,1036.4 502.5,1036.4 503.2,1036.4 504.0,1036.4 504.8,1036.4 505.5,1036.4 506.2,1036.4 507.0,1036.4 507.8,1036.4 508.5,1036.4 509.2,1036.4 510.0,1036.4 510.8,1036.4 511.5,1036.4 512.2,1036.4 513.0,1036.4 513.8,1036.4 514.5,1036.4 515.2,1036.4 516.0,1036.4 516.8,1036.4 517.5,1036.4 518.2,1036.4 519.0,1036.4 519.8,1036.4 520.5,1036.4 521.2,1036.4 522.0,1036.4 522.8,1036.4 523.5,1036.4 524.2,1036.4 525.0,1036.4 525.8,1036.4 526.5,1036.4 527.2,1036.4 528.0,1036.4 528.8,1036.4 529.5,1036.4 530.2,1036.4 531.0,1036.4 531.8,1036.4 532.5,1036.4 533.2,1036.4 534.0,1036.4 534.8,1036.4 535.5,1036.4 536.2,1036.4 537.0,1036.4 537.8,1036.4 538.5,1036.4 539.2,1036.4 540.0,1036.4 540.8,1036.4 541.5,1036.4 542.2,1036.4 543.0,1036.4 543.8,1036.4 544.5,1036.4 545.2,1036.4 546.0,1036.4 546.8,1036.4 547.5,1036.4 548.2,1036.4 549.0,1036.4 549.8,1036.4 550.5,1036.4 551.2,1036.4 552.0,1036.4 552.8,1036.4 553.5,1036.4 554.2,1036.4 555.0,1036.4 555.8,1036.4 556.5,1036.4 557.2,1036.4 558.0,1036.4 558.8,1036.4 559.5,1036.4 560.2,1036.4 561.0,1036.4 561.8,1036.4 562.5,1036.4 563.2,1036.4 564.0,1036.4 564.8,1036.4 565.5,1036.4 566.2,1036.4 567.0,1036.4 567.8,1036.4 568.5,1036.3 569.2,1036.3 570.0,1036.3 570.8,1036.3 571.5,1036.3 572.2,1036.3 573.0,1036.3 573.8,1036.3 574.5,1036.3 575.2,1036.3 576.0,1036.3 576.8,1036.3 577.5,1036.3 578.2,1036.3 579.0,1036.3 579.8,1036.3 580.5,1036.3 581.2,1036.3 582.0,1036.3 582.8,1036.3 583.5,1036.3 584.2,1036.3 585.0,1036.3 585.8,1036.3 586.5,1036.3 587.2,1036.3 588.0,1036.3 588.8,1036.3 589.5,1036.3 590.2,1036.3 591.0,1036.3 591.8,1036.3 592.5,1036.3 593.2,1036.2 594.0,1036.2 594.8,1036.2 595.5,1036.2 596.2,1036.2 597.0,1036.2 597.8,1036.2 598.5,1036.2 599.2,1036.2 600.0,1036.2 600.8,1036.2 601.5,1036.2 602.2,1036.2 603.0,1036.2 603.8,1036.2 604.5,1036.2 605.2,1036.1 606.0,1036.1 606.8,1036.1 607.5,1036.1 608.2,1036.1 609.0,1036.1 609.8,1036.1 610.5,1036.1 611.2,1036.1 612.0,1036.0 612.8,1036.0 613.5,1036.0 614.2,1036.0 615.0,1036.0 615.8,1036.0 616.5,1035.9 617.2,1035.9 618.0,1035.9 618.8,1035.9 619.5,1035.8 620.2,1035.8 621.0,1035.8 621.8,1035.7 622.5,1035.7 623.2,1035.6 624.0,1035.6 624.8,1035.5 625.5,1035.5 626.2,1035.4 627.0,1035.4 627.8,1035.3 628.5,1035.2 629.2,1035.1 630.0,1035.1 630.8,1035.0 631.5,1034.9 632.2,1034.8 633.0,1034.7 633.8,1034.6 634.5,1034.5 635.2,1034.3 636.0,1034.2 636.8,1034.1 637.5,1033.9 638.2,1033.8 639.0,1033.6 639.8,1033.4 640.5,1033.3 641.2,1033.1 642.0,1032.9 642.8,1032.7 643.5,1032.5 644.2,1032.2 645.0,1032.0 645.8,1031.8 646.5,1031.5 647.2,1031.3 648.0,1031.0 648.8,1030.8 649.5,1030.5 650.2,1030.2 651.0,1029.9 651.8,1029.7 652.5,1029.4 653.2,1029.1 654.0,1028.8 654.8,1028.5 655.5,1028.2 656.2,1027.9 657.0,1027.6 657.8,1027.3 658.5,1027.0 659.2,1026.7 660.0,1026.4 660.8,1026.1 661.5,1025.8 662.2,1025.5 663.0,1025.3 663.8,1025.0 664.5,1024.8 665.2,1024.5 666.0,1024.3 666.8,1024.1 667.5,1024.0 668.2,1023.8 669.0,1023.6 669.8,1023.5 670.5,1023.4 671.2,1023.3 672.0,1023.3 672.8,1023.2 673.5,1023.2 674.2,1023.2 675.0,1023.2 675.8,1023.3 676.5,1023.4 677.2,1023.5 678.0,1023.6 678.8,1023.7 679.5,1023.9 680.2,1024.0 681.0,1024.2 681.8,1024.4 682.5,1024.7 683.2,1024.9 684.0,1025.1 684.8,1025.4 685.5,1025.7 686.2,1025.9 687.0,1026.2 687.8,1026.5 688.5,1026.8 689.2,1027.1 690.0,1027.4 690.8,1027.7 691.5,1028.0 692.2,1028.3 693.0,1028.6 693.8,1028.9 694.5,1029.2 695.2,1029.5 696.0,1029.8 696.8,1030.1 697.5,1030.4 698.2,1030.6 699.0,1030.9 699.8,1031.2 700.5,1031.4 701.2,1031.7 702.0,1031.9 702.8,1032.1 703.5,1032.3 704.2,1032.6 705.0,1032.8 705.8,1033.0 706.5,1033.2 707.2,1033.3 708.0,1033.5 708.8,1033.7 709.5,1033.8 710.2,1034.0 711.0,1034.1 711.8,1034.3 712.5,1034.4 713.2,1034.5 714.0,1034.6 714.8,1034.7 715.5,1034.8 716.2,1034.9 717.0,1035.0 717.8,1035.1 718.5,1035.2 719.2,1035.3 720.0,1035.3 720.8,1035.4 721.5,1035.5 722.2,1035.5 723.0,1035.6 723.8,1035.6 724.5,1035.7 725.2,1035.7 726.0,1035.7 726.8,1035.8 727.5,1035.8 728.2,1035.8 729.0,1035.9 729.8,1035.9 730.5,1035.9 731.2,1035.9 732.0,1036.0 732.8,1036.0 733.5,1036.0 734.2,1036.0 735.0,1036.0 735.8,1036.1 736.5,1036.1 737.2,1036.1 738.0,1036.1 738.8,1036.1 739.5,1036.1 740.2,1036.1 741.0,1036.1 741.8,1036.1 742.5,1036.2 743.2,1036.2 744.0,1036.2 744.8,1036.2 745.5,1036.2 746.2,1036.2 747.0,1036.2 747.8,1036.2 748.5,1036.2 749.2,1036.2 750.0,1036.2 750.8,1036.2 751.5,1036.2 752.2,1036.2 753.0,1036.2 753.8,1036.2 754.5,1036.3 755.2,1036.3 756.0,1036.3 756.8,1036.3 757.5,1036.3 758.2,1036.3 759.0,1036.3 759.8,1036.3 760.5,1036.3 761.2,1036.3 762.0,1036.3 762.8,1036.3 763.5,1036.3 764.2,1036.3 765.0,1036.3" fill="none" stroke="#2e8b4e" stroke-width="2.0" stroke-linejoin="round" stroke-linecap="round" />
<polyline points="159.8,1036.3 160.5,1036.3 161.2,1036.3 162.0,1036.3 162.8,1036.3 163.5,1036.3 164.2,1036.3 165.0,1036.3 165.8,1036.3 166.5,1036.3 167.2,1036.3 168.0,1036.3 168.8,1036.3 169.5,1036.3 170.2,1036.3 171.0,1036.3 171.8,1036.3 172.5,1036.3 173.2,1036.3 174.0,1036.3 174.8,1036.3 175.5,1036.3 176.2,1036.3 177.0,1036.3 177.8,1036.3 178.5,1036.3 179.2,1036.3 180.0,1036.3 180.8,1036.3 181.5,1036.3 182.2,1036.3 183.0,1036.3 183.8,1036.3 184.5,1036.3 185.2,1036.3 186.0,1036.3 186.8,1036.3 187.5,1036.3 188.2,1036.3 189.0,1036.3 189.8,1036.3 190.5,1036.3 191.2,1036.3 192.0,1036.3 192.8,1036.3 193.5,1036.3 194.2,1036.3 195.0,1036.3 195.8,1036.3 196.5,1036.3 197.2,1036.3 198.0,1036.3 198.8,1036.3 199.5,1036.3 200.2,1036.3 201.0,1036.3 201.8,1036.3 202.5,1036.3 203.2,1036.3 204.0,1036.3 204.8,1036.3 205.5,1036.3 206.2,1036.3 207.0,1036.3 207.8,1036.3 208.5,1036.3 209.2,1036.3 210.0,1036.3 210.8,1036.3 211.5,1036.3 212.2,1036.3 213.0,1036.3 213.8,1036.3 214.5,1036.3 215.2,1036.3 216.0,1036.3 216.8,1036.3 217.5,1036.3 218.2,1036.3 219.0,1036.3 219.8,1036.3 220.5,1036.3 221.2,1036.3 222.0,1036.3 222.8,1036.3 223.5,1036.3 224.2,1036.3 225.0,1036.3 225.8,1036.3 226.5,1036.3 227.2,1036.3 228.0,1036.2 228.8,1036.2 229.5,1036.2 230.2,1036.2 231.0,1036.2 231.8,1036.2 232.5,1036.2 233.2,1036.2 234.0,1036.2 234.8,1036.2 235.5,1036.2 236.2,1036.2 237.0,1036.2 237.8,1036.2 238.5,1036.2 239.2,1036.2 240.0,1036.2 240.8,1036.2 241.5,1036.2 242.2,1036.2 243.0,1036.2 243.8,1036.2 244.5,1036.2 245.2,1036.2 246.0,1036.2 246.8,1036.2 247.5,1036.2 248.2,1036.2 249.0,1036.2 249.8,1036.2 250.5,1036.2 251.2,1036.2 252.0,1036.2 252.8,1036.2 253.5,1036.2 254.2,1036.2 255.0,1036.2 255.8,1036.2 256.5,1036.2 257.2,1036.2 258.0,1036.2 258.8,1036.2 259.5,1036.2 260.2,1036.2 261.0,1036.2 261.8,1036.2 262.5,1036.2 263.2,1036.2 264.0,1036.2 264.8,1036.2 265.5,1036.2 266.2,1036.2 267.0,1036.2 267.8,1036.2 268.5,1036.2 269.2,1036.2 270.0,1036.2 270.8,1036.2 271.5,1036.2 272.2,1036.2 273.0,1036.2 273.8,1036.2 274.5,1036.2 275.2,1036.2 276.0,1036.2 276.8,1036.2 277.5,1036.2 278.2,1036.1 279.0,1036.1 279.8,1036.1 280.5,1036.1 281.2,1036.1 282.0,1036.1 282.8,1036.1 283.5,1036.1 284.2,1036.1 285.0,1036.1 285.8,1036.1 286.5,1036.1 287.2,1036.1 288.0,1036.1 288.8,1036.1 289.5,1036.1 290.2,1036.1 291.0,1036.1 291.8,1036.1 292.5,1036.1 293.2,1036.1 294.0,1036.1 294.8,1036.1 295.5,1036.1 296.2,1036.1 297.0,1036.1 297.8,1036.1 298.5,1036.1 299.2,1036.1 300.0,1036.1 300.8,1036.1 301.5,1036.1 302.2,1036.1 303.0,1036.1 303.8,1036.1 304.5,1036.1 305.2,1036.1 306.0,1036.1 306.8,1036.1 307.5,1036.1 308.2,1036.1 309.0,1036.1 309.8,1036.1 310.5,1036.1 311.2,1036.0 312.0,1036.0 312.8,1036.0 313.5,1036.0 314.2,1036.0 315.0,1036.0 315.8,1036.0 316.5,1036.0 317.2,1036.0 318.0,1036.0 318.8,1036.0 319.5,1036.0 320.2,1036.0 321.0,1036.0 321.8,1036.0 322.5,1036.0 323.2,1036.0 324.0,1036.0 324.8,1036.0 325.5,1036.0 326.2,1036.0 327.0,1036.0 327.8,1036.0 328.5,1036.0 329.2,1036.0 330.0,1036.0 330.8,1036.0 331.5,1036.0 332.2,1036.0 333.0,1036.0 333.8,1036.0 334.5,1035.9 335.2,1035.9 336.0,1035.9 336.8,1035.9 337.5,1035.9 338.2,1035.9 339.0,1035.9 339.8,1035.9 340.5,1035.9 341.2,1035.9 342.0,1035.9 342.8,1035.9 343.5,1035.9 344.2,1035.9 345.0,1035.9 345.8,1035.9 346.5,1035.9 347.2,1035.9 348.0,1035.9 348.8,1035.9 349.5,1035.9 350.2,1035.9 351.0,1035.9 351.8,1035.8 352.5,1035.8 353.2,1035.8 354.0,1035.8 354.8,1035.8 355.5,1035.8 356.2,1035.8 357.0,1035.8 357.8,1035.8 358.5,1035.8 359.2,1035.8 360.0,1035.8 360.8,1035.8 361.5,1035.8 362.2,1035.8 363.0,1035.8 363.8,1035.8 364.5,1035.8 365.2,1035.8 366.0,1035.7 366.8,1035.7 367.5,1035.7 368.2,1035.7 369.0,1035.7 369.8,1035.7 370.5,1035.7 371.2,1035.7 372.0,1035.7 372.8,1035.7 373.5,1035.7 374.2,1035.7 375.0,1035.7 375.8,1035.7 376.5,1035.7 377.2,1035.6 378.0,1035.6 378.8,1035.6 379.5,1035.6 380.2,1035.6 381.0,1035.6 381.8,1035.6 382.5,1035.6 383.2,1035.6 384.0,1035.6 384.8,1035.6 385.5,1035.6 386.2,1035.6 387.0,1035.5 387.8,1035.5 388.5,1035.5 389.2,1035.5 390.0,1035.5 390.8,1035.5 391.5,1035.5 392.2,1035.5 393.0,1035.5 393.8,1035.5 394.5,1035.5 395.2,1035.4 396.0,1035.4 396.8,1035.4 397.5,1035.4 398.2,1035.4 399.0,1035.4 399.8,1035.4 400.5,1035.4 401.2,1035.4 402.0,1035.4 402.8,1035.3 403.5,1035.3 404.2,1035.3 405.0,1035.3 405.8,1035.3 406.5,1035.3 407.2,1035.3 408.0,1035.3 408.8,1035.2 409.5,1035.2 410.2,1035.2 411.0,1035.2 411.8,1035.2 412.5,1035.2 413.2,1035.2 414.0,1035.2 414.8,1035.1 415.5,1035.1 416.2,1035.1 417.0,1035.1 417.8,1035.1 418.5,1035.1 419.2,1035.0 420.0,1035.0 420.8,1035.0 421.5,1035.0 422.2,1035.0 423.0,1035.0 423.8,1034.9 424.5,1034.9 425.2,1034.9 426.0,1034.9 426.8,1034.9 427.5,1034.9 428.2,1034.8 429.0,1034.8 429.8,1034.8 430.5,1034.8 431.2,1034.8 432.0,1034.7 432.8,1034.7 433.5,1034.7 434.2,1034.7 435.0,1034.7 435.8,1034.6 436.5,1034.6 437.2,1034.6 438.0,1034.6 438.8,1034.5 439.5,1034.5 440.2,1034.5 441.0,1034.5 441.8,1034.4 442.5,1034.4 443.2,1034.4 444.0,1034.4 444.8,1034.3 445.5,1034.3 446.2,1034.3 447.0,1034.2 447.8,1034.2 448.5,1034.2 449.2,1034.1 450.0,1034.1 450.8,1034.1 451.5,1034.0 452.2,1034.0 453.0,1034.0 453.8,1033.9 454.5,1033.9 455.2,1033.9 456.0,1033.8 456.8,1033.8 457.5,1033.7 458.2,1033.7 459.0,1033.7 459.8,1033.6 460.5,1033.6 461.2,1033.5 462.0,1033.5 462.8,1033.4 463.5,1033.4 464.2,1033.4 465.0,1033.3 465.8,1033.3 466.5,1033.2 467.2,1033.1 468.0,1033.1 468.8,1033.0 469.5,1033.0 470.2,1032.9 471.0,1032.9 471.8,1032.8 472.5,1032.7 473.2,1032.7 474.0,1032.6 474.8,1032.6 475.5,1032.5 476.2,1032.4 477.0,1032.3 477.8,1032.3 478.5,1032.2 479.2,1032.1 480.0,1032.0 480.8,1032.0 481.5,1031.9 482.2,1031.8 483.0,1031.7 483.8,1031.6 484.5,1031.5 485.2,1031.4 486.0,1031.3 486.8,1031.2 487.5,1031.1 488.2,1031.0 489.0,1030.9 489.8,1030.8 490.5,1030.7 491.2,1030.6 492.0,1030.5 492.8,1030.3 493.5,1030.2 494.2,1030.1 495.0,1030.0 495.8,1029.8 496.5,1029.7 497.2,1029.5 498.0,1029.4 498.8,1029.2 499.5,1029.1 500.2,1028.9 501.0,1028.8 501.8,1028.6 502.5,1028.4 503.2,1028.2 504.0,1028.1 504.8,1027.9 505.5,1027.7 506.2,1027.5 507.0,1027.3 507.8,1027.1 508.5,1026.8 509.2,1026.6 510.0,1026.4 510.8,1026.2 511.5,1025.9 512.2,1025.7 513.0,1025.4 513.8,1025.2 514.5,1024.9 515.2,1024.6 516.0,1024.3 516.8,1024.0 517.5,1023.8 518.2,1023.4 519.0,1023.1 519.8,1022.8 520.5,1022.5 521.2,1022.2 522.0,1021.8 522.8,1021.5 523.5,1021.1 524.2,1020.8 525.0,1020.4 525.8,1020.1 526.5,1019.7 527.2,1019.3 528.0,1018.9 528.8,1018.5 529.5,1018.2 530.2,1017.8 531.0,1017.4 531.8,1017.0 532.5,1016.6 533.2,1016.2 534.0,1015.8 534.8,1015.5 535.5,1015.1 536.2,1014.7 537.0,1014.4 537.8,1014.0 538.5,1013.7 539.2,1013.4 540.0,1013.1 540.8,1012.8 541.5,1012.5 542.2,1012.2 543.0,1012.0 543.8,1011.8 544.5,1011.6 545.2,1011.4 546.0,1011.3 546.8,1011.2 547.5,1011.1 548.2,1011.0 549.0,1011.0 549.8,1011.0 550.5,1011.0 551.2,1011.1 552.0,1011.2 552.8,1011.3 553.5,1011.4 554.2,1011.5 555.0,1011.7 555.8,1011.9 556.5,1012.2 557.2,1012.4 558.0,1012.7 558.8,1013.0 559.5,1013.3 560.2,1013.6 561.0,1013.9 561.8,1014.3 562.5,1014.6 563.2,1015.0 564.0,1015.3 564.8,1015.7 565.5,1016.1 566.2,1016.5 567.0,1016.9 567.8,1017.3 568.5,1017.6 569.2,1018.0 570.0,1018.4 570.8,1018.8 571.5,1019.2 572.2,1019.6 573.0,1019.9 573.8,1020.3 574.5,1020.7 575.2,1021.0 576.0,1021.4 576.8,1021.7 577.5,1022.1 578.2,1022.4 579.0,1022.7 579.8,1023.0 580.5,1023.3 581.2,1023.7 582.0,1023.9 582.8,1024.2 583.5,1024.5 584.2,1024.8 585.0,1025.1 585.8,1025.3 586.5,1025.6 587.2,1025.8 588.0,1026.1 588.8,1026.3 589.5,1026.5 590.2,1026.8 591.0,1027.0 591.8,1027.2 592.5,1027.4 593.2,1027.6 594.0,1027.8 594.8,1028.0 595.5,1028.2 596.2,1028.4 597.0,1028.5 597.8,1028.7 598.5,1028.9 599.2,1029.0 600.0,1029.2 600.8,1029.3 601.5,1029.5 602.2,1029.6 603.0,1029.8 603.8,1029.9 604.5,1030.1 605.2,1030.2 606.0,1030.3 606.8,1030.4 607.5,1030.5 608.2,1030.7 609.0,1030.8 609.8,1030.9 610.5,1031.0 611.2,1031.1 612.0,1031.2 612.8,1031.3 613.5,1031.4 614.2,1031.5 615.0,1031.6 615.8,1031.7 616.5,1031.8 617.2,1031.8 618.0,1031.9 618.8,1032.0 619.5,1032.1 620.2,1032.2 621.0,1032.2 621.8,1032.3 622.5,1032.4 623.2,1032.5 624.0,1032.5 624.8,1032.6 625.5,1032.7 626.2,1032.7 627.0,1032.8 627.8,1032.8 628.5,1032.9 629.2,1033.0 630.0,1033.0 630.8,1033.1 631.5,1033.1 632.2,1033.2 633.0,1033.2 633.8,1033.3 634.5,1033.3 635.2,1033.4 636.0,1033.4 636.8,1033.5 637.5,1033.5 638.2,1033.6 639.0,1033.6 639.8,1033.7 640.5,1033.7 641.2,1033.7 642.0,1033.8 642.8,1033.8 643.5,1033.9 644.2,1033.9 645.0,1033.9 645.8,1034.0 646.5,1034.0 647.2,1034.0 648.0,1034.1 648.8,1034.1 649.5,1034.1 650.2,1034.2 651.0,1034.2 651.8,1034.2 652.5,1034.3 653.2,1034.3 654.0,1034.3 654.8,1034.3 655.5,1034.4 656.2,1034.4 657.0,1034.4 657.8,1034.5 658.5,1034.5 659.2,1034.5 660.0,1034.5 660.8,1034.6 661.5,1034.6 662.2,1034.6 663.0,1034.6 663.8,1034.6 664.5,1034.7 665.2,1034.7 666.0,1034.7 666.8,1034.7 667.5,1034.8 668.2,1034.8 669.0,1034.8 669.8,1034.8 670.5,1034.8 671.2,1034.9 672.0,1034.9 672.8,1034.9 673.5,1034.9 674.2,1034.9 675.0,1034.9 675.8,1035.0 676.5,1035.0 677.2,1035.0 678.0,1035.0 678.8,1035.0 679.5,1035.0 680.2,1035.1 681.0,1035.1 681.8,1035.1 682.5,1035.1 683.2,1035.1 684.0,1035.1 684.8,1035.1 685.5,1035.2 686.2,1035.2 687.0,1035.2 687.8,1035.2 688.5,1035.2 689.2,1035.2 690.0,1035.2 690.8,1035.3 691.5,1035.3 692.2,1035.3 693.0,1035.3 693.8,1035.3 694.5,1035.3 695.2,1035.3 696.0,1035.3 696.8,1035.4 697.5,1035.4 698.2,1035.4 699.0,1035.4 699.8,1035.4 700.5,1035.4 701.2,1035.4 702.0,1035.4 702.8,1035.4 703.5,1035.4 704.2,1035.5 705.0,1035.5 705.8,1035.5 706.5,1035.5 707.2,1035.5 708.0,1035.5 708.8,1035.5 709.5,1035.5 710.2,1035.5 711.0,1035.5 711.8,1035.5 712.5,1035.6 713.2,1035.6 714.0,1035.6 714.8,1035.6 715.5,1035.6 716.2,1035.6 717.0,1035.6 717.8,1035.6 718.5,1035.6 719.2,1035.6 720.0,1035.6 720.8,1035.6 721.5,1035.6 722.2,1035.7 723.0,1035.7 723.8,1035.7 724.5,1035.7 725.2,1035.7 726.0,1035.7 726.8,1035.7 727.5,1035.7 728.2,1035.7 729.0,1035.7 729.8,1035.7 730.5,1035.7 731.2,1035.7 732.0,1035.7 732.8,1035.7 733.5,1035.8 734.2,1035.8 735.0,1035.8 735.8,1035.8 736.5,1035.8 737.2,1035.8 738.0,1035.8 738.8,1035.8 739.5,1035.8 740.2,1035.8 741.0,1035.8 741.8,1035.8 742.5,1035.8 743.2,1035.8 744.0,1035.8 744.8,1035.8 745.5,1035.8 746.2,1035.8 747.0,1035.8 747.8,1035.9 748.5,1035.9 749.2,1035.9 750.0,1035.9 750.8,1035.9 751.5,1035.9 752.2,1035.9 753.0,1035.9 753.8,1035.9 754.5,1035.9 755.2,1035.9 756.0,1035.9 756.8,1035.9 757.5,1035.9 758.2,1035.9 759.0,1035.9 759.8,1035.9 760.5,1035.9 761.2,1035.9 762.0,1035.9 762.8,1035.9 763.5,1035.9 764.2,1035.9 765.0,1035.9" fill="none" stroke="#4266c2" stroke-width="2.0" stroke-linejoin="round" stroke-linecap="round" />
<polyline points="159.8,1036.2 160.5,1036.2 161.2,1036.2 162.0,1036.2 162.8,1036.2 163.5,1036.2 164.2,1036.2 165.0,1036.2 165.8,1036.2 166.5,1036.2 167.2,1036.2 168.0,1036.2 168.8,1036.2 169.5,1036.2 170.2,1036.2 171.0,1036.2 171.8,1036.2 172.5,1036.2 173.2,1036.2 174.0,1036.2 174.8,1036.2 175.5,1036.2 176.2,1036.2 177.0,1036.2 177.8,1036.2 178.5,1036.2 179.2,1036.2 180.0,1036.2 180.8,1036.2 181.5,1036.2 182.2,1036.2 183.0,1036.2 183.8,1036.2 184.5,1036.2 185.2,1036.2 186.0,1036.2 186.8,1036.2 187.5,1036.2 188.2,1036.2 189.0,1036.2 189.8,1036.2 190.5,1036.2 191.2,1036.2 192.0,1036.2 192.8,1036.2 193.5,1036.2 194.2,1036.2 195.0,1036.2 195.8,1036.2 196.5,1036.2 197.2,1036.2 198.0,1036.2 198.8,1036.2 199.5,1036.2 200.2,1036.2 201.0,1036.2 201.8,1036.1 202.5,1036.1 203.2,1036.1 204.0,1036.1 204.8,1036.1 205.5,1036.1 206.2,1036.1 207.0,1036.1 207.8,1036.1 208.5,1036.1 209.2,1036.1 210.0,1036.1 210.8,1036.1 211.5,1036.1 212.2,1036.1 213.0,1036.1 213.8,1036.1 214.5,1036.1 215.2,1036.1 216.0,1036.1 216.8,1036.1 217.5,1036.1 218.2,1036.1 219.0,1036.1 219.8,1036.1 220.5,1036.1 221.2,1036.1 222.0,1036.1 222.8,1036.1 223.5,1036.1 224.2,1036.1 225.0,1036.1 225.8,1036.1 226.5,1036.1 227.2,1036.1 228.0,1036.1 228.8,1036.1 229.5,1036.1 230.2,1036.1 231.0,1036.1 231.8,1036.1 232.5,1036.1 233.2,1036.1 234.0,1036.1 234.8,1036.1 235.5,1036.1 236.2,1036.1 237.0,1036.1 237.8,1036.1 238.5,1036.1 239.2,1036.1 240.0,1036.1 240.8,1036.1 241.5,1036.1 242.2,1036.1 243.0,1036.1 243.8,1036.1 244.5,1036.1 245.2,1036.0 246.0,1036.0 246.8,1036.0 247.5,1036.0 248.2,1036.0 249.0,1036.0 249.8,1036.0 250.5,1036.0 251.2,1036.0 252.0,1036.0 252.8,1036.0 253.5,1036.0 254.2,1036.0 255.0,1036.0 255.8,1036.0 256.5,1036.0 257.2,1036.0 258.0,1036.0 258.8,1036.0 259.5,1036.0 260.2,1036.0 261.0,1036.0 261.8,1036.0 262.5,1036.0 263.2,1036.0 264.0,1036.0 264.8,1036.0 265.5,1036.0 266.2,1036.0 267.0,1036.0 267.8,1036.0 268.5,1036.0 269.2,1036.0 270.0,1036.0 270.8,1036.0 271.5,1036.0 272.2,1036.0 273.0,1036.0 273.8,1036.0 274.5,1036.0 275.2,1036.0 276.0,1035.9 276.8,1035.9 277.5,1035.9 278.2,1035.9 279.0,1035.9 279.8,1035.9 280.5,1035.9 281.2,1035.9 282.0,1035.9 282.8,1035.9 283.5,1035.9 284.2,1035.9 285.0,1035.9 285.8,1035.9 286.5,1035.9 287.2,1035.9 288.0,1035.9 288.8,1035.9 289.5,1035.9 290.2,1035.9 291.0,1035.9 291.8,1035.9 292.5,1035.9 293.2,1035.9 294.0,1035.9 294.8,1035.9 295.5,1035.9 296.2,1035.9 297.0,1035.9 297.8,1035.9 298.5,1035.9 299.2,1035.8 300.0,1035.8 300.8,1035.8 301.5,1035.8 302.2,1035.8 303.0,1035.8 303.8,1035.8 304.5,1035.8 305.2,1035.8 306.0,1035.8 306.8,1035.8 307.5,1035.8 308.2,1035.8 309.0,1035.8 309.8,1035.8 310.5,1035.8 311.2,1035.8 312.0,1035.8 312.8,1035.8 313.5,1035.8 314.2,1035.8 315.0,1035.8 315.8,1035.8 316.5,1035.8 317.2,1035.7 318.0,1035.7 318.8,1035.7 319.5,1035.7 320.2,1035.7 321.0,1035.7 321.8,1035.7 322.5,1035.7 323.2,1035.7 324.0,1035.7 324.8,1035.7 325.5,1035.7 326.2,1035.7 327.0,1035.7 327.8,1035.7 328.5,1035.7 329.2,1035.7 330.0,1035.7 330.8,1035.7 331.5,1035.7 332.2,1035.7 333.0,1035.6 333.8,1035.6 334.5,1035.6 335.2,1035.6 336.0,1035.6 336.8,1035.6 337.5,1035.6 338.2,1035.6 339.0,1035.6 339.8,1035.6 340.5,1035.6 341.2,1035.6 342.0,1035.6 342.8,1035.6 343.5,1035.6 344.2,1035.6 345.0,1035.6 345.8,1035.5 346.5,1035.5 347.2,1035.5 348.0,1035.5 348.8,1035.5 349.5,1035.5 350.2,1035.5 351.0,1035.5 351.8,1035.5 352.5,1035.5 353.2,1035.5 354.0,1035.5 354.8,1035.5 355.5,1035.5 356.2,1035.4 357.0,1035.4 357.8,1035.4 358.5,1035.4 359.2,1035.4 360.0,1035.4 360.8,1035.4 361.5,1035.4 362.2,1035.4 363.0,1035.4 363.8,1035.4 364.5,1035.4 365.2,1035.4 366.0,1035.3 366.8,1035.3 367.5,1035.3 368.2,1035.3 369.0,1035.3 369.8,1035.3 370.5,1035.3 371.2,1035.3 372.0,1035.3 372.8,1035.3 373.5,1035.2 374.2,1035.2 375.0,1035.2 375.8,1035.2 376.5,1035.2 377.2,1035.2 378.0,1035.2 378.8,1035.2 379.5,1035.2 380.2,1035.2 381.0,1035.1 381.8,1035.1 382.5,1035.1 383.2,1035.1 384.0,1035.1 384.8,1035.1 385.5,1035.1 386.2,1035.1 387.0,1035.1 387.8,1035.0 388.5,1035.0 389.2,1035.0 390.0,1035.0 390.8,1035.0 391.5,1035.0 392.2,1035.0 393.0,1035.0 393.8,1034.9 394.5,1034.9 395.2,1034.9 396.0,1034.9 396.8,1034.9 397.5,1034.9 398.2,1034.9 399.0,1034.8 399.8,1034.8 400.5,1034.8 401.2,1034.8 402.0,1034.8 402.8,1034.8 403.5,1034.7 404.2,1034.7 405.0,1034.7 405.8,1034.7 406.5,1034.7 407.2,1034.7 408.0,1034.6 408.8,1034.6 409.5,1034.6 410.2,1034.6 411.0,1034.6 411.8,1034.6 412.5,1034.5 413.2,1034.5 414.0,1034.5 414.8,1034.5 415.5,1034.5 416.2,1034.4 417.0,1034.4 417.8,1034.4 418.5,1034.4 419.2,1034.4 420.0,1034.3 420.8,1034.3 421.5,1034.3 422.2,1034.3 423.0,1034.2 423.8,1034.2 424.5,1034.2 425.2,1034.2 426.0,1034.1 426.8,1034.1 427.5,1034.1 428.2,1034.1 429.0,1034.0 429.8,1034.0 430.5,1034.0 431.2,1034.0 432.0,1033.9 432.8,1033.9 433.5,1033.9 434.2,1033.8 435.0,1033.8 435.8,1033.8 436.5,1033.8 437.2,1033.7 438.0,1033.7 438.8,1033.7 439.5,1033.6 440.2,1033.6 441.0,1033.6 441.8,1033.5 442.5,1033.5 443.2,1033.4 444.0,1033.4 444.8,1033.4 445.5,1033.3 446.2,1033.3 447.0,1033.3 447.8,1033.2 448.5,1033.2 449.2,1033.1 450.0,1033.1 450.8,1033.0 451.5,1033.0 452.2,1033.0 453.0,1032.9 453.8,1032.9 454.5,1032.8 455.2,1032.8 456.0,1032.7 456.8,1032.7 457.5,1032.6 458.2,1032.6 459.0,1032.5 459.8,1032.5 460.5,1032.4 461.2,1032.3 462.0,1032.3 462.8,1032.2 463.5,1032.2 464.2,1032.1 465.0,1032.0 465.8,1032.0 466.5,1031.9 467.2,1031.8 468.0,1031.8 468.8,1031.7 469.5,1031.6 470.2,1031.6 471.0,1031.5 471.8,1031.4 472.5,1031.3 473.2,1031.2 474.0,1031.2 474.8,1031.1 475.5,1031.0 476.2,1030.9 477.0,1030.8 477.8,1030.7 478.5,1030.6 479.2,1030.5 480.0,1030.4 480.8,1030.3 481.5,1030.2 482.2,1030.1 483.0,1030.0 483.8,1029.9 484.5,1029.8 485.2,1029.7 486.0,1029.5 486.8,1029.4 487.5,1029.3 488.2,1029.2 489.0,1029.0 489.8,1028.9 490.5,1028.7 491.2,1028.6 492.0,1028.5 492.8,1028.3 493.5,1028.1 494.2,1028.0 495.0,1027.8 495.8,1027.7 496.5,1027.5 497.2,1027.3 498.0,1027.1 498.8,1026.9 499.5,1026.7 500.2,1026.5 501.0,1026.3 501.8,1026.1 502.5,1025.9 503.2,1025.7 504.0,1025.5 504.8,1025.2 505.5,1025.0 506.2,1024.8 507.0,1024.5 507.8,1024.2 508.5,1024.0 509.2,1023.7 510.0,1023.4 510.8,1023.1 511.5,1022.8 512.2,1022.5 513.0,1022.2 513.8,1021.9 514.5,1021.6 515.2,1021.2 516.0,1020.9 516.8,1020.5 517.5,1020.1 518.2,1019.8 519.0,1019.4 519.8,1019.0 520.5,1018.6 521.2,1018.1 522.0,1017.7 522.8,1017.3 523.5,1016.8 524.2,1016.4 525.0,1015.9 525.8,1015.4 526.5,1014.9 527.2,1014.4 528.0,1013.9 528.8,1013.4 529.5,1012.9 530.2,1012.3 531.0,1011.8 531.8,1011.2 532.5,1010.7 533.2,1010.1 534.0,1009.5 534.8,1008.9 535.5,1008.3 536.2,1007.7 537.0,1007.0 537.8,1006.4 538.5,1005.7 539.2,1005.1 540.0,1004.4 540.8,1003.7 541.5,1002.9 542.2,1002.2 543.0,1001.4 543.8,1000.6 544.5,999.7 545.2,998.8 546.0,997.8 546.8,996.8 547.5,995.7 548.2,994.5 549.0,993.3 549.8,991.9 550.5,990.4 551.2,988.8 552.0,987.0 552.8,985.1 553.5,982.9 554.2,980.6 555.0,978.1 555.8,975.3 556.5,972.3 557.2,969.1 558.0,965.6 558.8,961.8 559.5,957.7 560.2,953.3 561.0,948.7 561.8,943.8 562.5,938.6 563.2,933.2 564.0,927.5 564.8,921.6 565.5,915.5 566.2,909.3 567.0,903.0 567.8,896.6 568.5,890.2 569.2,883.7 570.0,877.4 570.8,871.2 571.5,865.1 572.2,859.3 573.0,853.8 573.8,848.6 574.5,843.8 575.2,839.6 576.0,835.8 576.8,832.6 577.5,830.0 578.2,828.1 579.0,826.8 579.8,826.2 580.5,826.3 581.2,827.1 582.0,828.7 582.8,830.8 583.5,833.7 584.2,837.1 585.0,841.1 585.8,845.6 586.5,850.6 587.2,856.0 588.0,861.7 588.8,867.8 589.5,874.0 590.2,880.5 591.0,887.1 591.8,893.8 592.5,900.5 593.2,907.2 594.0,913.9 594.8,920.5 595.5,926.9 596.2,933.2 597.0,939.3 597.8,945.3 598.5,951.0 599.2,956.4 600.0,961.7 600.8,966.6 601.5,971.3 602.2,975.8 603.0,980.0 603.8,983.9 604.5,987.6 605.2,991.0 606.0,994.2 606.8,997.1 607.5,999.9 608.2,1002.4 609.0,1004.7 609.8,1006.8 610.5,1008.8 611.2,1010.6 612.0,1012.2 612.8,1013.7 613.5,1015.0 614.2,1016.3 615.0,1017.4 615.8,1018.4 616.5,1019.3 617.2,1020.1 618.0,1020.9 618.8,1021.6 619.5,1022.2 620.2,1022.8 621.0,1023.3 621.8,1023.8 622.5,1024.2 623.2,1024.6 624.0,1025.0 624.8,1025.3 625.5,1025.6 626.2,1025.9 627.0,1026.2 627.8,1026.4 628.5,1026.6 629.2,1026.8 630.0,1027.0 630.8,1027.1 631.5,1027.3 632.2,1027.4 633.0,1027.5 633.8,1027.6 634.5,1027.7 635.2,1027.8 636.0,1027.8 636.8,1027.9 637.5,1027.9 638.2,1027.9 639.0,1027.9 639.8,1027.9 640.5,1027.9 641.2,1027.9 642.0,1027.8 642.8,1027.8 643.5,1027.7 644.2,1027.7 645.0,1027.6 645.8,1027.5 646.5,1027.4 647.2,1027.3 648.0,1027.2 648.8,1027.0 649.5,1026.9 650.2,1026.8 651.0,1026.6 651.8,1026.4 652.5,1026.3 653.2,1026.1 654.0,1025.9 654.8,1025.7 655.5,1025.6 656.2,1025.4 657.0,1025.2 657.8,1025.0 658.5,1024.8 659.2,1024.6 660.0,1024.4 660.8,1024.3 661.5,1024.1 662.2,1023.9 663.0,1023.7 663.8,1023.6 664.5,1023.4 665.2,1023.3 666.0,1023.2 666.8,1023.0 667.5,1022.9 668.2,1022.8 669.0,1022.8 669.8,1022.7 670.5,1022.6 671.2,1022.6 672.0,1022.6 672.8,1022.6 673.5,1022.6 674.2,1022.7 675.0,1022.7 675.8,1022.8 676.5,1022.9 677.2,1023.0 678.0,1023.2 678.8,1023.3 679.5,1023.5 680.2,1023.7 681.0,1023.9 681.8,1024.1 682.5,1024.3 683.2,1024.5 684.0,1024.8 684.8,1025.0 685.5,1025.3 686.2,1025.5 687.0,1025.8 687.8,1026.1 688.5,1026.3 689.2,1026.6 690.0,1026.9 690.8,1027.2 691.5,1027.5 692.2,1027.7 693.0,1028.0 693.8,1028.3 694.5,1028.6 695.2,1028.8 696.0,1029.1 696.8,1029.4 697.5,1029.6 698.2,1029.9 699.0,1030.1 699.8,1030.4 700.5,1030.6 701.2,1030.8 702.0,1031.1 702.8,1031.3 703.5,1031.5 704.2,1031.7 705.0,1031.9 705.8,1032.1 706.5,1032.2 707.2,1032.4 708.0,1032.6 708.8,1032.7 709.5,1032.9 710.2,1033.0 711.0,1033.2 711.8,1033.3 712.5,1033.4 713.2,1033.5 714.0,1033.6 714.8,1033.7 715.5,1033.8 716.2,1033.9 717.0,1034.0 717.8,1034.1 718.5,1034.2 719.2,1034.3 720.0,1034.3 720.8,1034.4 721.5,1034.5 722.2,1034.5 723.0,1034.6 723.8,1034.6 724.5,1034.7 725.2,1034.7 726.0,1034.8 726.8,1034.8 727.5,1034.9 728.2,1034.9 729.0,1034.9 729.8,1035.0 730.5,1035.0 731.2,1035.0 732.0,1035.1 732.8,1035.1 733.5,1035.1 734.2,1035.1 735.0,1035.2 735.8,1035.2 736.5,1035.2 737.2,1035.2 738.0,1035.2 738.8,1035.3 739.5,1035.3 740.2,1035.3 741.0,1035.3 741.8,1035.3 742.5,1035.3 743.2,1035.4 744.0,1035.4 744.8,1035.4 745.5,1035.4 746.2,1035.4 747.0,1035.4 747.8,1035.4 748.5,1035.4 749.2,1035.5 750.0,1035.5 750.8,1035.5 751.5,1035.5 752.2,1035.5 753.0,1035.5 753.8,1035.5 754.5,1035.5 755.2,1035.5 756.0,1035.6 756.8,1035.6 757.5,1035.6 758.2,1035.6 759.0,1035.6 759.8,1035.6 760.5,1035.6 761.2,1035.6 762.0,1035.6 762.8,1035.6 763.5,1035.6 764.2,1035.7 765.0,1035.7" fill="none" stroke="#1a1a1a" stroke-width="2.8" stroke-linejoin="round" stroke-linecap="round" />
<polyline points="477.8,1034.5 478.5,1034.5 479.2,1034.4 480.0,1034.4 480.8,1034.4 481.5,1034.3 482.2,1034.3 483.0,1034.3 483.8,1034.2 484.5,1034.2 485.2,1034.2 486.0,1034.1 486.8,1034.1 487.5,1034.1 488.2,1034.0 489.0,1034.0 489.8,1033.9 490.5,1033.9 491.2,1033.9 492.0,1033.8 492.8,1033.8 493.5,1033.7 494.2,1033.7 495.0,1033.6 495.8,1033.6 496.5,1033.5 497.2,1033.5 498.0,1033.4 498.8,1033.4 499.5,1033.3 500.2,1033.3 501.0,1033.2 501.8,1033.1 502.5,1033.1 503.2,1033.0 504.0,1032.9 504.8,1032.9 505.5,1032.8 506.2,1032.7 507.0,1032.7 507.8,1032.6 508.5,1032.5 509.2,1032.4 510.0,1032.4 510.8,1032.3 511.5,1032.2 512.2,1032.1 513.0,1032.0 513.8,1031.9 514.5,1031.8 515.2,1031.7 516.0,1031.6 516.8,1031.5 517.5,1031.4 518.2,1031.3 519.0,1031.1 519.8,1031.0 520.5,1030.9 521.2,1030.8 522.0,1030.6 522.8,1030.5 523.5,1030.3 524.2,1030.2 525.0,1030.0 525.8,1029.8 526.5,1029.7 527.2,1029.5 528.0,1029.3 528.8,1029.1 529.5,1028.9 530.2,1028.7 531.0,1028.4 531.8,1028.2 532.5,1027.9 533.2,1027.7 534.0,1027.4 534.8,1027.1 535.5,1026.7 536.2,1026.4 537.0,1026.0 537.8,1025.6 538.5,1025.1 539.2,1024.7 540.0,1024.1 540.8,1023.6 541.5,1022.9 542.2,1022.2 543.0,1021.5 543.8,1020.7 544.5,1019.8 545.2,1018.8 546.0,1017.7 546.8,1016.5 547.5,1015.2 548.2,1013.8 549.0,1012.2 549.8,1010.5 550.5,1008.6 551.2,1006.6 552.0,1004.4 552.8,1001.9 553.5,999.3 554.2,996.5 555.0,993.5 555.8,990.2 556.5,986.7 557.2,983.0 558.0,979.0 558.8,974.8 559.5,970.3 560.2,965.6 561.0,960.6 561.8,955.5 562.5,950.1 563.2,944.5 564.0,938.7 564.8,932.8 565.5,926.7 566.2,920.6 567.0,914.3 567.8,908.0 568.5,901.8 569.2,895.5 570.0,889.4 570.8,883.4 571.5,877.6 572.2,872.0 573.0,866.7 573.8,861.8 574.5,857.2 575.2,853.1 576.0,849.5 576.8,846.5 577.5,844.0 578.2,842.2 579.0,840.9 579.8,840.3 580.5,840.4 581.2,841.2 582.0,842.6 582.8,844.6 583.5,847.2 584.2,850.4 585.0,854.1 585.8,858.3 586.5,863.0 587.2,868.0 588.0,873.4 588.8,879.0 589.5,884.9 590.2,890.9 591.0,897.1 591.8,903.4 592.5,909.6 593.2,915.9 594.0,922.1 594.8,928.3 595.5,934.3 596.2,940.2 597.0,945.9 597.8,951.5 598.5,956.8 599.2,961.9 600.0,966.8 600.8,971.4 601.5,975.9 602.2,980.0 603.0,983.9 603.8,987.6 604.5,991.1 605.2,994.3 606.0,997.3 606.8,1000.0 607.5,1002.6 608.2,1004.9 609.0,1007.1 609.8,1009.1 610.5,1010.9 611.2,1012.6 612.0,1014.1 612.8,1015.5 613.5,1016.8 614.2,1018.0 615.0,1019.0 615.8,1020.0 616.5,1020.9 617.2,1021.7 618.0,1022.4 618.8,1023.1 619.5,1023.7 620.2,1024.3 621.0,1024.8 621.8,1025.3 622.5,1025.7 623.2,1026.1 624.0,1026.5 624.8,1026.8 625.5,1027.2 626.2,1027.5 627.0,1027.7 627.8,1028.0 628.5,1028.3 629.2,1028.5 630.0,1028.7 630.8,1029.0 631.5,1029.2 632.2,1029.4 633.0,1029.5 633.8,1029.7 634.5,1029.9 635.2,1030.1 636.0,1030.2 636.8,1030.4 637.5,1030.5 638.2,1030.7 639.0,1030.8 639.8,1030.9 640.5,1031.1 641.2,1031.2 642.0,1031.3 642.8,1031.4 643.5,1031.5 644.2,1031.6 645.0,1031.7 645.8,1031.8 646.5,1031.9 647.2,1032.0 648.0,1032.1 648.8,1032.2 649.5,1032.3 650.2,1032.4 651.0,1032.5 651.8,1032.5 652.5,1032.6 653.2,1032.7 654.0,1032.8 654.8,1032.8 655.5,1032.9 656.2,1033.0 657.0,1033.0 657.8,1033.1 658.5,1033.2 659.2,1033.2 660.0,1033.3 660.8,1033.3 661.5,1033.4 662.2,1033.4 663.0,1033.5 663.8,1033.5 664.5,1033.6 665.2,1033.6 666.0,1033.7 666.8,1033.7 667.5,1033.8 668.2,1033.8 669.0,1033.9 669.8,1033.9 670.5,1034.0 671.2,1034.0 672.0,1034.0 672.8,1034.1 673.5,1034.1 674.2,1034.1 675.0,1034.2 675.8,1034.2 676.5,1034.2 677.2,1034.3 678.0,1034.3 678.8,1034.3 679.5,1034.4 680.2,1034.4 681.0,1034.4 681.8,1034.5 682.5,1034.5" fill="none" stroke="#f41c72" stroke-width="2.4" stroke-linejoin="round" stroke-linecap="round" />
<rect x="158.75" y="812.5" width="607.75" height="242.0" fill="none" stroke="#555555" stroke-width="3.2" stroke-linejoin="round"/>
<line x1="280.1" y1="812.5" x2="280.1" y2="823.0" stroke="#a8a8a8" stroke-width="2.0"/>
<line x1="280.1" y1="1054.5" x2="280.1" y2="1044.0" stroke="#a8a8a8" stroke-width="2.0"/>
<line x1="401.6" y1="812.5" x2="401.6" y2="823.0" stroke="#a8a8a8" stroke-width="2.0"/>
<line x1="401.6" y1="1054.5" x2="401.6" y2="1044.0" stroke="#a8a8a8" stroke-width="2.0"/>
<line x1="523.2" y1="812.5" x2="523.2" y2="823.0" stroke="#a8a8a8" stroke-width="2.0"/>
<line x1="523.2" y1="1054.5" x2="523.2" y2="1044.0" stroke="#a8a8a8" stroke-width="2.0"/>
<line x1="644.7" y1="812.5" x2="644.7" y2="823.0" stroke="#a8a8a8" stroke-width="2.0"/>
<line x1="644.7" y1="1054.5" x2="644.7" y2="1044.0" stroke="#a8a8a8" stroke-width="2.0"/>
<line x1="158.75" y1="924.5" x2="169.25" y2="924.5" stroke="#a8a8a8" stroke-width="2.0"/>
<line x1="766.5" y1="924.5" x2="756.0" y2="924.5" stroke="#a8a8a8" stroke-width="2.0"/>
<text x="142.6" y="1039.8" font-size="39.5" fill="#000" text-anchor="end" >0</text>
<text x="142.6" y="927.8" font-size="39.5" fill="#000" text-anchor="end" >300</text>
<text x="142.6" y="815.8" font-size="39.5" fill="#000" text-anchor="end" >600</text>
<text x="170.75" y="861.5" font-size="50" fill="#000" text-anchor="start" textLength="361.2" lengthAdjust="spacingAndGlyphs">40min annealed</text>
<text x="603.0" y="858.5" font-size="33" fill="#e31f30" text-anchor="start" >X</text>
<text x="626.0" y="875.5" font-size="23" fill="#e31f30" text-anchor="start" >A</text>
<text x="477.7" y="978" font-size="33" fill="#000" text-anchor="start" >X</text>
<text x="500.0" y="993.9" font-size="23" fill="#000" text-anchor="start" >A</text>
<line x1="508" y1="955.5" x2="517.5" y2="955.5" stroke="#000" stroke-width="1.8"/>
<text x="670.7" y="1003" font-size="34" fill="#2e8b4e" text-anchor="start" >B</text>
<polyline points="160.5,1296.4 161.2,1296.4 162.0,1296.4 162.8,1296.4 163.5,1296.4 164.2,1296.4 165.0,1296.4 165.8,1296.4 166.5,1296.4 167.2,1296.4 168.0,1296.4 168.8,1296.4 169.5,1296.4 170.2,1296.4 171.0,1296.4 171.8,1296.4 172.5,1296.4 173.2,1296.4 174.0,1296.4 174.8,1296.4 175.5,1296.4 176.2,1296.3 177.0,1296.3 177.8,1296.3 178.5,1296.3 179.2,1296.3 180.0,1296.3 180.8,1296.3 181.5,1296.3 182.2,1296.3 183.0,1296.3 183.8,1296.3 184.5,1296.3 185.2,1296.3 186.0,1296.3 186.8,1296.3 187.5,1296.3 188.2,1296.3 189.0,1296.3 189.8,1296.3 190.5,1296.3 191.2,1296.3 192.0,1296.3 192.8,1296.3 193.5,1296.3 194.2,1296.3 195.0,1296.3 195.8,1296.3 196.5,1296.3 197.2,1296.3 198.0,1296.3 198.8,1296.3 199.5,1296.3 200.2,1296.3 201.0,1296.3 201.8,1296.3 202.5,1296.3 203.2,1296.3 204.0,1296.2 204.8,1296.2 205.5,1296.2 206.2,1296.2 207.0,1296.2 207.8,1296.2 208.5,1296.2 209.2,1296.2 210.0,1296.2 210.8,1296.2 211.5,1296.2 212.2,1296.2 213.0,1296.2 213.8,1296.2 214.5,1296.2 215.2,1296.2 216.0,1296.2 216.8,1296.2 217.5,1296.2 218.2,1296.2 219.0,1296.2 219.8,1296.2 220.5,1296.2 221.2,1296.2 222.0,1296.2 222.8,1296.2 223.5,1296.2 224.2,1296.2 225.0,1296.2 225.8,1296.2 226.5,1296.1 227.2,1296.1 228.0,1296.1 228.8,1296.1 229.5,1296.1 230.2,1296.1 231.0,1296.1 231.8,1296.1 232.5,1296.1 233.2,1296.1 234.0,1296.1 234.8,1296.1 235.5,1296.1 236.2,1296.1 237.0,1296.1 237.8,1296.1 238.5,1296.1 239.2,1296.1 240.0,1296.1 240.8,1296.1 241.5,1296.1 242.2,1296.1 243.0,1296.1 243.8,1296.1 244.5,1296.1 245.2,1296.0 246.0,1296.0 246.8,1296.0 247.5,1296.0 248.2,1296.0 249.0,1296.0 249.8,1296.0 250.5,1296.0 251.2,1296.0 252.0,1296.0 252.8,1296.0 253.5,1296.0 254.2,1296.0 255.0,1296.0 255.8,1296.0 256.5,1296.0 257.2,1296.0 258.0,1296.0 258.8,1296.0 259.5,1296.0 260.2,1296.0 261.0,1296.0 261.8,1295.9 262.5,1295.9 263.2,1295.9 264.0,1295.9 264.8,1295.9 265.5,1295.9 266.2,1295.9 267.0,1295.9 267.8,1295.9 268.5,1295.9 269.2,1295.9 270.0,1295.9 270.8,1295.9 271.5,1295.9 272.2,1295.9 273.0,1295.9 273.8,1295.9 274.5,1295.9 275.2,1295.9 276.0,1295.8 276.8,1295.8 277.5,1295.8 278.2,1295.8 279.0,1295.8 279.8,1295.8 280.5,1295.8 281.2,1295.8 282.0,1295.8 282.8,1295.8 283.5,1295.8 284.2,1295.8 285.0,1295.8 285.8,1295.8 286.5,1295.8 287.2,1295.8 288.0,1295.7 288.8,1295.7 289.5,1295.7 290.2,1295.7 291.0,1295.7 291.8,1295.7 292.5,1295.7 293.2,1295.7 294.0,1295.7 294.8,1295.7 295.5,1295.7 296.2,1295.7 297.0,1295.7 297.8,1295.7 298.5,1295.7 299.2,1295.6 300.0,1295.6 300.8,1295.6 301.5,1295.5 302.2,1295.4 303.0,1295.4 303.8,1295.3 304.5,1295.2 305.2,1295.2 306.0,1295.1 306.8,1295.0 307.5,1294.9 308.2,1294.9 309.0,1294.8 309.8,1294.7 310.5,1294.7 311.2,1294.6 312.0,1294.5 312.8,1294.5 313.5,1294.4 314.2,1294.3 315.0,1294.2 315.8,1294.2 316.5,1294.1 317.2,1294.0 318.0,1294.0 318.8,1293.9 319.5,1293.8 320.2,1293.8 321.0,1293.7 321.8,1293.6 322.5,1293.5 323.2,1293.5 324.0,1293.4 324.8,1293.3 325.5,1293.3 326.2,1293.2 327.0,1293.1 327.8,1293.0 328.5,1293.0 329.2,1292.9 330.0,1292.8 330.8,1292.8 331.5,1292.7 332.2,1292.6 333.0,1292.5 333.8,1292.5 334.5,1292.4 335.2,1292.3 336.0,1292.3 336.8,1292.2 337.5,1292.1 338.2,1292.0 339.0,1292.0 339.8,1291.9 340.5,1291.8 341.2,1291.7 342.0,1291.7 342.8,1291.6 343.5,1291.5 344.2,1291.4 345.0,1291.4 345.8,1291.3 346.5,1291.2 347.2,1291.2 348.0,1291.1 348.8,1291.0 349.5,1290.9 350.2,1290.9 351.0,1290.8 351.8,1290.7 352.5,1290.6 353.2,1290.6 354.0,1290.5 354.8,1290.4 355.5,1290.3 356.2,1290.2 357.0,1290.2 357.8,1290.1 358.5,1290.0 359.2,1289.9 360.0,1289.9 360.8,1289.8 361.5,1289.7 362.2,1289.6 363.0,1289.6 363.8,1289.5 364.5,1289.4 365.2,1289.3 366.0,1289.2 366.8,1289.2 367.5,1289.1 368.2,1289.0 369.0,1288.9 369.8,1288.9 370.5,1288.8 371.2,1288.7 372.0,1288.6 372.8,1288.5 373.5,1288.5 374.2,1288.4 375.0,1288.3 375.8,1288.2 376.5,1288.1 377.2,1288.1 378.0,1288.0 378.8,1287.9 379.5,1287.8 380.2,1287.7 381.0,1287.6 381.8,1287.6 382.5,1287.5 383.2,1287.4 384.0,1287.3 384.8,1287.2 385.5,1287.1 386.2,1287.1 387.0,1287.0 387.8,1286.9 388.5,1286.8 389.2,1286.7 390.0,1286.6 390.8,1286.6 391.5,1286.5 392.2,1286.4 393.0,1286.3 393.8,1286.2 394.5,1286.1 395.2,1286.0 396.0,1285.9 396.8,1285.9 397.5,1285.8 398.2,1285.7 399.0,1285.6 399.8,1285.5 400.5,1285.4 401.2,1285.3 402.0,1285.2 402.8,1285.1 403.5,1285.0 404.2,1285.0 405.0,1284.9 405.8,1284.8 406.5,1284.7 407.2,1284.6 408.0,1284.5 408.8,1284.4 409.5,1284.3 410.2,1284.2 411.0,1284.2 411.8,1284.2 412.5,1284.1 413.2,1284.1 414.0,1284.1 414.8,1284.0 415.5,1284.0 416.2,1283.9 417.0,1283.9 417.8,1283.9 418.5,1283.8 419.2,1283.8 420.0,1283.7 420.8,1283.7 421.5,1283.7 422.2,1283.6 423.0,1283.6 423.8,1283.5 424.5,1283.5 425.2,1283.4 426.0,1283.4 426.8,1283.4 427.5,1283.3 428.2,1283.3 429.0,1283.2 429.8,1283.2 430.5,1283.1 431.2,1283.1 432.0,1283.0 432.8,1283.0 433.5,1282.9 434.2,1282.8 435.0,1282.8 435.8,1282.7 436.5,1282.7 437.2,1282.6 438.0,1282.6 438.8,1282.5 439.5,1282.4 440.2,1282.4 441.0,1282.3 441.8,1282.3 442.5,1282.2 443.2,1282.1 444.0,1282.1 444.8,1282.0 445.5,1281.9 446.2,1281.9 447.0,1281.8 447.8,1281.7 448.5,1281.6 449.2,1281.6 450.0,1281.5 450.8,1281.4 451.5,1281.3 452.2,1281.2 453.0,1281.2 453.8,1281.1 454.5,1281.0 455.2,1280.9 456.0,1280.8 456.8,1280.7 457.5,1280.6 458.2,1280.5 459.0,1280.4 459.8,1280.3 460.5,1280.2 461.2,1280.1 462.0,1280.0 462.8,1279.9 463.5,1279.8 464.2,1279.7 465.0,1279.6 465.8,1279.5 466.5,1279.3 467.2,1279.2 468.0,1279.1 468.8,1279.0 469.5,1278.8 470.2,1278.7 471.0,1278.6 471.8,1278.4 472.5,1278.3 473.2,1278.1 474.0,1278.0 474.8,1277.8 475.5,1277.7 476.2,1277.5 477.0,1277.3 477.8,1277.2 478.5,1277.0 479.2,1276.8 480.0,1276.6 480.8,1276.4 481.5,1276.2 482.2,1276.0 483.0,1275.8 483.8,1275.6 484.5,1275.4 485.2,1275.2 486.0,1274.9 486.8,1274.7 487.5,1274.5 488.2,1274.2 489.0,1273.9 489.8,1273.7 490.5,1273.4 491.2,1273.1 492.0,1272.8 492.8,1272.5 493.5,1272.2 494.2,1271.9 495.0,1271.6 495.8,1271.2 496.5,1270.9 497.2,1270.5 498.0,1270.2 498.8,1269.8 499.5,1269.4 500.2,1269.0 501.0,1268.6 501.8,1268.1 502.5,1267.7 503.2,1267.2 504.0,1266.8 504.8,1266.3 505.5,1265.8 506.2,1265.2 507.0,1264.7 507.8,1264.2 508.5,1263.6 509.2,1263.0 510.0,1262.4 510.8,1261.8 511.5,1261.1 512.2,1260.4 513.0,1259.7 513.8,1259.0 514.5,1258.3 515.2,1257.5 516.0,1256.7 516.8,1255.9 517.5,1255.1 518.2,1254.2 519.0,1253.4 519.8,1252.4 520.5,1251.6 521.2,1250.8 522.0,1249.9 522.8,1249.1 523.5,1248.1 524.2,1247.2 525.0,1246.2 525.8,1245.2 526.5,1244.2 527.2,1243.1 528.0,1242.0 528.8,1240.9 529.5,1239.7 530.2,1238.5 531.0,1237.3 531.8,1236.0 532.5,1234.7 533.2,1233.4 534.0,1232.1 534.8,1230.7 535.5,1229.2 536.2,1227.8 537.0,1226.3 537.8,1224.8 538.5,1223.2 539.2,1221.6 540.0,1220.0 540.8,1218.3 541.5,1216.6 542.2,1214.9 543.0,1213.2 543.8,1211.4 544.5,1209.6 545.2,1207.7 546.0,1205.8 546.8,1203.9 547.5,1202.0 548.2,1200.0 549.0,1198.0 549.8,1195.9 550.5,1193.9 551.2,1191.8 552.0,1189.6 552.8,1187.4 553.5,1185.2 554.2,1183.0 555.0,1180.8 555.8,1178.5 556.5,1176.2 557.2,1174.0 558.0,1171.7 558.8,1169.4 559.5,1167.1 560.2,1164.8 561.0,1162.5 561.8,1160.3 562.5,1158.1 563.2,1155.9 564.0,1153.8 564.8,1151.8 565.5,1149.7 566.2,1147.7 567.0,1145.8 567.8,1144.0 568.5,1142.3 569.2,1140.7 570.0,1139.3 570.8,1138.1 571.5,1137.0 572.2,1136.0 573.0,1135.3 573.8,1134.8 574.5,1134.4 575.2,1134.3 576.0,1134.3 576.8,1134.6 577.5,1135.0 578.2,1135.7 579.0,1136.5 579.8,1137.6 580.5,1138.8 581.2,1140.2 582.0,1141.8 582.8,1143.5 583.5,1145.4 584.2,1147.4 585.0,1149.6 585.8,1151.8 586.5,1154.2 587.2,1156.6 588.0,1159.1 588.8,1161.7 589.5,1164.3 590.2,1167.0 591.0,1169.7 591.8,1172.4 592.5,1175.1 593.2,1177.9 594.0,1180.6 594.8,1183.3 595.5,1186.0 596.2,1188.7 597.0,1191.3 597.8,1193.9 598.5,1196.5 599.2,1199.0 600.0,1201.5 600.8,1204.0 601.5,1206.3 602.2,1208.7 603.0,1210.9 603.8,1213.1 604.5,1215.3 605.2,1217.4 606.0,1219.4 606.8,1221.3 607.5,1223.2 608.2,1225.1 609.0,1226.8 609.8,1228.5 610.5,1230.2 611.2,1231.8 612.0,1233.3 612.8,1234.7 613.5,1236.1 614.2,1237.4 615.0,1238.7 615.8,1239.9 616.5,1241.0 617.2,1242.1 618.0,1243.1 618.8,1244.1 619.5,1245.0 620.2,1245.8 621.0,1246.6 621.8,1247.4 622.5,1248.1 623.2,1248.7 624.0,1249.3 624.8,1249.8 625.5,1250.3 626.2,1250.8 627.0,1251.2 627.8,1251.6 628.5,1251.9 629.2,1252.2 630.0,1252.5 630.8,1252.7 631.5,1252.8 632.2,1253.0 633.0,1253.1 633.8,1253.2 634.5,1253.2 635.2,1253.2 636.0,1253.2 636.8,1253.2 637.5,1253.1 638.2,1253.1 639.0,1253.0 639.8,1252.8 640.5,1252.7 641.2,1252.5 642.0,1252.4 642.8,1252.2 643.5,1251.9 644.2,1251.7 645.0,1251.5 645.8,1251.2 646.5,1251.0 647.2,1250.7 648.0,1250.5 648.8,1250.2 649.5,1249.9 650.2,1249.6 651.0,1249.4 651.8,1249.1 652.5,1248.8 653.2,1248.5 654.0,1248.2 654.8,1248.0 655.5,1247.7 656.2,1247.4 657.0,1247.2 657.8,1246.9 658.5,1246.7 659.2,1246.5 660.0,1246.2 660.8,1246.0 661.5,1245.8 662.2,1245.7 663.0,1245.5 663.8,1245.4 664.5,1245.2 665.2,1245.1 666.0,1245.0 666.8,1244.9 667.5,1244.9 668.2,1244.9 669.0,1244.8 669.8,1244.8 670.5,1244.9 671.2,1244.9 672.0,1245.0 672.8,1245.1 673.5,1245.2 674.2,1245.3 675.0,1245.5 675.8,1245.7 676.5,1245.9 677.2,1246.1 678.0,1246.4 678.8,1246.7 679.5,1246.9 680.2,1247.3 681.0,1247.6 681.8,1248.0 682.5,1248.3 683.2,1248.7 684.0,1249.2 684.8,1249.6 685.5,1250.0 686.2,1250.5 687.0,1251.0 687.8,1251.5 688.5,1252.0 689.2,1252.6 690.0,1253.1 690.8,1253.7 691.5,1254.2 692.2,1254.8 693.0,1255.4 693.8,1256.0 694.5,1256.6 695.2,1257.2 696.0,1257.9 696.8,1258.5 697.5,1259.1 698.2,1259.8 699.0,1260.4 699.8,1261.1 700.5,1261.7 701.2,1262.4 702.0,1263.0 702.8,1263.7 703.5,1264.4 704.2,1265.0 705.0,1265.7 705.8,1266.3 706.5,1267.0 707.2,1267.6 708.0,1268.3 708.8,1268.9 709.5,1269.6 710.2,1270.2 711.0,1270.8 711.8,1271.4 712.5,1272.1 713.2,1272.7 714.0,1273.3 714.8,1273.9 715.5,1274.4 716.2,1275.0 717.0,1275.6 717.8,1276.1 718.5,1276.7 719.2,1277.2 720.0,1277.8 720.8,1278.3 721.5,1278.8 722.2,1279.3 723.0,1279.8 723.8,1280.3 724.5,1280.7 725.2,1281.2 726.0,1281.6 726.8,1282.1 727.5,1282.5 728.2,1282.9 729.0,1283.3 729.8,1283.7 730.5,1284.1 731.2,1284.5 732.0,1284.9 732.8,1285.2 733.5,1285.6 734.2,1285.9 735.0,1286.2 735.8,1286.5 736.5,1286.8 737.2,1287.1 738.0,1287.4 738.8,1287.7 739.5,1288.0 740.2,1288.2 741.0,1288.5 741.8,1288.7 742.5,1288.9 743.2,1289.2 744.0,1289.4 744.8,1289.6 745.5,1289.8 746.2,1290.0 747.0,1290.2 747.8,1290.4 748.5,1290.5 749.2,1290.7 750.0,1290.9 750.8,1291.0 751.5,1291.2 752.2,1291.3 753.0,1291.4 753.8,1291.6 754.5,1291.7 755.2,1291.8 756.0,1291.9 756.8,1292.1 757.5,1292.2 758.2,1292.3 759.0,1292.4 759.8,1292.5 760.5,1292.5 761.2,1292.6 762.0,1292.7 762.8,1292.8 763.5,1292.9 764.2,1293.0 765.0,1293.0 765.8,1293.1 766.5,1293.2 767.2,1293.2" fill="none" stroke="#cdcdcd" stroke-width="10.0" stroke-linejoin="round" stroke-linecap="round" />
<polyline points="160.5,1300.7 161.0,1291.9 161.5,1288.2 162.0,1291.7 162.5,1288.7 163.0,1290.1 163.5,1301.6 164.0,1295.5 164.5,1287.0 165.0,1301.7 165.5,1302.2 166.0,1294.1 166.5,1302.5 167.0,1298.1 167.5,1296.4 168.0,1298.4 168.5,1289.8 169.0,1292.8 169.5,1295.9 170.0,1299.2 170.5,1294.7 171.0,1295.8 171.5,1300.8 172.0,1302.9 172.5,1299.9 173.0,1302.2 173.5,1294.5 174.0,1294.9 174.5,1297.8 175.0,1295.0 175.5,1294.0 176.0,1302.9 176.5,1295.4 177.0,1291.9 177.5,1298.6 178.0,1304.8 178.5,1296.7 179.0,1302.0 179.5,1294.3 180.0,1294.1 180.5,1293.2 181.0,1295.7 181.5,1304.8 182.0,1291.0 182.5,1295.6 183.0,1291.7 183.5,1295.2 184.0,1300.2 184.5,1299.2 185.0,1297.6 185.5,1288.7 186.0,1298.0 186.5,1291.6 187.0,1308.1 187.5,1279.0 188.0,1291.0 188.5,1291.0 189.0,1294.1 189.5,1290.4 190.0,1300.8 190.5,1295.1 191.0,1298.9 191.5,1293.1 192.0,1294.0 192.5,1302.2 193.0,1291.8 193.5,1288.0 194.0,1298.2 194.5,1291.0 195.0,1294.3 195.5,1300.5 196.0,1292.5 196.5,1300.3 197.0,1293.1 197.5,1303.1 198.0,1302.4 198.5,1294.1 199.0,1295.3 199.5,1292.4 200.0,1297.2 200.5,1301.5 201.0,1289.6 201.5,1300.5 202.0,1290.2 202.5,1292.3 203.0,1288.0 203.5,1305.9 204.0,1296.5 204.5,1297.4 205.0,1293.1 205.5,1301.2 206.0,1286.6 206.5,1296.4 207.0,1306.4 207.5,1283.7 208.0,1296.3 208.5,1299.3 209.0,1292.5 209.5,1296.3 210.0,1300.6 210.5,1297.1 211.0,1297.9 211.5,1294.6 212.0,1297.7 212.5,1296.5 213.0,1302.9 213.5,1299.5 214.0,1295.1 214.5,1284.9 215.0,1299.5 215.5,1299.7 216.0,1292.0 216.5,1287.0 217.0,1290.9 217.5,1300.5 218.0,1291.3 218.5,1294.1 219.0,1297.2 219.5,1301.8 220.0,1296.1 220.5,1295.7 221.0,1293.7 221.5,1303.7 222.0,1301.1 222.5,1295.7 223.0,1289.7 223.5,1292.5 224.0,1298.8 224.5,1292.8 225.0,1300.3 225.5,1297.8 226.0,1297.5 226.5,1299.2 227.0,1298.4 227.5,1292.2 228.0,1294.6 228.5,1306.9 229.0,1290.6 229.5,1294.0 230.0,1301.0 230.5,1295.4 231.0,1292.4 231.5,1290.0 232.0,1298.6 232.5,1300.8 233.0,1302.6 233.5,1296.4 234.0,1300.9 234.5,1291.4 235.0,1296.9 235.5,1293.0 236.0,1296.9 236.5,1299.6 237.0,1301.0 237.5,1291.5 238.0,1301.9 238.5,1293.9 239.0,1291.4 239.5,1295.3 240.0,1289.4 240.5,1296.1 241.0,1297.4 241.5,1295.1 242.0,1298.5 242.5,1294.6 243.0,1296.1 243.5,1289.4 244.0,1296.3 244.5,1292.1 245.0,1294.0 245.5,1295.6 246.0,1296.9 246.5,1288.5 247.0,1282.9 247.5,1294.6 248.0,1298.2 248.5,1297.7 249.0,1300.1 249.5,1302.0 250.0,1298.3 250.5,1295.9 251.0,1291.3 251.5,1291.7 252.0,1293.9 252.5,1297.2 253.0,1291.2 253.5,1296.0 254.0,1295.3 254.5,1298.9 255.0,1296.9 255.5,1297.4 256.0,1297.4 256.5,1293.5 257.0,1291.2 257.5,1298.2 258.0,1297.9 258.5,1295.0 259.0,1294.1 259.5,1306.4 260.0,1292.5 260.5,1295.0 261.0,1297.2 261.5,1290.6 262.0,1296.5 262.5,1304.2 263.0,1300.2 263.5,1298.8 264.0,1296.8 264.5,1296.4 265.0,1300.3 265.5,1295.2 266.0,1294.0 266.5,1296.4 267.0,1300.1 267.5,1297.4 268.0,1299.0 268.5,1286.6 269.0,1301.4 269.5,1306.7 270.0,1302.0 270.5,1294.4 271.0,1292.0 271.5,1297.2 272.0,1291.3 272.5,1299.2 273.0,1293.5 273.5,1300.3 274.0,1302.1 274.5,1276.6 275.0,1297.2 275.5,1292.6 276.0,1289.4 276.5,1293.0 277.0,1294.8 277.5,1300.6 278.0,1288.8 278.5,1300.7 279.0,1305.1 279.5,1298.6 280.0,1298.3 280.5,1295.7 281.0,1290.4 281.5,1298.3 282.0,1297.6 282.5,1299.2 283.0,1307.6 283.5,1299.1 284.0,1297.7 284.5,1303.0 285.0,1289.6 285.5,1290.5 286.0,1294.0 286.5,1292.7 287.0,1298.9 287.5,1294.3 288.0,1303.8 288.5,1302.7 289.0,1299.3 289.5,1294.0 290.0,1298.6 290.5,1299.5 291.0,1290.8 291.5,1297.3 292.0,1292.8 292.5,1296.7 293.0,1302.9 293.5,1301.3 294.0,1291.9 294.5,1296.3 295.0,1291.8 295.5,1298.3 296.0,1291.7 296.5,1299.9 297.0,1297.5 297.5,1300.1 298.0,1295.0 298.5,1289.0 299.0,1303.8 299.5,1294.8 300.0,1302.0 300.5,1297.6 301.0,1298.6 301.5,1301.6 302.0,1297.0 302.5,1301.8 303.0,1288.5 303.5,1299.3 304.0,1294.2 304.5,1294.6 305.0,1295.2 305.5,1293.2 306.0,1302.7 306.5,1286.5 307.0,1295.2 307.5,1289.3 308.0,1300.3 308.5,1292.9 309.0,1296.9 309.5,1292.9 310.0,1297.8 310.5,1299.3 311.0,1292.8 311.5,1294.8 312.0,1288.0 312.5,1295.9 313.0,1298.4 313.5,1291.8 314.0,1299.5 314.5,1284.8 315.0,1285.7 315.5,1287.8 316.0,1291.9 316.5,1294.2 317.0,1289.4 317.5,1293.7 318.0,1291.7 318.5,1291.7 319.0,1288.1 319.5,1288.1 320.0,1303.5 320.5,1282.9 321.0,1292.9 321.5,1300.3 322.0,1295.8 322.5,1289.7 323.0,1293.5 323.5,1297.4 324.0,1299.0 324.5,1289.2 325.0,1296.8 325.5,1294.4 326.0,1298.3 326.5,1299.6 327.0,1291.5 327.5,1286.4 328.0,1294.8 328.5,1301.1 329.0,1296.1 329.5,1293.9 330.0,1303.5 330.5,1288.0 331.0,1296.9 331.5,1290.1 332.0,1292.9 332.5,1293.0 333.0,1291.4 333.5,1288.2 334.0,1289.8 334.5,1285.0 335.0,1294.6 335.5,1290.2 336.0,1294.2 336.5,1287.2 337.0,1290.5 337.5,1290.0 338.0,1291.2 338.5,1294.9 339.0,1294.4 339.5,1290.3 340.0,1284.5 340.5,1296.5 341.0,1292.6 341.5,1296.4 342.0,1282.2 342.5,1283.8 343.0,1281.4 343.5,1287.4 344.0,1296.4 344.5,1294.1 345.0,1291.2 345.5,1291.9 346.0,1294.9 346.5,1289.8 347.0,1293.1 347.5,1291.8 348.0,1280.6 348.5,1289.2 349.0,1297.5 349.5,1289.0 350.0,1290.2 350.5,1287.9 351.0,1288.4 351.5,1296.1 352.0,1289.4 352.5,1285.7 353.0,1275.5 353.5,1287.8 354.0,1281.0 354.5,1281.6 355.0,1294.2 355.5,1293.8 356.0,1281.0 356.5,1294.4 357.0,1292.4 357.5,1286.3 358.0,1293.7 358.5,1282.1 359.0,1284.1 359.5,1282.9 360.0,1284.4 360.5,1294.1 361.0,1283.2 361.5,1284.1 362.0,1285.0 362.5,1290.6 363.0,1287.9 363.5,1293.8 364.0,1285.9 364.5,1274.2 365.0,1286.9 365.5,1289.5 366.0,1284.6 366.5,1290.6 367.0,1298.1 367.5,1286.2 368.0,1289.2 368.5,1295.7 369.0,1285.7 369.5,1284.6 370.0,1283.3 370.5,1290.7 371.0,1291.2 371.5,1287.9 372.0,1288.8 372.5,1294.9 373.0,1292.8 373.5,1281.3 374.0,1287.6 374.5,1288.8 375.0,1291.8 375.5,1287.0 376.0,1284.8 376.5,1285.7 377.0,1278.9 377.5,1287.8 378.0,1284.8 378.5,1290.1 379.0,1282.5 379.5,1285.4 380.0,1282.6 380.5,1282.1 381.0,1291.1 381.5,1285.0 382.0,1289.6 382.5,1281.6 383.0,1287.7 383.5,1278.5 384.0,1284.7 384.5,1284.5 385.0,1290.0 385.5,1284.9 386.0,1286.0 386.5,1291.2 387.0,1287.8 387.5,1289.5 388.0,1290.6 388.5,1286.2 389.0,1285.0 389.5,1288.2 390.0,1284.2 390.5,1288.4 391.0,1292.1 391.5,1290.7 392.0,1284.2 392.5,1279.4 393.0,1285.8 393.5,1285.3 394.0,1291.4 394.5,1283.9 395.0,1265.7 395.5,1289.6 396.0,1283.2 396.5,1284.8 397.0,1294.6 397.5,1293.4 398.0,1277.1 398.5,1286.8 399.0,1280.2 399.5,1288.2 400.0,1285.5 400.5,1286.3 401.0,1282.4 401.5,1285.0 402.0,1284.0 402.5,1286.6 403.0,1292.5 403.5,1286.7 404.0,1275.9 404.5,1279.5 405.0,1276.2 405.5,1280.3 406.0,1287.5 406.5,1286.6 407.0,1281.2 407.5,1285.7 408.0,1280.2 408.5,1276.5 409.0,1276.5 409.5,1268.7 410.0,1291.6 410.5,1276.7 411.0,1290.6 411.5,1291.1 412.0,1282.9 412.5,1283.6 413.0,1280.5 413.5,1283.7 414.0,1287.4 414.5,1283.8 415.0,1289.2 415.5,1290.2 416.0,1285.5 416.5,1285.4 417.0,1283.3 417.5,1285.5 418.0,1277.5 418.5,1285.8 419.0,1284.6 419.5,1278.8 420.0,1295.3 420.5,1278.1 421.0,1278.6 421.5,1284.9 422.0,1272.7 422.5,1279.0 423.0,1274.9 423.5,1277.9 424.0,1282.5 424.5,1285.0 425.0,1289.3 425.5,1287.6 426.0,1289.7 426.5,1286.3 427.0,1280.4 427.5,1289.2 428.0,1280.3 428.5,1279.5 429.0,1291.4 429.5,1287.3 430.0,1284.1 430.5,1287.0 431.0,1286.9 431.5,1275.1 432.0,1282.2 432.5,1276.0 433.0,1283.3 433.5,1278.8 434.0,1290.2 434.5,1285.4 435.0,1277.9 435.5,1282.3 436.0,1275.6 436.5,1282.6 437.0,1285.4 437.5,1283.8 438.0,1271.3 438.5,1275.7 439.0,1285.1 439.5,1274.3 440.0,1288.7 440.5,1274.7 441.0,1285.0 441.5,1278.2 442.0,1283.0 442.5,1284.2 443.0,1285.8 443.5,1278.5 444.0,1282.5 444.5,1275.0 445.0,1273.5 445.5,1284.8 446.0,1281.2 446.5,1272.2 447.0,1276.5 447.5,1280.8 448.0,1290.3 448.5,1287.3 449.0,1285.9 449.5,1270.9 450.0,1280.6 450.5,1283.9 451.0,1283.3 451.5,1283.4 452.0,1279.6 452.5,1291.1 453.0,1289.4 453.5,1280.2 454.0,1275.0 454.5,1281.0 455.0,1277.4 455.5,1287.5 456.0,1291.7 456.5,1274.9 457.0,1282.0 457.5,1268.6 458.0,1283.2 458.5,1282.0 459.0,1291.5 459.5,1283.5 460.0,1279.9 460.5,1286.5 461.0,1278.2 461.5,1277.6 462.0,1292.9 462.5,1274.7 463.0,1276.6 463.5,1279.7 464.0,1273.1 464.5,1266.8 465.0,1285.5 465.5,1274.5 466.0,1275.8 466.5,1276.8 467.0,1273.1 467.5,1272.4 468.0,1279.7 468.5,1293.0 469.0,1283.0 469.5,1283.0 470.0,1269.4 470.5,1268.9 471.0,1271.1 471.5,1282.8 472.0,1276.6 472.5,1278.2 473.0,1277.3 473.5,1274.2 474.0,1268.4 474.5,1281.0 475.0,1269.0 475.5,1270.2 476.0,1275.4 476.5,1272.8 477.0,1278.6 477.5,1283.0 478.0,1278.3 478.5,1277.8 479.0,1276.6 479.5,1281.6 480.0,1265.0 480.5,1278.4 481.0,1270.3 481.5,1268.4 482.0,1275.8 482.5,1273.2 483.0,1279.0 483.5,1282.0 484.0,1261.0 484.5,1274.6 485.0,1286.8 485.5,1280.0 486.0,1283.4 486.5,1275.0 487.0,1265.5 487.5,1267.2 488.0,1278.3 488.5,1279.6 489.0,1269.1 489.5,1271.8 490.0,1274.8 490.5,1258.6 491.0,1270.7 491.5,1282.5 492.0,1285.8 492.5,1271.6 493.0,1283.2 493.5,1268.7 494.0,1266.7 494.5,1257.8 495.0,1277.1 495.5,1268.7 496.0,1285.0 496.5,1272.6 497.0,1271.5 497.5,1259.0 498.0,1279.0 498.5,1267.3 499.0,1268.3 499.5,1255.6 500.0,1274.4 500.5,1264.4 501.0,1264.5 501.5,1268.5 502.0,1270.0 502.5,1273.2 503.0,1267.7 503.5,1277.2 504.0,1264.9 504.5,1262.4 505.0,1262.9 505.5,1249.9 506.0,1260.2 506.5,1270.9 507.0,1266.0 507.5,1249.7 508.0,1265.8 508.5,1250.9 509.0,1261.1 509.5,1265.7 510.0,1266.3 510.5,1256.9 511.0,1266.8 511.5,1272.2 512.0,1257.7 512.5,1264.4 513.0,1249.9 513.5,1247.0 514.0,1262.2 514.5,1258.2 515.0,1258.7 515.5,1253.4 516.0,1254.6 516.5,1260.8 517.0,1265.8 517.5,1253.5 518.0,1244.1 518.5,1261.4 519.0,1256.7 519.5,1256.6 520.0,1252.9 520.5,1265.5 521.0,1251.2 521.5,1253.3 522.0,1238.3 522.5,1245.5 523.0,1244.2 523.5,1247.6 524.0,1249.3 524.5,1242.0 525.0,1256.5 525.5,1238.8 526.0,1241.8 526.5,1245.3 527.0,1235.5 527.5,1245.9 528.0,1232.4 528.5,1239.2 529.0,1251.9 529.5,1239.9 530.0,1228.4 530.5,1229.8 531.0,1226.8 531.5,1223.7 532.0,1233.3 532.5,1231.7 533.0,1238.2 533.5,1218.1 534.0,1224.8 534.5,1219.7 535.0,1238.1 535.5,1225.5 536.0,1224.8 536.5,1220.2 537.0,1231.5 537.5,1222.4 538.0,1225.3 538.5,1210.5 539.0,1229.0 539.5,1223.2 540.0,1223.0 540.5,1226.1 541.0,1216.3 541.5,1215.3 542.0,1219.5 542.5,1216.6 543.0,1211.4 543.5,1212.0 544.0,1207.5 544.5,1213.6 545.0,1204.6 545.5,1206.8 546.0,1216.7 546.5,1195.1 547.0,1201.6 547.5,1211.8 548.0,1197.9 548.5,1186.3 549.0,1205.9 549.5,1199.5 550.0,1188.0 550.5,1198.1 551.0,1186.2 551.5,1183.0 552.0,1188.4 552.5,1185.1 553.0,1180.1 553.5,1182.9 554.0,1177.7 554.5,1182.4 555.0,1180.4 555.5,1183.3 556.0,1174.9 556.5,1168.4 557.0,1166.9 557.5,1171.5 558.0,1180.1 558.5,1174.7 559.0,1164.7 559.5,1172.1 560.0,1158.8 560.5,1169.4 561.0,1160.1 561.5,1165.1 562.0,1162.8 562.5,1156.3 563.0,1158.2 563.5,1149.1 564.0,1153.2 564.5,1158.2 565.0,1173.4 565.5,1153.3 566.0,1148.6 566.5,1141.3 567.0,1151.3 567.5,1135.3 568.0,1138.8 568.5,1144.0 569.0,1134.5 569.5,1148.3 570.0,1144.9 570.5,1135.2 571.0,1134.5 571.5,1129.7 572.0,1128.7 572.5,1137.9 573.0,1138.4 573.5,1136.6 574.0,1135.8 574.5,1131.2 575.0,1136.0 575.5,1126.3 576.0,1134.1 576.5,1141.9 577.0,1141.4 577.5,1132.4 578.0,1133.5 578.5,1142.8 579.0,1145.5 579.5,1129.3 580.0,1135.6 580.5,1139.8 581.0,1145.7 581.5,1136.3 582.0,1144.8 582.5,1141.2 583.0,1155.9 583.5,1147.3 584.0,1145.9 584.5,1146.2 585.0,1154.6 585.5,1154.2 586.0,1147.0 586.5,1155.0 587.0,1148.9 587.5,1153.5 588.0,1152.5 588.5,1154.1 589.0,1159.0 589.5,1159.3 590.0,1168.4 590.5,1171.5 591.0,1168.3 591.5,1165.9 592.0,1177.0 592.5,1165.2 593.0,1167.5 593.5,1182.0 594.0,1183.5 594.5,1186.8 595.0,1183.0 595.5,1179.8 596.0,1185.2 596.5,1192.0 597.0,1187.5 597.5,1189.6 598.0,1188.1 598.5,1190.9 599.0,1201.9 599.5,1201.8 600.0,1196.0 600.5,1198.0 601.0,1202.0 601.5,1208.7 602.0,1202.3 602.5,1208.4 603.0,1200.8 603.5,1206.4 604.0,1215.6 604.5,1204.5 605.0,1211.1 605.5,1214.3 606.0,1222.9 606.5,1218.7 607.0,1219.3 607.5,1225.4 608.0,1225.2 608.5,1230.6 609.0,1230.3 609.5,1225.1 610.0,1228.3 610.5,1229.7 611.0,1224.8 611.5,1227.6 612.0,1237.5 612.5,1226.7 613.0,1239.6 613.5,1237.2 614.0,1236.1 614.5,1240.1 615.0,1240.7 615.5,1244.8 616.0,1238.2 616.5,1239.7 617.0,1240.4 617.5,1250.9 618.0,1247.3 618.5,1239.3 619.0,1242.6 619.5,1241.5 620.0,1245.4 620.5,1246.9 621.0,1257.0 621.5,1238.5 622.0,1252.2 622.5,1249.9 623.0,1245.1 623.5,1248.0 624.0,1246.8 624.5,1249.7 625.0,1254.5 625.5,1243.2 626.0,1256.5 626.5,1249.0 627.0,1249.8 627.5,1253.2 628.0,1257.2 628.5,1254.4 629.0,1256.9 629.5,1252.4 630.0,1248.4 630.5,1255.5 631.0,1255.8 631.5,1262.4 632.0,1243.5 632.5,1251.9 633.0,1251.6 633.5,1247.2 634.0,1252.0 634.5,1262.8 635.0,1259.6 635.5,1249.0 636.0,1259.7 636.5,1258.5 637.0,1256.6 637.5,1245.1 638.0,1254.0 638.5,1248.9 639.0,1250.4 639.5,1256.1 640.0,1253.3 640.5,1261.1 641.0,1250.9 641.5,1241.3 642.0,1250.7 642.5,1253.4 643.0,1253.7 643.5,1252.1 644.0,1247.9 644.5,1258.4 645.0,1248.3 645.5,1254.5 646.0,1249.7 646.5,1245.3 647.0,1257.2 647.5,1238.7 648.0,1246.4 648.5,1252.2 649.0,1248.3 649.5,1253.3 650.0,1249.2 650.5,1247.3 651.0,1259.2 651.5,1248.0 652.0,1248.1 652.5,1243.7 653.0,1245.0 653.5,1251.3 654.0,1250.7 654.5,1247.9 655.0,1244.5 655.5,1250.7 656.0,1239.6 656.5,1245.7 657.0,1245.9 657.5,1236.3 658.0,1247.5 658.5,1243.5 659.0,1242.7 659.5,1254.6 660.0,1249.6 660.5,1251.5 661.0,1246.1 661.5,1250.2 662.0,1249.3 662.5,1251.1 663.0,1256.3 663.5,1244.3 664.0,1246.5 664.5,1244.9 665.0,1228.9 665.5,1238.6 666.0,1245.1 666.5,1247.8 667.0,1242.2 667.5,1250.1 668.0,1250.7 668.5,1242.9 669.0,1251.4 669.5,1252.9 670.0,1247.0 670.5,1240.3 671.0,1251.6 671.5,1244.2 672.0,1243.2 672.5,1245.6 673.0,1242.6 673.5,1250.1 674.0,1248.9 674.5,1251.0 675.0,1248.2 675.5,1242.0 676.0,1245.0 676.5,1249.9 677.0,1244.2 677.5,1259.6 678.0,1245.3 678.5,1243.9 679.0,1252.0 679.5,1250.4 680.0,1247.0 680.5,1241.8 681.0,1249.6 681.5,1251.7 682.0,1251.6 682.5,1247.0 683.0,1250.6 683.5,1252.8 684.0,1252.7 684.5,1235.2 685.0,1245.6 685.5,1246.5 686.0,1249.3 686.5,1251.5 687.0,1255.2 687.5,1254.2 688.0,1251.1 688.5,1252.1 689.0,1260.5 689.5,1249.9 690.0,1254.5 690.5,1260.7 691.0,1255.4 691.5,1244.8 692.0,1256.3 692.5,1253.2 693.0,1254.9 693.5,1260.6 694.0,1236.8 694.5,1255.4 695.0,1261.1 695.5,1259.4 696.0,1258.3 696.5,1259.7 697.0,1259.9 697.5,1257.6 698.0,1257.4 698.5,1260.1 699.0,1256.0 699.5,1255.1 700.0,1267.3 700.5,1260.6 701.0,1262.1 701.5,1262.0 702.0,1263.1 702.5,1263.6 703.0,1264.2 703.5,1260.7 704.0,1269.1 704.5,1262.1 705.0,1270.4 705.5,1257.3 706.0,1261.7 706.5,1271.5 707.0,1266.7 707.5,1264.8 708.0,1270.0 708.5,1263.9 709.0,1269.5 709.5,1259.4 710.0,1267.9 710.5,1256.4 711.0,1273.3 711.5,1275.3 712.0,1267.7 712.5,1279.5 713.0,1269.7 713.5,1263.4 714.0,1262.3 714.5,1280.7 715.0,1273.6 715.5,1271.5 716.0,1271.4 716.5,1270.2 717.0,1281.8 717.5,1275.6 718.0,1284.6 718.5,1275.8 719.0,1266.2 719.5,1281.3 720.0,1276.1 720.5,1277.0 721.0,1285.7 721.5,1277.6 722.0,1284.5 722.5,1279.4 723.0,1276.3 723.5,1282.4 724.0,1277.7 724.5,1286.4 725.0,1285.5 725.5,1280.1 726.0,1284.4 726.5,1282.6 727.0,1281.0 727.5,1280.3 728.0,1281.7 728.5,1285.9 729.0,1257.0 729.5,1284.1 730.0,1285.8 730.5,1280.5 731.0,1282.5 731.5,1282.2 732.0,1288.2 732.5,1281.8 733.0,1287.4 733.5,1292.6 734.0,1287.4 734.5,1278.6 735.0,1286.8 735.5,1291.2 736.0,1285.3 736.5,1292.0 737.0,1289.9 737.5,1289.2 738.0,1286.2 738.5,1285.3 739.0,1286.6 739.5,1288.3 740.0,1290.6 740.5,1290.3 741.0,1287.1 741.5,1289.0 742.0,1290.6 742.5,1281.5 743.0,1285.6 743.5,1285.6 744.0,1288.5 744.5,1288.3 745.0,1288.5 745.5,1285.8 746.0,1293.1 746.5,1291.4 747.0,1282.7 747.5,1290.4 748.0,1285.3 748.5,1298.4 749.0,1288.6 749.5,1289.0 750.0,1291.3 750.5,1290.1 751.0,1290.9 751.5,1298.4 752.0,1292.4 752.5,1295.3 753.0,1296.7 753.5,1287.1 754.0,1299.5 754.5,1294.9 755.0,1296.3 755.5,1288.0 756.0,1295.8 756.5,1294.0 757.0,1289.7 757.5,1302.7 758.0,1294.9 758.5,1291.3 759.0,1293.3 759.5,1296.7 760.0,1297.8 760.5,1295.3 761.0,1298.3 761.5,1299.5 762.0,1287.1 762.5,1290.6 763.0,1285.3 763.5,1293.4 764.0,1299.7 764.5,1296.1 765.0,1288.3 765.5,1285.8 766.0,1297.9 766.5,1290.8 767.0,1292.9" fill="none" stroke="#acacac" stroke-width="1.5" stroke-linejoin="round" stroke-linecap="round" />
<polyline points="160.5,1297.0 161.2,1297.0 162.0,1297.0 162.8,1297.0 163.5,1297.0 164.2,1297.0 165.0,1297.0 165.8,1297.0 166.5,1297.0 167.2,1297.0 168.0,1297.0 168.8,1297.0 169.5,1297.0 170.2,1297.0 171.0,1297.0 171.8,1297.0 172.5,1297.0 173.2,1297.0 174.0,1297.0 174.8,1297.0 175.5,1297.0 176.2,1297.0 177.0,1297.0 177.8,1297.0 178.5,1297.0 179.2,1297.0 180.0,1297.0 180.8,1297.0 181.5,1297.0 182.2,1297.0 183.0,1297.0 183.8,1297.0 184.5,1297.0 185.2,1297.0 186.0,1297.0 186.8,1297.0 187.5,1297.0 188.2,1297.0 189.0,1297.0 189.8,1297.0 190.5,1297.0 191.2,1297.0 192.0,1297.0 192.8,1297.0 193.5,1297.0 194.2,1297.0 195.0,1297.0 195.8,1297.0 196.5,1297.0 197.2,1297.0 198.0,1297.0 198.8,1297.0 199.5,1297.0 200.2,1297.0 201.0,1297.0 201.8,1297.0 202.5,1297.0 203.2,1297.0 204.0,1297.0 204.8,1297.0 205.5,1297.0 206.2,1297.0 207.0,1297.0 207.8,1297.0 208.5,1297.0 209.2,1297.0 210.0,1297.0 210.8,1297.0 211.5,1297.0 212.2,1297.0 213.0,1297.0 213.8,1297.0 214.5,1297.0 215.2,1297.0 216.0,1297.0 216.8,1297.0 217.5,1297.0 218.2,1297.0 219.0,1297.0 219.8,1297.0 220.5,1297.0 221.2,1297.0 222.0,1297.0 222.8,1297.0 223.5,1297.0 224.2,1297.0 225.0,1297.0 225.8,1297.0 226.5,1297.0 227.2,1297.0 228.0,1297.0 228.8,1297.0 229.5,1297.0 230.2,1297.0 231.0,1297.0 231.8,1297.0 232.5,1297.0 233.2,1297.0 234.0,1297.0 234.8,1297.0 235.5,1297.0 236.2,1297.0 237.0,1297.0 237.8,1297.0 238.5,1297.0 239.2,1297.0 240.0,1297.0 240.8,1297.0 241.5,1297.0 242.2,1297.0 243.0,1297.0 243.8,1297.0 244.5,1297.0 245.2,1297.0 246.0,1297.0 246.8,1297.0 247.5,1297.0 248.2,1297.0 249.0,1297.0 249.8,1297.0 250.5,1297.0 251.2,1297.0 252.0,1297.0 252.8,1297.0 253.5,1297.0 254.2,1297.0 255.0,1297.0 255.8,1297.0 256.5,1297.0 257.2,1297.0 258.0,1297.0 258.8,1297.0 259.5,1297.0 260.2,1297.0 261.0,1297.0 261.8,1297.0 262.5,1297.0 263.2,1297.0 264.0,1297.0 264.8,1297.0 265.5,1297.0 266.2,1297.0 267.0,1297.0 267.8,1297.0 268.5,1297.0 269.2,1297.0 270.0,1297.0 270.8,1297.0 271.5,1297.0 272.2,1297.0 273.0,1297.0 273.8,1297.0 274.5,1297.0 275.2,1297.0 276.0,1297.0 276.8,1297.0 277.5,1297.0 278.2,1297.0 279.0,1296.9 279.8,1296.9 280.5,1296.9 281.2,1296.9 282.0,1296.9 282.8,1296.9 283.5,1296.9 284.2,1296.9 285.0,1296.9 285.8,1296.9 286.5,1296.9 287.2,1296.9 288.0,1296.9 288.8,1296.9 289.5,1296.9 290.2,1296.9 291.0,1296.9 291.8,1296.9 292.5,1296.9 293.2,1296.9 294.0,1296.9 294.8,1296.9 295.5,1296.9 296.2,1296.9 297.0,1296.9 297.8,1296.9 298.5,1296.9 299.2,1296.9 300.0,1296.9 300.8,1296.9 301.5,1296.9 302.2,1296.9 303.0,1296.9 303.8,1296.9 304.5,1296.9 305.2,1296.9 306.0,1296.9 306.8,1296.9 307.5,1296.9 308.2,1296.9 309.0,1296.9 309.8,1296.9 310.5,1296.9 311.2,1296.9 312.0,1296.9 312.8,1296.9 313.5,1296.9 314.2,1296.9 315.0,1296.9 315.8,1296.9 316.5,1296.9 317.2,1296.9 318.0,1296.9 318.8,1296.9 319.5,1296.9 320.2,1296.9 321.0,1296.9 321.8,1296.9 322.5,1296.9 323.2,1296.9 324.0,1296.9 324.8,1296.9 325.5,1296.9 326.2,1296.9 327.0,1296.9 327.8,1296.9 328.5,1296.9 329.2,1296.9 330.0,1296.9 330.8,1296.9 331.5,1296.9 332.2,1296.9 333.0,1296.9 333.8,1296.9 334.5,1296.9 335.2,1296.9 336.0,1296.9 336.8,1296.9 337.5,1296.9 338.2,1296.9 339.0,1296.9 339.8,1296.9 340.5,1296.9 341.2,1296.9 342.0,1296.9 342.8,1296.9 343.5,1296.9 344.2,1296.9 345.0,1296.9 345.8,1296.9 346.5,1296.9 347.2,1296.9 348.0,1296.9 348.8,1296.9 349.5,1296.9 350.2,1296.9 351.0,1296.9 351.8,1296.9 352.5,1296.9 353.2,1296.9 354.0,1296.9 354.8,1296.9 355.5,1296.9 356.2,1296.9 357.0,1296.9 357.8,1296.9 358.5,1296.9 359.2,1296.9 360.0,1296.9 360.8,1296.9 361.5,1296.9 362.2,1296.9 363.0,1296.9 363.8,1296.9 364.5,1296.9 365.2,1296.9 366.0,1296.9 366.8,1296.9 367.5,1296.9 368.2,1296.9 369.0,1296.9 369.8,1296.9 370.5,1296.9 371.2,1296.9 372.0,1296.9 372.8,1296.9 373.5,1296.9 374.2,1296.9 375.0,1296.9 375.8,1296.9 376.5,1296.9 377.2,1296.9 378.0,1296.9 378.8,1296.9 379.5,1296.9 380.2,1296.9 381.0,1296.9 381.8,1296.9 382.5,1296.9 383.2,1296.9 384.0,1296.9 384.8,1296.9 385.5,1296.9 386.2,1296.9 387.0,1296.9 387.8,1296.9 388.5,1296.9 389.2,1296.9 390.0,1296.9 390.8,1296.9 391.5,1296.9 392.2,1296.9 393.0,1296.9 393.8,1296.9 394.5,1296.9 395.2,1296.9 396.0,1296.9 396.8,1296.9 397.5,1296.9 398.2,1296.9 399.0,1296.9 399.8,1296.9 400.5,1296.9 401.2,1296.9 402.0,1296.9 402.8,1296.9 403.5,1296.9 404.2,1296.9 405.0,1296.9 405.8,1296.9 406.5,1296.9 407.2,1296.9 408.0,1296.9 408.8,1296.9 409.5,1296.9 410.2,1296.9 411.0,1296.9 411.8,1296.9 412.5,1296.9 413.2,1296.9 414.0,1296.9 414.8,1296.9 415.5,1296.9 416.2,1296.9 417.0,1296.9 417.8,1296.9 418.5,1296.9 419.2,1296.9 420.0,1296.9 420.8,1296.9 421.5,1296.9 422.2,1296.9 423.0,1296.9 423.8,1296.9 424.5,1296.9 425.2,1296.9 426.0,1296.9 426.8,1296.9 427.5,1296.9 428.2,1296.9 429.0,1296.9 429.8,1296.9 430.5,1296.9 431.2,1296.9 432.0,1296.9 432.8,1296.9 433.5,1296.9 434.2,1296.9 435.0,1296.9 435.8,1296.9 436.5,1296.9 437.2,1296.9 438.0,1296.9 438.8,1296.9 439.5,1296.9 440.2,1296.9 441.0,1296.9 441.8,1296.9 442.5,1296.9 443.2,1296.9 444.0,1296.9 444.8,1296.9 445.5,1296.9 446.2,1296.9 447.0,1296.9 447.8,1296.8 448.5,1296.8 449.2,1296.8 450.0,1296.8 450.8,1296.8 451.5,1296.8 452.2,1296.8 453.0,1296.8 453.8,1296.8 454.5,1296.8 455.2,1296.8 456.0,1296.8 456.8,1296.8 457.5,1296.8 458.2,1296.8 459.0,1296.8 459.8,1296.8 460.5,1296.8 461.2,1296.8 462.0,1296.8 462.8,1296.8 463.5,1296.8 464.2,1296.8 465.0,1296.8 465.8,1296.8 466.5,1296.8 467.2,1296.8 468.0,1296.8 468.8,1296.8 469.5,1296.8 470.2,1296.8 471.0,1296.8 471.8,1296.8 472.5,1296.8 473.2,1296.8 474.0,1296.8 474.8,1296.8 475.5,1296.8 476.2,1296.8 477.0,1296.8 477.8,1296.8 478.5,1296.8 479.2,1296.8 480.0,1296.8 480.8,1296.8 481.5,1296.8 482.2,1296.8 483.0,1296.8 483.8,1296.8 484.5,1296.8 485.2,1296.8 486.0,1296.8 486.8,1296.8 487.5,1296.8 488.2,1296.8 489.0,1296.8 489.8,1296.8 490.5,1296.8 491.2,1296.8 492.0,1296.8 492.8,1296.8 493.5,1296.8 494.2,1296.8 495.0,1296.8 495.8,1296.8 496.5,1296.8 497.2,1296.8 498.0,1296.8 498.8,1296.8 499.5,1296.8 500.2,1296.7 501.0,1296.7 501.8,1296.7 502.5,1296.7 503.2,1296.7 504.0,1296.7 504.8,1296.7 505.5,1296.7 506.2,1296.7 507.0,1296.7 507.8,1296.7 508.5,1296.7 509.2,1296.7 510.0,1296.7 510.8,1296.7 511.5,1296.7 512.2,1296.7 513.0,1296.7 513.8,1296.7 514.5,1296.7 515.2,1296.7 516.0,1296.7 516.8,1296.7 517.5,1296.7 518.2,1296.7 519.0,1296.7 519.8,1296.7 520.5,1296.7 521.2,1296.7 522.0,1296.7 522.8,1296.7 523.5,1296.7 524.2,1296.7 525.0,1296.7 525.8,1296.7 526.5,1296.7 527.2,1296.7 528.0,1296.7 528.8,1296.6 529.5,1296.6 530.2,1296.6 531.0,1296.6 531.8,1296.6 532.5,1296.6 533.2,1296.6 534.0,1296.6 534.8,1296.6 535.5,1296.6 536.2,1296.6 537.0,1296.6 537.8,1296.6 538.5,1296.6 539.2,1296.6 540.0,1296.6 540.8,1296.6 541.5,1296.6 542.2,1296.6 543.0,1296.6 543.8,1296.6 544.5,1296.6 545.2,1296.5 546.0,1296.5 546.8,1296.5 547.5,1296.5 548.2,1296.5 549.0,1296.5 549.8,1296.5 550.5,1296.5 551.2,1296.5 552.0,1296.5 552.8,1296.5 553.5,1296.5 554.2,1296.5 555.0,1296.5 555.8,1296.4 556.5,1296.4 557.2,1296.4 558.0,1296.4 558.8,1296.4 559.5,1296.4 560.2,1296.4 561.0,1296.4 561.8,1296.4 562.5,1296.3 563.2,1296.3 564.0,1296.3 564.8,1296.3 565.5,1296.3 566.2,1296.3 567.0,1296.3 567.8,1296.2 568.5,1296.2 569.2,1296.2 570.0,1296.2 570.8,1296.1 571.5,1296.1 572.2,1296.1 573.0,1296.1 573.8,1296.0 574.5,1296.0 575.2,1296.0 576.0,1295.9 576.8,1295.9 577.5,1295.9 578.2,1295.8 579.0,1295.8 579.8,1295.8 580.5,1295.7 581.2,1295.7 582.0,1295.6 582.8,1295.6 583.5,1295.5 584.2,1295.5 585.0,1295.4 585.8,1295.3 586.5,1295.3 587.2,1295.2 588.0,1295.1 588.8,1295.0 589.5,1295.0 590.2,1294.9 591.0,1294.8 591.8,1294.7 592.5,1294.6 593.2,1294.5 594.0,1294.4 594.8,1294.3 595.5,1294.1 596.2,1294.0 597.0,1293.9 597.8,1293.8 598.5,1293.6 599.2,1293.5 600.0,1293.3 600.8,1293.2 601.5,1293.0 602.2,1292.8 603.0,1292.6 603.8,1292.4 604.5,1292.2 605.2,1292.0 606.0,1291.8 606.8,1291.6 607.5,1291.4 608.2,1291.1 609.0,1290.9 609.8,1290.6 610.5,1290.4 611.2,1290.1 612.0,1289.8 612.8,1289.5 613.5,1289.2 614.2,1288.9 615.0,1288.6 615.8,1288.3 616.5,1287.9 617.2,1287.6 618.0,1287.2 618.8,1286.8 619.5,1286.5 620.2,1286.1 621.0,1285.7 621.8,1285.3 622.5,1284.8 623.2,1284.4 624.0,1284.0 624.8,1283.5 625.5,1283.1 626.2,1282.6 627.0,1282.1 627.8,1281.6 628.5,1281.1 629.2,1280.6 630.0,1280.1 630.8,1279.6 631.5,1279.1 632.2,1278.5 633.0,1278.0 633.8,1277.4 634.5,1276.9 635.2,1276.3 636.0,1275.7 636.8,1275.2 637.5,1274.6 638.2,1274.0 639.0,1273.4 639.8,1272.8 640.5,1272.2 641.2,1271.6 642.0,1271.0 642.8,1270.4 643.5,1269.8 644.2,1269.3 645.0,1268.7 645.8,1268.1 646.5,1267.5 647.2,1266.9 648.0,1266.3 648.8,1265.7 649.5,1265.1 650.2,1264.6 651.0,1264.0 651.8,1263.5 652.5,1262.9 653.2,1262.4 654.0,1261.9 654.8,1261.3 655.5,1260.8 656.2,1260.3 657.0,1259.9 657.8,1259.4 658.5,1259.0 659.2,1258.5 660.0,1258.1 660.8,1257.7 661.5,1257.3 662.2,1257.0 663.0,1256.6 663.8,1256.3 664.5,1256.0 665.2,1255.7 666.0,1255.5 666.8,1255.3 667.5,1255.1 668.2,1254.9 669.0,1254.7 669.8,1254.6 670.5,1254.5 671.2,1254.4 672.0,1254.3 672.8,1254.3 673.5,1254.2 674.2,1254.3 675.0,1254.3 675.8,1254.4 676.5,1254.5 677.2,1254.6 678.0,1254.7 678.8,1254.9 679.5,1255.1 680.2,1255.3 681.0,1255.5 681.8,1255.7 682.5,1256.0 683.2,1256.3 684.0,1256.6 684.8,1257.0 685.5,1257.3 686.2,1257.7 687.0,1258.1 687.8,1258.5 688.5,1259.0 689.2,1259.4 690.0,1259.9 690.8,1260.3 691.5,1260.8 692.2,1261.3 693.0,1261.9 693.8,1262.4 694.5,1262.9 695.2,1263.5 696.0,1264.0 696.8,1264.6 697.5,1265.1 698.2,1265.7 699.0,1266.3 699.8,1266.9 700.5,1267.5 701.2,1268.1 702.0,1268.7 702.8,1269.3 703.5,1269.8 704.2,1270.4 705.0,1271.0 705.8,1271.6 706.5,1272.2 707.2,1272.8 708.0,1273.4 708.8,1274.0 709.5,1274.6 710.2,1275.2 711.0,1275.7 711.8,1276.3 712.5,1276.9 713.2,1277.4 714.0,1278.0 714.8,1278.5 715.5,1279.1 716.2,1279.6 717.0,1280.1 717.8,1280.6 718.5,1281.1 719.2,1281.6 720.0,1282.1 720.8,1282.6 721.5,1283.1 722.2,1283.5 723.0,1284.0 723.8,1284.4 724.5,1284.8 725.2,1285.3 726.0,1285.7 726.8,1286.1 727.5,1286.5 728.2,1286.8 729.0,1287.2 729.8,1287.6 730.5,1287.9 731.2,1288.3 732.0,1288.6 732.8,1288.9 733.5,1289.2 734.2,1289.5 735.0,1289.8 735.8,1290.1 736.5,1290.4 737.2,1290.6 738.0,1290.9 738.8,1291.1 739.5,1291.4 740.2,1291.6 741.0,1291.8 741.8,1292.0 742.5,1292.2 743.2,1292.4 744.0,1292.6 744.8,1292.8 745.5,1293.0 746.2,1293.2 747.0,1293.3 747.8,1293.5 748.5,1293.6 749.2,1293.8 750.0,1293.9 750.8,1294.0 751.5,1294.1 752.2,1294.3 753.0,1294.4 753.8,1294.5 754.5,1294.6 755.2,1294.7 756.0,1294.8 756.8,1294.9 757.5,1295.0 758.2,1295.0 759.0,1295.1 759.8,1295.2 760.5,1295.3 761.2,1295.3 762.0,1295.4 762.8,1295.5 763.5,1295.5 764.2,1295.6 765.0,1295.6 765.8,1295.7 766.5,1295.7 767.2,1295.8" fill="none" stroke="#4266c2" stroke-width="2.2" stroke-linejoin="round" stroke-linecap="round" />
<polyline points="160.5,1296.9 161.2,1296.9 162.0,1296.9 162.8,1296.9 163.5,1296.9 164.2,1296.9 165.0,1296.9 165.8,1296.9 166.5,1296.9 167.2,1296.9 168.0,1296.9 168.8,1296.9 169.5,1296.9 170.2,1296.9 171.0,1296.9 171.8,1296.9 172.5,1296.9 173.2,1296.9 174.0,1296.9 174.8,1296.9 175.5,1296.9 176.2,1296.9 177.0,1296.9 177.8,1296.9 178.5,1296.9 179.2,1296.9 180.0,1296.9 180.8,1296.9 181.5,1296.9 182.2,1296.9 183.0,1296.9 183.8,1296.9 184.5,1296.9 185.2,1296.9 186.0,1296.9 186.8,1296.9 187.5,1296.9 188.2,1296.9 189.0,1296.9 189.8,1296.9 190.5,1296.9 191.2,1296.9 192.0,1296.9 192.8,1296.9 193.5,1296.9 194.2,1296.9 195.0,1296.9 195.8,1296.9 196.5,1296.9 197.2,1296.9 198.0,1296.9 198.8,1296.9 199.5,1296.9 200.2,1296.9 201.0,1296.9 201.8,1296.9 202.5,1296.9 203.2,1296.9 204.0,1296.9 204.8,1296.9 205.5,1296.9 206.2,1296.9 207.0,1296.9 207.8,1296.9 208.5,1296.9 209.2,1296.9 210.0,1296.9 210.8,1296.9 211.5,1296.9 212.2,1296.8 213.0,1296.8 213.8,1296.8 214.5,1296.8 215.2,1296.8 216.0,1296.8 216.8,1296.8 217.5,1296.8 218.2,1296.8 219.0,1296.8 219.8,1296.8 220.5,1296.8 221.2,1296.8 222.0,1296.8 222.8,1296.8 223.5,1296.8 224.2,1296.8 225.0,1296.8 225.8,1296.8 226.5,1296.8 227.2,1296.8 228.0,1296.8 228.8,1296.8 229.5,1296.8 230.2,1296.8 231.0,1296.8 231.8,1296.8 232.5,1296.8 233.2,1296.8 234.0,1296.8 234.8,1296.8 235.5,1296.8 236.2,1296.8 237.0,1296.8 237.8,1296.8 238.5,1296.8 239.2,1296.8 240.0,1296.8 240.8,1296.8 241.5,1296.8 242.2,1296.8 243.0,1296.8 243.8,1296.8 244.5,1296.8 245.2,1296.8 246.0,1296.8 246.8,1296.8 247.5,1296.8 248.2,1296.8 249.0,1296.8 249.8,1296.8 250.5,1296.8 251.2,1296.8 252.0,1296.8 252.8,1296.8 253.5,1296.8 254.2,1296.8 255.0,1296.8 255.8,1296.8 256.5,1296.8 257.2,1296.8 258.0,1296.8 258.8,1296.8 259.5,1296.8 260.2,1296.8 261.0,1296.8 261.8,1296.8 262.5,1296.8 263.2,1296.8 264.0,1296.8 264.8,1296.8 265.5,1296.8 266.2,1296.8 267.0,1296.8 267.8,1296.8 268.5,1296.8 269.2,1296.8 270.0,1296.8 270.8,1296.8 271.5,1296.8 272.2,1296.8 273.0,1296.8 273.8,1296.8 274.5,1296.8 275.2,1296.8 276.0,1296.8 276.8,1296.8 277.5,1296.8 278.2,1296.8 279.0,1296.8 279.8,1296.8 280.5,1296.8 281.2,1296.8 282.0,1296.8 282.8,1296.8 283.5,1296.8 284.2,1296.8 285.0,1296.8 285.8,1296.8 286.5,1296.8 287.2,1296.8 288.0,1296.7 288.8,1296.7 289.5,1296.7 290.2,1296.7 291.0,1296.7 291.8,1296.7 292.5,1296.7 293.2,1296.7 294.0,1296.7 294.8,1296.7 295.5,1296.7 296.2,1296.7 297.0,1296.7 297.8,1296.7 298.5,1296.7 299.2,1296.7 300.0,1296.7 300.8,1296.7 301.5,1296.7 302.2,1296.7 303.0,1296.7 303.8,1296.7 304.5,1296.7 305.2,1296.7 306.0,1296.7 306.8,1296.7 307.5,1296.7 308.2,1296.7 309.0,1296.7 309.8,1296.7 310.5,1296.7 311.2,1296.7 312.0,1296.7 312.8,1296.7 313.5,1296.7 314.2,1296.7 315.0,1296.7 315.8,1296.7 316.5,1296.7 317.2,1296.7 318.0,1296.7 318.8,1296.7 319.5,1296.7 320.2,1296.7 321.0,1296.7 321.8,1296.7 322.5,1296.7 323.2,1296.7 324.0,1296.7 324.8,1296.7 325.5,1296.7 326.2,1296.7 327.0,1296.7 327.8,1296.6 328.5,1296.6 329.2,1296.6 330.0,1296.6 330.8,1296.6 331.5,1296.6 332.2,1296.6 333.0,1296.6 333.8,1296.6 334.5,1296.6 335.2,1296.6 336.0,1296.6 336.8,1296.6 337.5,1296.6 338.2,1296.6 339.0,1296.6 339.8,1296.6 340.5,1296.6 341.2,1296.6 342.0,1296.6 342.8,1296.6 343.5,1296.6 344.2,1296.6 345.0,1296.6 345.8,1296.6 346.5,1296.6 347.2,1296.6 348.0,1296.6 348.8,1296.6 349.5,1296.6 350.2,1296.6 351.0,1296.6 351.8,1296.6 352.5,1296.6 353.2,1296.6 354.0,1296.5 354.8,1296.5 355.5,1296.5 356.2,1296.5 357.0,1296.5 357.8,1296.5 358.5,1296.5 359.2,1296.5 360.0,1296.5 360.8,1296.5 361.5,1296.5 362.2,1296.5 363.0,1296.5 363.8,1296.5 364.5,1296.5 365.2,1296.5 366.0,1296.5 366.8,1296.5 367.5,1296.5 368.2,1296.5 369.0,1296.5 369.8,1296.5 370.5,1296.5 371.2,1296.5 372.0,1296.5 372.8,1296.4 373.5,1296.4 374.2,1296.4 375.0,1296.4 375.8,1296.4 376.5,1296.4 377.2,1296.4 378.0,1296.4 378.8,1296.4 379.5,1296.4 380.2,1296.4 381.0,1296.4 381.8,1296.4 382.5,1296.4 383.2,1296.4 384.0,1296.4 384.8,1296.4 385.5,1296.4 386.2,1296.4 387.0,1296.3 387.8,1296.3 388.5,1296.3 389.2,1296.3 390.0,1296.3 390.8,1296.3 391.5,1296.3 392.2,1296.3 393.0,1296.3 393.8,1296.3 394.5,1296.3 395.2,1296.3 396.0,1296.3 396.8,1296.3 397.5,1296.3 398.2,1296.2 399.0,1296.2 399.8,1296.2 400.5,1296.2 401.2,1296.2 402.0,1296.2 402.8,1296.2 403.5,1296.2 404.2,1296.2 405.0,1296.2 405.8,1296.2 406.5,1296.2 407.2,1296.1 408.0,1296.1 408.8,1296.1 409.5,1296.1 410.2,1296.1 411.0,1296.1 411.8,1296.1 412.5,1296.1 413.2,1296.1 414.0,1296.1 414.8,1296.0 415.5,1296.0 416.2,1296.0 417.0,1296.0 417.8,1296.0 418.5,1296.0 419.2,1296.0 420.0,1296.0 420.8,1296.0 421.5,1295.9 422.2,1295.9 423.0,1295.9 423.8,1295.9 424.5,1295.9 425.2,1295.9 426.0,1295.9 426.8,1295.9 427.5,1295.8 428.2,1295.8 429.0,1295.8 429.8,1295.8 430.5,1295.8 431.2,1295.8 432.0,1295.7 432.8,1295.7 433.5,1295.7 434.2,1295.7 435.0,1295.7 435.8,1295.7 436.5,1295.6 437.2,1295.6 438.0,1295.6 438.8,1295.6 439.5,1295.6 440.2,1295.6 441.0,1295.5 441.8,1295.5 442.5,1295.5 443.2,1295.5 444.0,1295.5 444.8,1295.4 445.5,1295.4 446.2,1295.4 447.0,1295.4 447.8,1295.3 448.5,1295.3 449.2,1295.3 450.0,1295.3 450.8,1295.2 451.5,1295.2 452.2,1295.2 453.0,1295.1 453.8,1295.1 454.5,1295.1 455.2,1295.1 456.0,1295.0 456.8,1295.0 457.5,1295.0 458.2,1294.9 459.0,1294.9 459.8,1294.9 460.5,1294.8 461.2,1294.8 462.0,1294.7 462.8,1294.7 463.5,1294.7 464.2,1294.6 465.0,1294.6 465.8,1294.5 466.5,1294.5 467.2,1294.4 468.0,1294.4 468.8,1294.3 469.5,1294.3 470.2,1294.2 471.0,1294.2 471.8,1294.1 472.5,1294.0 473.2,1294.0 474.0,1293.9 474.8,1293.8 475.5,1293.8 476.2,1293.7 477.0,1293.6 477.8,1293.6 478.5,1293.5 479.2,1293.4 480.0,1293.3 480.8,1293.2 481.5,1293.1 482.2,1293.0 483.0,1292.9 483.8,1292.8 484.5,1292.7 485.2,1292.6 486.0,1292.5 486.8,1292.4 487.5,1292.2 488.2,1292.1 489.0,1292.0 489.8,1291.8 490.5,1291.7 491.2,1291.5 492.0,1291.4 492.8,1291.2 493.5,1291.1 494.2,1290.9 495.0,1290.7 495.8,1290.5 496.5,1290.3 497.2,1290.2 498.0,1289.9 498.8,1289.7 499.5,1289.5 500.2,1289.3 501.0,1289.1 501.8,1288.8 502.5,1288.6 503.2,1288.3 504.0,1288.1 504.8,1287.8 505.5,1287.5 506.2,1287.3 507.0,1287.0 507.8,1286.7 508.5,1286.4 509.2,1286.1 510.0,1285.7 510.8,1285.4 511.5,1285.1 512.2,1284.7 513.0,1284.4 513.8,1284.0 514.5,1283.6 515.2,1283.3 516.0,1282.9 516.8,1282.5 517.5,1282.1 518.2,1281.7 519.0,1281.3 519.8,1280.9 520.5,1280.5 521.2,1280.1 522.0,1279.6 522.8,1279.2 523.5,1278.8 524.2,1278.4 525.0,1277.9 525.8,1277.5 526.5,1277.1 527.2,1276.7 528.0,1276.3 528.8,1275.8 529.5,1275.4 530.2,1275.0 531.0,1274.7 531.8,1274.3 532.5,1273.9 533.2,1273.6 534.0,1273.3 534.8,1273.0 535.5,1272.7 536.2,1272.4 537.0,1272.2 537.8,1271.9 538.5,1271.7 539.2,1271.6 540.0,1271.4 540.8,1271.3 541.5,1271.2 542.2,1271.2 543.0,1271.2 543.8,1271.2 544.5,1271.2 545.2,1271.3 546.0,1271.4 546.8,1271.5 547.5,1271.7 548.2,1271.9 549.0,1272.1 549.8,1272.3 550.5,1272.6 551.2,1272.8 552.0,1273.1 552.8,1273.5 553.5,1273.8 554.2,1274.2 555.0,1274.5 555.8,1274.9 556.5,1275.3 557.2,1275.7 558.0,1276.1 558.8,1276.5 559.5,1276.9 560.2,1277.4 561.0,1277.8 561.8,1278.2 562.5,1278.6 563.2,1279.1 564.0,1279.5 564.8,1279.9 565.5,1280.3 566.2,1280.7 567.0,1281.2 567.8,1281.6 568.5,1282.0 569.2,1282.4 570.0,1282.7 570.8,1283.1 571.5,1283.5 572.2,1283.9 573.0,1284.2 573.8,1284.6 574.5,1284.9 575.2,1285.3 576.0,1285.6 576.8,1285.9 577.5,1286.2 578.2,1286.6 579.0,1286.9 579.8,1287.1 580.5,1287.4 581.2,1287.7 582.0,1288.0 582.8,1288.2 583.5,1288.5 584.2,1288.7 585.0,1289.0 585.8,1289.2 586.5,1289.4 587.2,1289.7 588.0,1289.9 588.8,1290.1 589.5,1290.3 590.2,1290.5 591.0,1290.7 591.8,1290.8 592.5,1291.0 593.2,1291.2 594.0,1291.3 594.8,1291.5 595.5,1291.6 596.2,1291.8 597.0,1291.9 597.8,1292.1 598.5,1292.2 599.2,1292.3 600.0,1292.4 600.8,1292.6 601.5,1292.7 602.2,1292.8 603.0,1292.9 603.8,1293.0 604.5,1293.1 605.2,1293.2 606.0,1293.3 606.8,1293.4 607.5,1293.4 608.2,1293.5 609.0,1293.6 609.8,1293.7 610.5,1293.8 611.2,1293.8 612.0,1293.9 612.8,1294.0 613.5,1294.0 614.2,1294.1 615.0,1294.1 615.8,1294.2 616.5,1294.3 617.2,1294.3 618.0,1294.4 618.8,1294.4 619.5,1294.5 620.2,1294.5 621.0,1294.6 621.8,1294.6 622.5,1294.6 623.2,1294.7 624.0,1294.7 624.8,1294.8 625.5,1294.8 626.2,1294.8 627.0,1294.9 627.8,1294.9 628.5,1294.9 629.2,1295.0 630.0,1295.0 630.8,1295.0 631.5,1295.1 632.2,1295.1 633.0,1295.1 633.8,1295.2 634.5,1295.2 635.2,1295.2 636.0,1295.2 636.8,1295.3 637.5,1295.3 638.2,1295.3 639.0,1295.4 639.8,1295.4 640.5,1295.4 641.2,1295.4 642.0,1295.4 642.8,1295.5 643.5,1295.5 644.2,1295.5 645.0,1295.5 645.8,1295.5 646.5,1295.6 647.2,1295.6 648.0,1295.6 648.8,1295.6 649.5,1295.6 650.2,1295.7 651.0,1295.7 651.8,1295.7 652.5,1295.7 653.2,1295.7 654.0,1295.7 654.8,1295.8 655.5,1295.8 656.2,1295.8 657.0,1295.8 657.8,1295.8 658.5,1295.8 659.2,1295.8 660.0,1295.9 660.8,1295.9 661.5,1295.9 662.2,1295.9 663.0,1295.9 663.8,1295.9 664.5,1295.9 665.2,1296.0 666.0,1296.0 666.8,1296.0 667.5,1296.0 668.2,1296.0 669.0,1296.0 669.8,1296.0 670.5,1296.0 671.2,1296.0 672.0,1296.1 672.8,1296.1 673.5,1296.1 674.2,1296.1 675.0,1296.1 675.8,1296.1 676.5,1296.1 677.2,1296.1 678.0,1296.1 678.8,1296.1 679.5,1296.1 680.2,1296.2 681.0,1296.2 681.8,1296.2 682.5,1296.2 683.2,1296.2 684.0,1296.2 684.8,1296.2 685.5,1296.2 686.2,1296.2 687.0,1296.2 687.8,1296.2 688.5,1296.2 689.2,1296.3 690.0,1296.3 690.8,1296.3 691.5,1296.3 692.2,1296.3 693.0,1296.3 693.8,1296.3 694.5,1296.3 695.2,1296.3 696.0,1296.3 696.8,1296.3 697.5,1296.3 698.2,1296.3 699.0,1296.3 699.8,1296.3 700.5,1296.4 701.2,1296.4 702.0,1296.4 702.8,1296.4 703.5,1296.4 704.2,1296.4 705.0,1296.4 705.8,1296.4 706.5,1296.4 707.2,1296.4 708.0,1296.4 708.8,1296.4 709.5,1296.4 710.2,1296.4 711.0,1296.4 711.8,1296.4 712.5,1296.4 713.2,1296.4 714.0,1296.4 714.8,1296.5 715.5,1296.5 716.2,1296.5 717.0,1296.5 717.8,1296.5 718.5,1296.5 719.2,1296.5 720.0,1296.5 720.8,1296.5 721.5,1296.5 722.2,1296.5 723.0,1296.5 723.8,1296.5 724.5,1296.5 725.2,1296.5 726.0,1296.5 726.8,1296.5 727.5,1296.5 728.2,1296.5 729.0,1296.5 729.8,1296.5 730.5,1296.5 731.2,1296.5 732.0,1296.5 732.8,1296.6 733.5,1296.6 734.2,1296.6 735.0,1296.6 735.8,1296.6 736.5,1296.6 737.2,1296.6 738.0,1296.6 738.8,1296.6 739.5,1296.6 740.2,1296.6 741.0,1296.6 741.8,1296.6 742.5,1296.6 743.2,1296.6 744.0,1296.6 744.8,1296.6 745.5,1296.6 746.2,1296.6 747.0,1296.6 747.8,1296.6 748.5,1296.6 749.2,1296.6 750.0,1296.6 750.8,1296.6 751.5,1296.6 752.2,1296.6 753.0,1296.6 753.8,1296.6 754.5,1296.6 755.2,1296.6 756.0,1296.6 756.8,1296.6 757.5,1296.6 758.2,1296.6 759.0,1296.7 759.8,1296.7 760.5,1296.7 761.2,1296.7 762.0,1296.7 762.8,1296.7 763.5,1296.7 764.2,1296.7 765.0,1296.7 765.8,1296.7 766.5,1296.7 767.2,1296.7" fill="none" stroke="#2e8b4e" stroke-width="2.6" stroke-linejoin="round" stroke-linecap="round" />
<polyline points="160.5,1296.5 161.2,1296.5 162.0,1296.5 162.8,1296.5 163.5,1296.5 164.2,1296.5 165.0,1296.5 165.8,1296.5 166.5,1296.5 167.2,1296.5 168.0,1296.5 168.8,1296.5 169.5,1296.5 170.2,1296.5 171.0,1296.5 171.8,1296.5 172.5,1296.5 173.2,1296.5 174.0,1296.5 174.8,1296.5 175.5,1296.5 176.2,1296.5 177.0,1296.5 177.8,1296.5 178.5,1296.5 179.2,1296.5 180.0,1296.5 180.8,1296.5 181.5,1296.5 182.2,1296.4 183.0,1296.4 183.8,1296.4 184.5,1296.4 185.2,1296.4 186.0,1296.4 186.8,1296.4 187.5,1296.4 188.2,1296.4 189.0,1296.4 189.8,1296.4 190.5,1296.4 191.2,1296.4 192.0,1296.4 192.8,1296.4 193.5,1296.4 194.2,1296.4 195.0,1296.4 195.8,1296.4 196.5,1296.4 197.2,1296.4 198.0,1296.4 198.8,1296.4 199.5,1296.4 200.2,1296.4 201.0,1296.4 201.8,1296.4 202.5,1296.4 203.2,1296.4 204.0,1296.4 204.8,1296.4 205.5,1296.4 206.2,1296.4 207.0,1296.4 207.8,1296.4 208.5,1296.4 209.2,1296.4 210.0,1296.4 210.8,1296.4 211.5,1296.4 212.2,1296.4 213.0,1296.4 213.8,1296.4 214.5,1296.3 215.2,1296.3 216.0,1296.3 216.8,1296.3 217.5,1296.3 218.2,1296.3 219.0,1296.3 219.8,1296.3 220.5,1296.3 221.2,1296.3 222.0,1296.3 222.8,1296.3 223.5,1296.3 224.2,1296.3 225.0,1296.3 225.8,1296.3 226.5,1296.3 227.2,1296.3 228.0,1296.3 228.8,1296.3 229.5,1296.3 230.2,1296.3 231.0,1296.3 231.8,1296.3 232.5,1296.3 233.2,1296.3 234.0,1296.3 234.8,1296.3 235.5,1296.3 236.2,1296.3 237.0,1296.3 237.8,1296.3 238.5,1296.3 239.2,1296.2 240.0,1296.2 240.8,1296.2 241.5,1296.2 242.2,1296.2 243.0,1296.2 243.8,1296.2 244.5,1296.2 245.2,1296.2 246.0,1296.2 246.8,1296.2 247.5,1296.2 248.2,1296.2 249.0,1296.2 249.8,1296.2 250.5,1296.2 251.2,1296.2 252.0,1296.2 252.8,1296.2 253.5,1296.2 254.2,1296.2 255.0,1296.2 255.8,1296.2 256.5,1296.2 257.2,1296.2 258.0,1296.2 258.8,1296.2 259.5,1296.2 260.2,1296.1 261.0,1296.1 261.8,1296.1 262.5,1296.1 263.2,1296.1 264.0,1296.1 264.8,1296.1 265.5,1296.1 266.2,1296.1 267.0,1296.1 267.8,1296.1 268.5,1296.1 269.2,1296.1 270.0,1296.1 270.8,1296.1 271.5,1296.1 272.2,1296.1 273.0,1296.1 273.8,1296.1 274.5,1296.1 275.2,1296.1 276.0,1296.1 276.8,1296.1 277.5,1296.0 278.2,1296.0 279.0,1296.0 279.8,1296.0 280.5,1296.0 281.2,1296.0 282.0,1296.0 282.8,1296.0 283.5,1296.0 284.2,1296.0 285.0,1296.0 285.8,1296.0 286.5,1296.0 287.2,1296.0 288.0,1296.0 288.8,1296.0 289.5,1296.0 290.2,1296.0 291.0,1296.0 291.8,1295.9 292.5,1295.9 293.2,1295.9 294.0,1295.9 294.8,1295.9 295.5,1295.9 296.2,1295.9 297.0,1295.9 297.8,1295.9 298.5,1295.9 299.2,1295.9 300.0,1295.9 300.8,1295.9 301.5,1295.9 302.2,1295.9 303.0,1295.9 303.8,1295.9 304.5,1295.8 305.2,1295.8 306.0,1295.8 306.8,1295.8 307.5,1295.8 308.2,1295.8 309.0,1295.8 309.8,1295.8 310.5,1295.8 311.2,1295.8 312.0,1295.8 312.8,1295.8 313.5,1295.8 314.2,1295.8 315.0,1295.8 315.8,1295.7 316.5,1295.7 317.2,1295.7 318.0,1295.7 318.8,1295.7 319.5,1295.7 320.2,1295.7 321.0,1295.7 321.8,1295.7 322.5,1295.7 323.2,1295.7 324.0,1295.7 324.8,1295.7 325.5,1295.7 326.2,1295.6 327.0,1295.6 327.8,1295.6 328.5,1295.6 329.2,1295.6 330.0,1295.6 330.8,1295.6 331.5,1295.6 332.2,1295.6 333.0,1295.6 333.8,1295.6 334.5,1295.5 335.2,1295.5 336.0,1295.5 336.8,1295.5 337.5,1295.5 338.2,1295.5 339.0,1295.5 339.8,1295.5 340.5,1295.5 341.2,1295.5 342.0,1295.5 342.8,1295.4 343.5,1295.4 344.2,1295.4 345.0,1295.4 345.8,1295.4 346.5,1295.4 347.2,1295.4 348.0,1295.4 348.8,1295.4 349.5,1295.4 350.2,1295.3 351.0,1295.3 351.8,1295.3 352.5,1295.3 353.2,1295.3 354.0,1295.3 354.8,1295.3 355.5,1295.3 356.2,1295.3 357.0,1295.2 357.8,1295.2 358.5,1295.2 359.2,1295.2 360.0,1295.2 360.8,1295.2 361.5,1295.2 362.2,1295.2 363.0,1295.1 363.8,1295.1 364.5,1295.1 365.2,1295.1 366.0,1295.1 366.8,1295.1 367.5,1295.1 368.2,1295.0 369.0,1295.0 369.8,1295.0 370.5,1295.0 371.2,1295.0 372.0,1295.0 372.8,1295.0 373.5,1294.9 374.2,1294.9 375.0,1294.9 375.8,1294.9 376.5,1294.9 377.2,1294.9 378.0,1294.9 378.8,1294.8 379.5,1294.8 380.2,1294.8 381.0,1294.8 381.8,1294.8 382.5,1294.8 383.2,1294.7 384.0,1294.7 384.8,1294.7 385.5,1294.7 386.2,1294.7 387.0,1294.7 387.8,1294.6 388.5,1294.6 389.2,1294.6 390.0,1294.6 390.8,1294.6 391.5,1294.5 392.2,1294.5 393.0,1294.5 393.8,1294.5 394.5,1294.5 395.2,1294.4 396.0,1294.4 396.8,1294.4 397.5,1294.4 398.2,1294.4 399.0,1294.3 399.8,1294.3 400.5,1294.3 401.2,1294.3 402.0,1294.2 402.8,1294.2 403.5,1294.2 404.2,1294.2 405.0,1294.1 405.8,1294.1 406.5,1294.1 407.2,1294.1 408.0,1294.0 408.8,1294.0 409.5,1294.0 410.2,1294.0 411.0,1293.9 411.8,1293.9 412.5,1293.9 413.2,1293.9 414.0,1293.8 414.8,1293.8 415.5,1293.8 416.2,1293.7 417.0,1293.7 417.8,1293.7 418.5,1293.6 419.2,1293.6 420.0,1293.6 420.8,1293.6 421.5,1293.5 422.2,1293.5 423.0,1293.5 423.8,1293.4 424.5,1293.4 425.2,1293.4 426.0,1293.3 426.8,1293.3 427.5,1293.2 428.2,1293.2 429.0,1293.2 429.8,1293.1 430.5,1293.1 431.2,1293.1 432.0,1293.0 432.8,1293.0 433.5,1292.9 434.2,1292.9 435.0,1292.9 435.8,1292.8 436.5,1292.8 437.2,1292.7 438.0,1292.7 438.8,1292.6 439.5,1292.6 440.2,1292.5 441.0,1292.5 441.8,1292.4 442.5,1292.4 443.2,1292.3 444.0,1292.3 444.8,1292.2 445.5,1292.2 446.2,1292.1 447.0,1292.1 447.8,1292.0 448.5,1292.0 449.2,1291.9 450.0,1291.9 450.8,1291.8 451.5,1291.7 452.2,1291.7 453.0,1291.6 453.8,1291.5 454.5,1291.5 455.2,1291.4 456.0,1291.4 456.8,1291.3 457.5,1291.2 458.2,1291.1 459.0,1291.1 459.8,1291.0 460.5,1290.9 461.2,1290.9 462.0,1290.8 462.8,1290.7 463.5,1290.6 464.2,1290.5 465.0,1290.5 465.8,1290.4 466.5,1290.3 467.2,1290.2 468.0,1290.1 468.8,1290.0 469.5,1289.9 470.2,1289.8 471.0,1289.7 471.8,1289.6 472.5,1289.5 473.2,1289.4 474.0,1289.3 474.8,1289.2 475.5,1289.1 476.2,1289.0 477.0,1288.9 477.8,1288.8 478.5,1288.7 479.2,1288.5 480.0,1288.4 480.8,1288.3 481.5,1288.2 482.2,1288.0 483.0,1287.9 483.8,1287.8 484.5,1287.6 485.2,1287.5 486.0,1287.3 486.8,1287.2 487.5,1287.0 488.2,1286.8 489.0,1286.7 489.8,1286.5 490.5,1286.3 491.2,1286.2 492.0,1286.0 492.8,1285.8 493.5,1285.6 494.2,1285.4 495.0,1285.2 495.8,1285.0 496.5,1284.8 497.2,1284.6 498.0,1284.3 498.8,1284.1 499.5,1283.9 500.2,1283.6 501.0,1283.4 501.8,1283.1 502.5,1282.8 503.2,1282.6 504.0,1282.3 504.8,1282.0 505.5,1281.7 506.2,1281.3 507.0,1281.0 507.8,1280.7 508.5,1280.3 509.2,1279.9 510.0,1279.6 510.8,1279.2 511.5,1278.7 512.2,1278.3 513.0,1277.9 513.8,1277.4 514.5,1276.9 515.2,1276.4 516.0,1275.9 516.8,1275.4 517.5,1274.8 518.2,1274.3 519.0,1273.7 519.8,1273.0 520.5,1272.4 521.2,1271.7 522.0,1271.0 522.8,1270.3 523.5,1269.5 524.2,1268.7 525.0,1267.9 525.8,1267.1 526.5,1266.2 527.2,1265.3 528.0,1264.3 528.8,1263.3 529.5,1262.3 530.2,1261.2 531.0,1260.1 531.8,1259.0 532.5,1257.8 533.2,1256.5 534.0,1255.3 534.8,1253.9 535.5,1252.6 536.2,1251.1 537.0,1249.7 537.8,1248.2 538.5,1246.6 539.2,1245.0 540.0,1243.3 540.8,1241.6 541.5,1239.8 542.2,1238.0 543.0,1236.1 543.8,1234.2 544.5,1232.2 545.2,1230.1 546.0,1228.0 546.8,1225.9 547.5,1223.7 548.2,1221.4 549.0,1219.1 549.8,1216.8 550.5,1214.4 551.2,1211.9 552.0,1209.4 552.8,1206.9 553.5,1204.3 554.2,1201.7 555.0,1199.1 555.8,1196.4 556.5,1193.7 557.2,1191.0 558.0,1188.3 558.8,1185.5 559.5,1182.8 560.2,1180.1 561.0,1177.4 561.8,1174.7 562.5,1172.1 563.2,1169.5 564.0,1167.0 564.8,1164.5 565.5,1162.1 566.2,1159.8 567.0,1157.6 567.8,1155.6 568.5,1153.6 569.2,1151.8 570.0,1150.1 570.8,1148.6 571.5,1147.3 572.2,1146.1 573.0,1145.2 573.8,1144.4 574.5,1143.8 575.2,1143.5 576.0,1143.3 576.8,1143.4 577.5,1143.7 578.2,1144.2 579.0,1144.8 579.8,1145.7 580.5,1146.8 581.2,1148.1 582.0,1149.5 582.8,1151.1 583.5,1152.9 584.2,1154.8 585.0,1156.8 585.8,1158.9 586.5,1161.2 587.2,1163.5 588.0,1166.0 588.8,1168.5 589.5,1171.1 590.2,1173.7 591.0,1176.3 591.8,1179.0 592.5,1181.7 593.2,1184.5 594.0,1187.2 594.8,1189.9 595.5,1192.6 596.2,1195.3 597.0,1198.0 597.8,1200.6 598.5,1203.3 599.2,1205.9 600.0,1208.4 600.8,1210.9 601.5,1213.4 602.2,1215.8 603.0,1218.2 603.8,1220.5 604.5,1222.8 605.2,1225.0 606.0,1227.2 606.8,1229.3 607.5,1231.4 608.2,1233.4 609.0,1235.3 609.8,1237.2 610.5,1239.1 611.2,1240.9 612.0,1242.6 612.8,1244.3 613.5,1245.9 614.2,1247.5 615.0,1249.1 615.8,1250.6 616.5,1252.0 617.2,1253.4 618.0,1254.7 618.8,1256.0 619.5,1257.3 620.2,1258.5 621.0,1259.7 621.8,1260.8 622.5,1261.9 623.2,1262.9 624.0,1263.9 624.8,1264.9 625.5,1265.8 626.2,1266.7 627.0,1267.6 627.8,1268.4 628.5,1269.2 629.2,1270.0 630.0,1270.7 630.8,1271.4 631.5,1272.1 632.2,1272.8 633.0,1273.4 633.8,1274.0 634.5,1274.6 635.2,1275.2 636.0,1275.7 636.8,1276.2 637.5,1276.7 638.2,1277.2 639.0,1277.7 639.8,1278.1 640.5,1278.6 641.2,1279.0 642.0,1279.4 642.8,1279.8 643.5,1280.2 644.2,1280.5 645.0,1280.9 645.8,1281.2 646.5,1281.5 647.2,1281.8 648.0,1282.1 648.8,1282.4 649.5,1282.7 650.2,1283.0 651.0,1283.3 651.8,1283.5 652.5,1283.8 653.2,1284.0 654.0,1284.3 654.8,1284.5 655.5,1284.7 656.2,1284.9 657.0,1285.1 657.8,1285.3 658.5,1285.5 659.2,1285.7 660.0,1285.9 660.8,1286.1 661.5,1286.3 662.2,1286.5 663.0,1286.6 663.8,1286.8 664.5,1286.9 665.2,1287.1 666.0,1287.3 666.8,1287.4 667.5,1287.6 668.2,1287.7 669.0,1287.8 669.8,1288.0 670.5,1288.1 671.2,1288.2 672.0,1288.4 672.8,1288.5 673.5,1288.6 674.2,1288.7 675.0,1288.8 675.8,1289.0 676.5,1289.1 677.2,1289.2 678.0,1289.3 678.8,1289.4 679.5,1289.5 680.2,1289.6 681.0,1289.7 681.8,1289.8 682.5,1289.9 683.2,1290.0 684.0,1290.1 684.8,1290.2 685.5,1290.2 686.2,1290.3 687.0,1290.4 687.8,1290.5 688.5,1290.6 689.2,1290.7 690.0,1290.7 690.8,1290.8 691.5,1290.9 692.2,1291.0 693.0,1291.0 693.8,1291.1 694.5,1291.2 695.2,1291.3 696.0,1291.3 696.8,1291.4 697.5,1291.5 698.2,1291.5 699.0,1291.6 699.8,1291.6 700.5,1291.7 701.2,1291.8 702.0,1291.8 702.8,1291.9 703.5,1291.9 704.2,1292.0 705.0,1292.1 705.8,1292.1 706.5,1292.2 707.2,1292.2 708.0,1292.3 708.8,1292.3 709.5,1292.4 710.2,1292.4 711.0,1292.5 711.8,1292.5 712.5,1292.6 713.2,1292.6 714.0,1292.7 714.8,1292.7 715.5,1292.7 716.2,1292.8 717.0,1292.8 717.8,1292.9 718.5,1292.9 719.2,1293.0 720.0,1293.0 720.8,1293.0 721.5,1293.1 722.2,1293.1 723.0,1293.2 723.8,1293.2 724.5,1293.2 725.2,1293.3 726.0,1293.3 726.8,1293.3 727.5,1293.4 728.2,1293.4 729.0,1293.4 729.8,1293.5 730.5,1293.5 731.2,1293.5 732.0,1293.6 732.8,1293.6 733.5,1293.6 734.2,1293.7 735.0,1293.7 735.8,1293.7 736.5,1293.8 737.2,1293.8 738.0,1293.8 738.8,1293.8 739.5,1293.9 740.2,1293.9 741.0,1293.9 741.8,1294.0 742.5,1294.0 743.2,1294.0 744.0,1294.0 744.8,1294.1 745.5,1294.1 746.2,1294.1 747.0,1294.1 747.8,1294.2 748.5,1294.2 749.2,1294.2 750.0,1294.2 750.8,1294.3 751.5,1294.3 752.2,1294.3 753.0,1294.3 753.8,1294.3 754.5,1294.4 755.2,1294.4 756.0,1294.4 756.8,1294.4 757.5,1294.4 758.2,1294.5 759.0,1294.5 759.8,1294.5 760.5,1294.5 761.2,1294.5 762.0,1294.6 762.8,1294.6 763.5,1294.6 764.2,1294.6 765.0,1294.6 765.8,1294.7 766.5,1294.7 767.2,1294.7" fill="none" stroke="#f41c72" stroke-width="2.6" stroke-linejoin="round" stroke-linecap="round" />
<polyline points="160.5,1296.4 161.2,1296.4 162.0,1296.4 162.8,1296.4 163.5,1296.4 164.2,1296.4 165.0,1296.4 165.8,1296.4 166.5,1296.4 167.2,1296.4 168.0,1296.4 168.8,1296.4 169.5,1296.4 170.2,1296.4 171.0,1296.4 171.8,1296.4 172.5,1296.4 173.2,1296.4 174.0,1296.4 174.8,1296.4 175.5,1296.4 176.2,1296.3 177.0,1296.3 177.8,1296.3 178.5,1296.3 179.2,1296.3 180.0,1296.3 180.8,1296.3 181.5,1296.3 182.2,1296.3 183.0,1296.3 183.8,1296.3 184.5,1296.3 185.2,1296.3 186.0,1296.3 186.8,1296.3 187.5,1296.3 188.2,1296.3 189.0,1296.3 189.8,1296.3 190.5,1296.3 191.2,1296.3 192.0,1296.3 192.8,1296.3 193.5,1296.3 194.2,1296.3 195.0,1296.3 195.8,1296.3 196.5,1296.3 197.2,1296.3 198.0,1296.3 198.8,1296.3 199.5,1296.3 200.2,1296.3 201.0,1296.3 201.8,1296.3 202.5,1296.3 203.2,1296.3 204.0,1296.2 204.8,1296.2 205.5,1296.2 206.2,1296.2 207.0,1296.2 207.8,1296.2 208.5,1296.2 209.2,1296.2 210.0,1296.2 210.8,1296.2 211.5,1296.2 212.2,1296.2 213.0,1296.2 213.8,1296.2 214.5,1296.2 215.2,1296.2 216.0,1296.2 216.8,1296.2 217.5,1296.2 218.2,1296.2 219.0,1296.2 219.8,1296.2 220.5,1296.2 221.2,1296.2 222.0,1296.2 222.8,1296.2 223.5,1296.2 224.2,1296.2 225.0,1296.2 225.8,1296.2 226.5,1296.1 227.2,1296.1 228.0,1296.1 228.8,1296.1 229.5,1296.1 230.2,1296.1 231.0,1296.1 231.8,1296.1 232.5,1296.1 233.2,1296.1 234.0,1296.1 234.8,1296.1 235.5,1296.1 236.2,1296.1 237.0,1296.1 237.8,1296.1 238.5,1296.1 239.2,1296.1 240.0,1296.1 240.8,1296.1 241.5,1296.1 242.2,1296.1 243.0,1296.1 243.8,1296.1 244.5,1296.1 245.2,1296.0 246.0,1296.0 246.8,1296.0 247.5,1296.0 248.2,1296.0 249.0,1296.0 249.8,1296.0 250.5,1296.0 251.2,1296.0 252.0,1296.0 252.8,1296.0 253.5,1296.0 254.2,1296.0 255.0,1296.0 255.8,1296.0 256.5,1296.0 257.2,1296.0 258.0,1296.0 258.8,1296.0 259.5,1296.0 260.2,1296.0 261.0,1296.0 261.8,1295.9 262.5,1295.9 263.2,1295.9 264.0,1295.9 264.8,1295.9 265.5,1295.9 266.2,1295.9 267.0,1295.9 267.8,1295.9 268.5,1295.9 269.2,1295.9 270.0,1295.9 270.8,1295.9 271.5,1295.9 272.2,1295.9 273.0,1295.9 273.8,1295.9 274.5,1295.9 275.2,1295.9 276.0,1295.8 276.8,1295.8 277.5,1295.8 278.2,1295.8 279.0,1295.8 279.8,1295.8 280.5,1295.8 281.2,1295.8 282.0,1295.8 282.8,1295.8 283.5,1295.8 284.2,1295.8 285.0,1295.8 285.8,1295.8 286.5,1295.8 287.2,1295.8 288.0,1295.7 288.8,1295.7 289.5,1295.7 290.2,1295.7 291.0,1295.7 291.8,1295.7 292.5,1295.7 293.2,1295.7 294.0,1295.7 294.8,1295.7 295.5,1295.7 296.2,1295.7 297.0,1295.7 297.8,1295.7 298.5,1295.7 299.2,1295.6 300.0,1295.6 300.8,1295.6 301.5,1295.6 302.2,1295.6 303.0,1295.6 303.8,1295.6 304.5,1295.6 305.2,1295.6 306.0,1295.6 306.8,1295.6 307.5,1295.6 308.2,1295.6 309.0,1295.5 309.8,1295.5 310.5,1295.5 311.2,1295.5 312.0,1295.5 312.8,1295.5 313.5,1295.5 314.2,1295.5 315.0,1295.5 315.8,1295.5 316.5,1295.5 317.2,1295.4 318.0,1295.4 318.8,1295.4 319.5,1295.4 320.2,1295.4 321.0,1295.4 321.8,1295.4 322.5,1295.4 323.2,1295.4 324.0,1295.4 324.8,1295.4 325.5,1295.3 326.2,1295.3 327.0,1295.3 327.8,1295.3 328.5,1295.3 329.2,1295.3 330.0,1295.3 330.8,1295.3 331.5,1295.3 332.2,1295.3 333.0,1295.2 333.8,1295.2 334.5,1295.2 335.2,1295.2 336.0,1295.2 336.8,1295.2 337.5,1295.2 338.2,1295.2 339.0,1295.2 339.8,1295.1 340.5,1295.1 341.2,1295.1 342.0,1295.1 342.8,1295.1 343.5,1295.1 344.2,1295.1 345.0,1295.1 345.8,1295.0 346.5,1295.0 347.2,1295.0 348.0,1295.0 348.8,1295.0 349.5,1295.0 350.2,1295.0 351.0,1295.0 351.8,1294.9 352.5,1294.9 353.2,1294.9 354.0,1294.9 354.8,1294.9 355.5,1294.9 356.2,1294.9 357.0,1294.8 357.8,1294.8 358.5,1294.8 359.2,1294.8 360.0,1294.8 360.8,1294.8 361.5,1294.7 362.2,1294.7 363.0,1294.7 363.8,1294.7 364.5,1294.7 365.2,1294.7 366.0,1294.6 366.8,1294.6 367.5,1294.6 368.2,1294.6 369.0,1294.6 369.8,1294.6 370.5,1294.5 371.2,1294.5 372.0,1294.5 372.8,1294.5 373.5,1294.5 374.2,1294.5 375.0,1294.4 375.8,1294.4 376.5,1294.4 377.2,1294.4 378.0,1294.4 378.8,1294.3 379.5,1294.3 380.2,1294.3 381.0,1294.3 381.8,1294.3 382.5,1294.2 383.2,1294.2 384.0,1294.2 384.8,1294.2 385.5,1294.1 386.2,1294.1 387.0,1294.1 387.8,1294.1 388.5,1294.1 389.2,1294.0 390.0,1294.0 390.8,1294.0 391.5,1294.0 392.2,1293.9 393.0,1293.9 393.8,1293.9 394.5,1293.9 395.2,1293.8 396.0,1293.8 396.8,1293.8 397.5,1293.7 398.2,1293.7 399.0,1293.7 399.8,1293.7 400.5,1293.6 401.2,1293.6 402.0,1293.6 402.8,1293.5 403.5,1293.5 404.2,1293.5 405.0,1293.5 405.8,1293.4 406.5,1293.4 407.2,1293.4 408.0,1293.3 408.8,1293.3 409.5,1293.3 410.2,1293.2 411.0,1293.2 411.8,1293.2 412.5,1293.1 413.2,1293.1 414.0,1293.1 414.8,1293.0 415.5,1293.0 416.2,1292.9 417.0,1292.9 417.8,1292.9 418.5,1292.8 419.2,1292.8 420.0,1292.7 420.8,1292.7 421.5,1292.7 422.2,1292.6 423.0,1292.6 423.8,1292.5 424.5,1292.5 425.2,1292.4 426.0,1292.4 426.8,1292.4 427.5,1292.3 428.2,1292.3 429.0,1292.2 429.8,1292.2 430.5,1292.1 431.2,1292.1 432.0,1292.0 432.8,1292.0 433.5,1291.9 434.2,1291.8 435.0,1291.8 435.8,1291.7 436.5,1291.7 437.2,1291.6 438.0,1291.6 438.8,1291.5 439.5,1291.4 440.2,1291.4 441.0,1291.3 441.8,1291.3 442.5,1291.2 443.2,1291.1 444.0,1291.1 444.8,1291.0 445.5,1290.9 446.2,1290.9 447.0,1290.8 447.8,1290.7 448.5,1290.6 449.2,1290.6 450.0,1290.5 450.8,1290.4 451.5,1290.3 452.2,1290.2 453.0,1290.2 453.8,1290.1 454.5,1290.0 455.2,1289.9 456.0,1289.8 456.8,1289.7 457.5,1289.6 458.2,1289.5 459.0,1289.4 459.8,1289.3 460.5,1289.2 461.2,1289.1 462.0,1289.0 462.8,1288.9 463.5,1288.8 464.2,1288.7 465.0,1288.6 465.8,1288.5 466.5,1288.3 467.2,1288.2 468.0,1288.1 468.8,1288.0 469.5,1287.8 470.2,1287.7 471.0,1287.6 471.8,1287.4 472.5,1287.3 473.2,1287.1 474.0,1287.0 474.8,1286.8 475.5,1286.7 476.2,1286.5 477.0,1286.3 477.8,1286.2 478.5,1286.0 479.2,1285.8 480.0,1285.6 480.8,1285.4 481.5,1285.2 482.2,1285.0 483.0,1284.8 483.8,1284.6 484.5,1284.4 485.2,1284.2 486.0,1283.9 486.8,1283.7 487.5,1283.5 488.2,1283.2 489.0,1282.9 489.8,1282.7 490.5,1282.4 491.2,1282.1 492.0,1281.8 492.8,1281.5 493.5,1281.2 494.2,1280.9 495.0,1280.6 495.8,1280.2 496.5,1279.9 497.2,1279.5 498.0,1279.2 498.8,1278.8 499.5,1278.4 500.2,1278.0 501.0,1277.6 501.8,1277.1 502.5,1276.7 503.2,1276.2 504.0,1275.8 504.8,1275.3 505.5,1274.8 506.2,1274.2 507.0,1273.7 507.8,1273.2 508.5,1272.6 509.2,1272.0 510.0,1271.4 510.8,1270.8 511.5,1270.1 512.2,1269.4 513.0,1268.7 513.8,1268.0 514.5,1267.3 515.2,1266.5 516.0,1265.7 516.8,1264.9 517.5,1264.1 518.2,1263.2 519.0,1262.4 519.8,1261.4 520.5,1260.5 521.2,1259.5 522.0,1258.5 522.8,1257.5 523.5,1256.4 524.2,1255.4 525.0,1254.2 525.8,1253.1 526.5,1251.9 527.2,1250.7 528.0,1249.4 528.8,1248.2 529.5,1246.8 530.2,1245.5 531.0,1244.1 531.8,1242.7 532.5,1241.2 533.2,1239.8 534.0,1238.3 534.8,1236.7 535.5,1235.1 536.2,1233.5 537.0,1231.9 537.8,1230.2 538.5,1228.5 539.2,1226.8 540.0,1225.0 540.8,1223.2 541.5,1221.3 542.2,1219.5 543.0,1217.6 543.8,1215.6 544.5,1213.7 545.2,1211.7 546.0,1209.6 546.8,1207.6 547.5,1205.5 548.2,1203.4 549.0,1201.2 549.8,1199.0 550.5,1196.8 551.2,1194.5 552.0,1192.2 552.8,1189.9 553.5,1187.5 554.2,1185.2 555.0,1182.8 555.8,1180.4 556.5,1177.9 557.2,1175.5 558.0,1173.1 558.8,1170.6 559.5,1168.2 560.2,1165.7 561.0,1163.3 561.8,1160.9 562.5,1158.6 563.2,1156.3 564.0,1154.0 564.8,1151.8 565.5,1149.7 566.2,1147.7 567.0,1145.8 567.8,1144.0 568.5,1142.3 569.2,1140.7 570.0,1139.3 570.8,1138.1 571.5,1137.0 572.2,1136.0 573.0,1135.3 573.8,1134.8 574.5,1134.4 575.2,1134.3 576.0,1134.3 576.8,1134.6 577.5,1135.0 578.2,1135.7 579.0,1136.5 579.8,1137.6 580.5,1138.8 581.2,1140.2 582.0,1141.8 582.8,1143.5 583.5,1145.4 584.2,1147.4 585.0,1149.6 585.8,1151.8 586.5,1154.2 587.2,1156.6 588.0,1159.1 588.8,1161.7 589.5,1164.3 590.2,1167.0 591.0,1169.7 591.8,1172.4 592.5,1175.1 593.2,1177.9 594.0,1180.6 594.8,1183.3 595.5,1186.0 596.2,1188.7 597.0,1191.3 597.8,1193.9 598.5,1196.5 599.2,1199.0 600.0,1201.5 600.8,1204.0 601.5,1206.3 602.2,1208.7 603.0,1210.9 603.8,1213.1 604.5,1215.3 605.2,1217.4 606.0,1219.4 606.8,1221.3 607.5,1223.2 608.2,1225.1 609.0,1226.8 609.8,1228.5 610.5,1230.2 611.2,1231.8 612.0,1233.3 612.8,1234.7 613.5,1236.1 614.2,1237.4 615.0,1238.7 615.8,1239.9 616.5,1241.0 617.2,1242.1 618.0,1243.1 618.8,1244.1 619.5,1245.0 620.2,1245.8 621.0,1246.6 621.8,1247.4 622.5,1248.1 623.2,1248.7 624.0,1249.3 624.8,1249.8 625.5,1250.3 626.2,1250.8 627.0,1251.2 627.8,1251.6 628.5,1251.9 629.2,1252.2 630.0,1252.5 630.8,1252.7 631.5,1252.8 632.2,1253.0 633.0,1253.1 633.8,1253.2 634.5,1253.2 635.2,1253.2 636.0,1253.2 636.8,1253.2 637.5,1253.1 638.2,1253.1 639.0,1253.0 639.8,1252.8 640.5,1252.7 641.2,1252.5 642.0,1252.4 642.8,1252.2 643.5,1251.9 644.2,1251.7 645.0,1251.5 645.8,1251.2 646.5,1251.0 647.2,1250.7 648.0,1250.5 648.8,1250.2 649.5,1249.9 650.2,1249.6 651.0,1249.4 651.8,1249.1 652.5,1248.8 653.2,1248.5 654.0,1248.2 654.8,1248.0 655.5,1247.7 656.2,1247.4 657.0,1247.2 657.8,1246.9 658.5,1246.7 659.2,1246.5 660.0,1246.2 660.8,1246.0 661.5,1245.8 662.2,1245.7 663.0,1245.5 663.8,1245.4 664.5,1245.2 665.2,1245.1 666.0,1245.0 666.8,1244.9 667.5,1244.9 668.2,1244.9 669.0,1244.8 669.8,1244.8 670.5,1244.9 671.2,1244.9 672.0,1245.0 672.8,1245.1 673.5,1245.2 674.2,1245.3 675.0,1245.5 675.8,1245.7 676.5,1245.9 677.2,1246.1 678.0,1246.4 678.8,1246.7 679.5,1246.9 680.2,1247.3 681.0,1247.6 681.8,1248.0 682.5,1248.3 683.2,1248.7 684.0,1249.2 684.8,1249.6 685.5,1250.0 686.2,1250.5 687.0,1251.0 687.8,1251.5 688.5,1252.0 689.2,1252.6 690.0,1253.1 690.8,1253.7 691.5,1254.2 692.2,1254.8 693.0,1255.4 693.8,1256.0 694.5,1256.6 695.2,1257.2 696.0,1257.9 696.8,1258.5 697.5,1259.1 698.2,1259.8 699.0,1260.4 699.8,1261.1 700.5,1261.7 701.2,1262.4 702.0,1263.0 702.8,1263.7 703.5,1264.4 704.2,1265.0 705.0,1265.7 705.8,1266.3 706.5,1267.0 707.2,1267.6 708.0,1268.3 708.8,1268.9 709.5,1269.6 710.2,1270.2 711.0,1270.8 711.8,1271.4 712.5,1272.1 713.2,1272.7 714.0,1273.3 714.8,1273.9 715.5,1274.4 716.2,1275.0 717.0,1275.6 717.8,1276.1 718.5,1276.7 719.2,1277.2 720.0,1277.8 720.8,1278.3 721.5,1278.8 722.2,1279.3 723.0,1279.8 723.8,1280.3 724.5,1280.7 725.2,1281.2 726.0,1281.6 726.8,1282.1 727.5,1282.5 728.2,1282.9 729.0,1283.3 729.8,1283.7 730.5,1284.1 731.2,1284.5 732.0,1284.9 732.8,1285.2 733.5,1285.6 734.2,1285.9 735.0,1286.2 735.8,1286.5 736.5,1286.8 737.2,1287.1 738.0,1287.4 738.8,1287.7 739.5,1288.0 740.2,1288.2 741.0,1288.5 741.8,1288.7 742.5,1288.9 743.2,1289.2 744.0,1289.4 744.8,1289.6 745.5,1289.8 746.2,1290.0 747.0,1290.2 747.8,1290.4 748.5,1290.5 749.2,1290.7 750.0,1290.9 750.8,1291.0 751.5,1291.2 752.2,1291.3 753.0,1291.4 753.8,1291.6 754.5,1291.7 755.2,1291.8 756.0,1291.9 756.8,1292.1 757.5,1292.2 758.2,1292.3 759.0,1292.4 759.8,1292.5 760.5,1292.5 761.2,1292.6 762.0,1292.7 762.8,1292.8 763.5,1292.9 764.2,1293.0 765.0,1293.0 765.8,1293.1 766.5,1293.2 767.2,1293.2" fill="none" stroke="#1a1a1a" stroke-width="3.0" stroke-linejoin="round" stroke-linecap="round" />
<rect x="159.5" y="1103.25" width="609.0" height="242.25" fill="none" stroke="#555555" stroke-width="3.2" stroke-linejoin="round"/>
<line x1="280.9" y1="1103.25" x2="280.9" y2="1113.75" stroke="#a8a8a8" stroke-width="2.0"/>
<line x1="280.9" y1="1345.5" x2="280.9" y2="1335.0" stroke="#a8a8a8" stroke-width="2.0"/>
<line x1="402.8" y1="1103.25" x2="402.8" y2="1113.75" stroke="#a8a8a8" stroke-width="2.0"/>
<line x1="402.8" y1="1345.5" x2="402.8" y2="1335.0" stroke="#a8a8a8" stroke-width="2.0"/>
<line x1="524.8" y1="1103.25" x2="524.8" y2="1113.75" stroke="#a8a8a8" stroke-width="2.0"/>
<line x1="524.8" y1="1345.5" x2="524.8" y2="1335.0" stroke="#a8a8a8" stroke-width="2.0"/>
<line x1="646.7" y1="1103.25" x2="646.7" y2="1113.75" stroke="#a8a8a8" stroke-width="2.0"/>
<line x1="646.7" y1="1345.5" x2="646.7" y2="1335.0" stroke="#a8a8a8" stroke-width="2.0"/>
<line x1="159.5" y1="1248.7" x2="170.0" y2="1248.7" stroke="#a8a8a8" stroke-width="2.0"/>
<line x1="768.5" y1="1248.7" x2="758.0" y2="1248.7" stroke="#a8a8a8" stroke-width="2.0"/>
<line x1="159.5" y1="1200.4" x2="170.0" y2="1200.4" stroke="#a8a8a8" stroke-width="2.0"/>
<line x1="768.5" y1="1200.4" x2="758.0" y2="1200.4" stroke="#a8a8a8" stroke-width="2.0"/>
<line x1="159.5" y1="1152.0" x2="170.0" y2="1152.0" stroke="#a8a8a8" stroke-width="2.0"/>
<line x1="768.5" y1="1152.0" x2="758.0" y2="1152.0" stroke="#a8a8a8" stroke-width="2.0"/>
<text x="142.6" y="1347.9" font-size="39.5" fill="#000" text-anchor="end" >-20</text>
<text x="142.6" y="1299.6" font-size="39.5" fill="#000" text-anchor="end" >0</text>
<text x="142.6" y="1251.3" font-size="39.5" fill="#000" text-anchor="end" >20</text>
<text x="142.6" y="1203.0" font-size="39.5" fill="#000" text-anchor="end" >40</text>
<text x="142.6" y="1154.6" font-size="39.5" fill="#000" text-anchor="end" >60</text>
<text x="142.6" y="1106.3" font-size="39.5" fill="#000" text-anchor="end" >80</text>
<text x="159.5" y="1384.5" font-size="39.5" fill="#000" text-anchor="middle" >1.2</text>
<text x="281.4" y="1384.5" font-size="39.5" fill="#000" text-anchor="middle" >1.4</text>
<text x="403.3" y="1384.5" font-size="39.5" fill="#000" text-anchor="middle" >1.6</text>
<text x="525.3" y="1384.5" font-size="39.5" fill="#000" text-anchor="middle" >1.8</text>
<text x="647.2" y="1384.5" font-size="39.5" fill="#000" text-anchor="middle" >2</text>
<text x="769.1" y="1384.5" font-size="39.5" fill="#000" text-anchor="middle" >2.2</text>
<text x="171.1" y="1155" font-size="50" fill="#000" text-anchor="start" textLength="322.4" lengthAdjust="spacingAndGlyphs">Just exfoliated</text>
<text x="358.7" y="1426" font-size="40" fill="#000" text-anchor="start" >Energy (eV)</text>
<text transform="translate(55.5,1186.2) rotate(-90)" font-size="40" textLength="256" lengthAdjust="spacingAndGlyphs">Intensity (a.u.)</text>
<text x="1.9" y="1491.8" font-size="59" fill="#000" text-anchor="start" >(c)</text>
<path d="M160.8,2052.4 C172.1,2049.6 289.9,2019.9 312.6,2014.1 C335.4,2008.3 441.8,1979.6 464.6,1974.7 C487.3,1969.8 593.7,1950.7 616.5,1949.3 C639.2,1947.9 757.0,1955.3 768.4,1955.8" fill="none" stroke="#111" stroke-width="2.7" stroke-dasharray="14.5 12.5"/>
<circle cx="160.8" cy="2052.4" r="8.2" fill="#111"/>
<circle cx="312.6" cy="2014.1" r="8.2" fill="#111"/>
<circle cx="464.6" cy="1974.7" r="8.2" fill="#111"/>
<circle cx="616.5" cy="1949.3" r="8.2" fill="#111"/>
<circle cx="768.4" cy="1955.8" r="8.2" fill="#111"/>
<path d="M160.8,1980.6 C172.1,1972.9 289.9,1889.8 312.6,1877.0 C335.4,1864.2 441.8,1820.5 464.6,1810.1 C487.3,1799.6 593.7,1746.5 616.5,1737.7 C639.2,1729.0 757.0,1696.8 768.4,1693.5" fill="none" stroke="#f41c72" stroke-width="2.7" stroke-dasharray="15 14"/>
<circle cx="160.8" cy="1980.6" r="8.2" fill="#f41c72"/>
<circle cx="312.6" cy="1877.0" r="8.2" fill="#f41c72"/>
<circle cx="464.6" cy="1810.1" r="8.2" fill="#f41c72"/>
<circle cx="616.5" cy="1737.7" r="8.2" fill="#f41c72"/>
<circle cx="768.4" cy="1693.5" r="8.2" fill="#f41c72"/>
<path d="M160.8,1966.6 C172.1,1956.0 289.9,1843.9 312.6,1825.2 C335.4,1806.5 441.8,1732.4 464.6,1717.2 C487.3,1702.0 593.7,1632.1 616.5,1622.2 C639.2,1612.3 757.0,1588.3 768.4,1585.5" fill="none" stroke="#4266c2" stroke-width="2.7" stroke-dasharray="18 15"/>
<circle cx="160.8" cy="1966.6" r="8.2" fill="#4266c2"/>
<circle cx="312.6" cy="1825.2" r="8.2" fill="#4266c2"/>
<circle cx="464.6" cy="1717.2" r="8.2" fill="#4266c2"/>
<circle cx="616.5" cy="1622.2" r="8.2" fill="#4266c2"/>
<circle cx="768.4" cy="1585.5" r="8.2" fill="#4266c2"/>
<rect x="161.0" y="1527.2" width="607.75" height="540.05" fill="none" stroke="#555555" stroke-width="3.4" stroke-linejoin="round"/>
<line x1="236.7" y1="1527.2" x2="236.7" y2="1537.7" stroke="#a8a8a8" stroke-width="2.0"/>
<line x1="236.7" y1="2067.25" x2="236.7" y2="2056.75" stroke="#a8a8a8" stroke-width="2.0"/>
<line x1="312.6" y1="1527.2" x2="312.6" y2="1537.7" stroke="#a8a8a8" stroke-width="2.0"/>
<line x1="312.6" y1="2067.25" x2="312.6" y2="2056.75" stroke="#a8a8a8" stroke-width="2.0"/>
<line x1="388.6" y1="1527.2" x2="388.6" y2="1537.7" stroke="#a8a8a8" stroke-width="2.0"/>
<line x1="388.6" y1="2067.25" x2="388.6" y2="2056.75" stroke="#a8a8a8" stroke-width="2.0"/>
<line x1="464.6" y1="1527.2" x2="464.6" y2="1537.7" stroke="#a8a8a8" stroke-width="2.0"/>
<line x1="464.6" y1="2067.25" x2="464.6" y2="2056.75" stroke="#a8a8a8" stroke-width="2.0"/>
<line x1="540.5" y1="1527.2" x2="540.5" y2="1537.7" stroke="#a8a8a8" stroke-width="2.0"/>
<line x1="540.5" y1="2067.25" x2="540.5" y2="2056.75" stroke="#a8a8a8" stroke-width="2.0"/>
<line x1="616.5" y1="1527.2" x2="616.5" y2="1537.7" stroke="#a8a8a8" stroke-width="2.0"/>
<line x1="616.5" y1="2067.25" x2="616.5" y2="2056.75" stroke="#a8a8a8" stroke-width="2.0"/>
<line x1="692.4" y1="1527.2" x2="692.4" y2="1537.7" stroke="#a8a8a8" stroke-width="2.0"/>
<line x1="692.4" y1="2067.25" x2="692.4" y2="2056.75" stroke="#a8a8a8" stroke-width="2.0"/>
<line x1="161.0" y1="1959.0" x2="171.5" y2="1959.0" stroke="#a8a8a8" stroke-width="2.0"/>
<line x1="768.75" y1="1959.0" x2="758.25" y2="1959.0" stroke="#a8a8a8" stroke-width="2.0"/>
<line x1="161.0" y1="1851.1" x2="171.5" y2="1851.1" stroke="#a8a8a8" stroke-width="2.0"/>
<line x1="768.75" y1="1851.1" x2="758.25" y2="1851.1" stroke="#a8a8a8" stroke-width="2.0"/>
<line x1="161.0" y1="1743.1" x2="171.5" y2="1743.1" stroke="#a8a8a8" stroke-width="2.0"/>
<line x1="768.75" y1="1743.1" x2="758.25" y2="1743.1" stroke="#a8a8a8" stroke-width="2.0"/>
<line x1="161.0" y1="1635.2" x2="171.5" y2="1635.2" stroke="#a8a8a8" stroke-width="2.0"/>
<line x1="768.75" y1="1635.2" x2="758.25" y2="1635.2" stroke="#a8a8a8" stroke-width="2.0"/>
<text x="144.6" y="2072.6" font-size="39.5" fill="#000" text-anchor="end" >0</text>
<text x="144.6" y="1964.6" font-size="39.5" fill="#000" text-anchor="end" >10</text>
<text x="144.6" y="1856.7" font-size="39.5" fill="#000" text-anchor="end" >20</text>
<text x="144.6" y="1748.7" font-size="39.5" fill="#000" text-anchor="end" >30</text>
<text x="144.6" y="1640.8" font-size="39.5" fill="#000" text-anchor="end" >40</text>
<text x="144.6" y="1532.8" font-size="39.5" fill="#000" text-anchor="end" >50</text>
<text x="160.8" y="2108" font-size="39.5" fill="#000" text-anchor="middle" >0</text>
<text x="236.7" y="2108" font-size="39.5" fill="#000" text-anchor="middle" >5</text>
<text x="312.6" y="2108" font-size="39.5" fill="#000" text-anchor="middle" >10</text>
<text x="388.6" y="2108" font-size="39.5" fill="#000" text-anchor="middle" >15</text>
<text x="464.6" y="2108" font-size="39.5" fill="#000" text-anchor="middle" >20</text>
<text x="540.5" y="2108" font-size="39.5" fill="#000" text-anchor="middle" >25</text>
<text x="616.5" y="2108" font-size="39.5" fill="#000" text-anchor="middle" >30</text>
<text x="692.4" y="2108" font-size="39.5" fill="#000" text-anchor="middle" >35</text>
<text x="768.4" y="2108" font-size="39.5" fill="#000" text-anchor="middle" >40</text>
<text x="275.5" y="2154.75" font-size="40" xml:space="preserve">Annealing time  (min)</text>
<text transform="translate(67.5,2017.2) rotate(-90)" font-size="40" textLength="446.3" lengthAdjust="spacingAndGlyphs">Integrated intensity (a.u.)</text>
<text y="1647.5" font-size="33" fill="#4266c2"><tspan x="307.3">Total</tspan><tspan x="389.5">(</tspan><tspan x="397">X</tspan><tspan x="421" y="1664.5" font-size="23">A</tspan><tspan x="446.5" y="1647.5">+</tspan><tspan x="466">X</tspan><tspan x="488.4" y="1664.5" font-size="23">A</tspan><tspan x="511" y="1647.5">)</tspan></text>
<line x1="505.5" y1="1629" x2="508.5" y2="1629" stroke="#4266c2" stroke-width="1.6"/>
<text x="417.2" y="1874.5" font-size="35.5" fill="#e31f30" text-anchor="start" >X</text>
<text x="439.5" y="1890.5" font-size="24" fill="#e31f30" text-anchor="start" >A</text>
<text x="411.7" y="1947.5" font-size="35.5" fill="#000" text-anchor="start" >X</text>
<text x="433.5" y="1963.5" font-size="24" fill="#000" text-anchor="start" >A</text>
<line x1="450.5" y1="1923" x2="460.5" y2="1923" stroke="#000" stroke-width="1.8"/>
</svg></div></body></html>
